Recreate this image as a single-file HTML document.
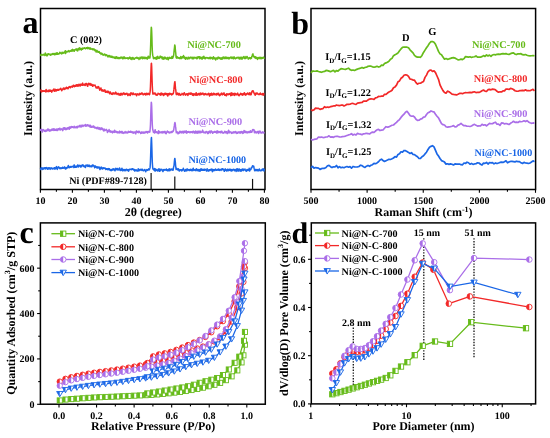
<!DOCTYPE html>
<html><head><meta charset="utf-8"><style>
html,body{margin:0;padding:0;background:#fff;width:550px;height:438px;overflow:hidden}
svg{display:block;filter:blur(0.3px)}
svg text{font-family:"Liberation Serif",serif;font-weight:bold;text-rendering:geometricPrecision}
</style></head><body>
<svg width="550" height="438" viewBox="0 0 550 438">
<rect width="550" height="438" fill="#fff"/>
<rect x="40.5" y="8.5" width="224.5" height="181" fill="none" stroke="#000" stroke-width="1.5"/>
<line x1="40.4" y1="189.5" x2="40.4" y2="192.8" stroke="#000" stroke-width="1.1"/>
<line x1="56.4" y1="189.5" x2="56.4" y2="191.7" stroke="#000" stroke-width="1.1"/>
<line x1="72.4" y1="189.5" x2="72.4" y2="192.8" stroke="#000" stroke-width="1.1"/>
<line x1="88.4" y1="189.5" x2="88.4" y2="191.7" stroke="#000" stroke-width="1.1"/>
<line x1="104.4" y1="189.5" x2="104.4" y2="192.8" stroke="#000" stroke-width="1.1"/>
<line x1="120.4" y1="189.5" x2="120.4" y2="191.7" stroke="#000" stroke-width="1.1"/>
<line x1="136.4" y1="189.5" x2="136.4" y2="192.8" stroke="#000" stroke-width="1.1"/>
<line x1="152.4" y1="189.5" x2="152.4" y2="191.7" stroke="#000" stroke-width="1.1"/>
<line x1="168.4" y1="189.5" x2="168.4" y2="192.8" stroke="#000" stroke-width="1.1"/>
<line x1="184.4" y1="189.5" x2="184.4" y2="191.7" stroke="#000" stroke-width="1.1"/>
<line x1="200.4" y1="189.5" x2="200.4" y2="192.8" stroke="#000" stroke-width="1.1"/>
<line x1="216.4" y1="189.5" x2="216.4" y2="191.7" stroke="#000" stroke-width="1.1"/>
<line x1="232.4" y1="189.5" x2="232.4" y2="192.8" stroke="#000" stroke-width="1.1"/>
<line x1="248.4" y1="189.5" x2="248.4" y2="191.7" stroke="#000" stroke-width="1.1"/>
<line x1="264.4" y1="189.5" x2="264.4" y2="192.8" stroke="#000" stroke-width="1.1"/>
<text x="40.4" y="204" font-size="10" text-anchor="middle" fill="#000" >10</text>
<text x="72.4" y="204" font-size="10" text-anchor="middle" fill="#000" >20</text>
<text x="104.4" y="204" font-size="10" text-anchor="middle" fill="#000" >30</text>
<text x="136.4" y="204" font-size="10" text-anchor="middle" fill="#000" >40</text>
<text x="168.4" y="204" font-size="10" text-anchor="middle" fill="#000" >50</text>
<text x="200.4" y="204" font-size="10" text-anchor="middle" fill="#000" >60</text>
<text x="232.4" y="204" font-size="10" text-anchor="middle" fill="#000" >70</text>
<text x="264.4" y="204" font-size="10" text-anchor="middle" fill="#000" >80</text>
<path d="M40.4,55.11 L40.6,55.34 L40.81,54.87 L41.01,54.3 L41.22,55.11 L41.42,55.09 L41.62,54.67 L41.83,55.06 L42.03,55.13 L42.23,55.01 L42.44,54.94 L42.64,54.94 L42.85,54.44 L43.05,54.46 L43.25,54.59 L43.46,55.01 L43.66,54.84 L43.86,54.47 L44.07,54.24 L44.27,54.47 L44.48,54.66 L44.68,54.83 L44.88,55.57 L45.09,55.02 L45.29,53.11 L45.5,53.19 L45.7,54.21 L45.9,54.49 L46.11,54.79 L46.31,55.24 L46.51,55.68 L46.72,54.4 L46.92,54.65 L47.13,55.83 L47.33,55.5 L47.53,55.04 L47.74,54.19 L47.94,53.69 L48.15,54.44 L48.35,54.49 L48.55,53.85 L48.76,54 L48.96,54.26 L49.16,54.04 L49.37,54.36 L49.57,54.6 L49.78,54.49 L49.98,54.37 L50.18,54.91 L50.39,55.15 L50.59,54.68 L50.79,54.22 L51,54.62 L51.2,54.46 L51.41,54.62 L51.61,54.16 L51.81,54.69 L52.02,54.31 L52.22,53.63 L52.43,53.96 L52.63,54.35 L52.83,54.29 L53.04,53.61 L53.24,53.53 L53.44,54.07 L53.65,54.05 L53.85,54.39 L54.06,54.34 L54.26,53.46 L54.46,54.2 L54.67,54.77 L54.87,54.01 L55.08,53.71 L55.28,54.35 L55.48,54.45 L55.69,54.46 L55.89,53.68 L56.09,53.06 L56.3,53.51 L56.5,53.77 L56.71,54.23 L56.91,53.78 L57.11,52.74 L57.32,52.99 L57.52,54.13 L57.72,54.13 L57.93,53.46 L58.13,53.62 L58.34,53.95 L58.54,54.08 L58.74,54.16 L58.95,53.8 L59.15,53.44 L59.36,53.49 L59.56,53.54 L59.76,52.33 L59.97,52.87 L60.17,53.05 L60.37,52.57 L60.58,53.04 L60.78,53.06 L60.99,53.49 L61.19,53.33 L61.39,53.64 L61.6,53.89 L61.8,53.27 L62.01,52.29 L62.21,52.26 L62.41,53.54 L62.62,52.97 L62.82,52.43 L63.02,52.68 L63.23,52.79 L63.43,53.1 L63.64,52.8 L63.84,52.47 L64.04,52.24 L64.25,52.43 L64.45,52.09 L64.65,52.85 L64.86,53.03 L65.06,51.32 L65.27,50.77 L65.47,52.57 L65.67,53.48 L65.88,51.82 L66.08,51.33 L66.29,51.97 L66.49,51.54 L66.69,51.44 L66.9,51.7 L67.1,51.99 L67.3,51.71 L67.51,51.78 L67.71,51.49 L67.92,51.09 L68.12,51.09 L68.32,50.97 L68.53,51.12 L68.73,50.63 L68.94,50.86 L69.14,51.92 L69.34,51.51 L69.55,51.29 L69.75,51.37 L69.95,50.96 L70.16,50.96 L70.36,51.27 L70.57,51 L70.77,50.5 L70.97,51.01 L71.18,50.47 L71.38,49.94 L71.58,49.98 L71.79,50.6 L71.99,51.22 L72.2,50.26 L72.4,50.02 L72.6,49.35 L72.81,50.21 L73.01,50.82 L73.22,50.25 L73.42,49.94 L73.62,50.37 L73.83,50.73 L74.03,50.98 L74.23,51.31 L74.44,50.4 L74.64,49.69 L74.85,49.76 L75.05,49.86 L75.25,49.9 L75.46,49.85 L75.66,49.56 L75.86,49 L76.07,49.72 L76.27,49.26 L76.48,48.97 L76.68,49.92 L76.88,50.43 L77.09,50 L77.29,49.44 L77.5,49.43 L77.7,50.89 L77.9,50.1 L78.11,48.68 L78.31,48.62 L78.51,48.83 L78.72,48.37 L78.92,48.86 L79.13,49.1 L79.33,49.81 L79.53,49.28 L79.74,47.71 L79.94,48.21 L80.15,48.27 L80.35,49.24 L80.55,49.26 L80.76,48.98 L80.96,48.67 L81.16,49.95 L81.37,49.99 L81.57,48.6 L81.78,48.61 L81.98,48.39 L82.18,48.31 L82.39,48.3 L82.59,49.24 L82.79,48.37 L83,48.35 L83.2,48.68 L83.41,48.26 L83.61,48.2 L83.81,48.16 L84.02,48.14 L84.22,47.77 L84.43,48.01 L84.63,48.24 L84.83,48.27 L85.04,48.39 L85.24,48.45 L85.44,48.76 L85.65,48.39 L85.85,48.2 L86.06,47.97 L86.26,47.82 L86.46,47.77 L86.67,48.3 L86.87,47.79 L87.08,47.91 L87.28,48.59 L87.48,48.68 L87.69,47.97 L87.89,47.39 L88.09,48.4 L88.3,48.47 L88.5,47.95 L88.71,48.58 L88.91,48.12 L89.11,47.87 L89.32,48.44 L89.52,48.61 L89.72,48.47 L89.93,48.22 L90.13,49.34 L90.34,48.52 L90.54,48.02 L90.74,48.89 L90.95,48.92 L91.15,49.05 L91.36,48.92 L91.56,49.06 L91.76,49.16 L91.97,48.99 L92.17,49.44 L92.37,49.07 L92.58,48.89 L92.78,49.47 L92.99,49.79 L93.19,49.45 L93.39,49.33 L93.6,49.67 L93.8,48.86 L94.01,49.1 L94.21,49.64 L94.41,49.42 L94.62,49.99 L94.82,50.45 L95.02,50.72 L95.23,50.05 L95.43,50.15 L95.64,50.31 L95.84,50.07 L96.04,51.98 L96.25,51.02 L96.45,50.7 L96.65,51.49 L96.86,51.08 L97.06,50.51 L97.27,51.64 L97.47,52.06 L97.67,51.53 L97.88,51.62 L98.08,51.92 L98.29,51.65 L98.49,52.18 L98.69,52.24 L98.9,51.7 L99.1,51.47 L99.3,51.95 L99.51,52.25 L99.71,53.09 L99.92,53.18 L100.12,53.36 L100.32,53.25 L100.53,53.11 L100.73,52.93 L100.94,53.82 L101.14,54.41 L101.34,53.52 L101.55,53.17 L101.75,53.39 L101.95,53.35 L102.16,53.42 L102.36,53.85 L102.57,54.17 L102.77,54.86 L102.97,54.54 L103.18,54.66 L103.38,54.92 L103.58,54.75 L103.79,55.18 L103.99,54.43 L104.2,54.12 L104.4,54.46 L104.6,54.52 L104.81,54.2 L105.01,54.49 L105.22,54.48 L105.42,55.65 L105.62,55.38 L105.83,54.84 L106.03,54.76 L106.23,55.09 L106.44,55.2 L106.64,54.87 L106.85,54.99 L107.05,55.41 L107.25,55.69 L107.46,56.52 L107.66,56.75 L107.86,56.32 L108.07,56.1 L108.27,55.62 L108.48,56.3 L108.68,56.44 L108.88,56.85 L109.09,56.9 L109.29,55.51 L109.5,55.99 L109.7,56.07 L109.9,56.44 L110.11,55.91 L110.31,56.18 L110.51,56.83 L110.72,57.12 L110.92,56.79 L111.13,56.31 L111.33,56.58 L111.53,57.28 L111.74,56.79 L111.94,56.22 L112.15,57.24 L112.35,57.58 L112.55,57.57 L112.76,57.24 L112.96,57.35 L113.16,56.86 L113.37,57.24 L113.57,57.2 L113.78,57.73 L113.98,57.83 L114.18,57.1 L114.39,57.2 L114.59,57.61 L114.79,58.19 L115,57.81 L115.2,57.01 L115.41,57.64 L115.61,58.37 L115.81,58.51 L116.02,56.93 L116.22,57.22 L116.43,57.97 L116.63,56.9 L116.83,56.83 L117.04,57.9 L117.24,58.19 L117.44,57.61 L117.65,57.9 L117.85,58.15 L118.06,58.58 L118.26,58.21 L118.46,58.14 L118.67,57.44 L118.87,57.52 L119.08,57.94 L119.28,58.53 L119.48,58.23 L119.69,57.68 L119.89,58.24 L120.09,58.4 L120.3,57.93 L120.5,57.71 L120.71,57.46 L120.91,57 L121.11,57.76 L121.32,57.93 L121.52,57.64 L121.72,57.93 L121.93,57.23 L122.13,57.31 L122.34,57.95 L122.54,58.65 L122.74,57.55 L122.95,58.14 L123.15,58.63 L123.36,58.54 L123.56,58.49 L123.76,57.22 L123.97,56.69 L124.17,57.75 L124.37,57.4 L124.58,57.37 L124.78,57.47 L124.99,58.48 L125.19,58.5 L125.39,57.91 L125.6,58.36 L125.8,58.18 L126.01,57.94 L126.21,57.95 L126.41,57.99 L126.62,58.33 L126.82,58.2 L127.02,58.03 L127.23,58.35 L127.43,57.89 L127.64,58.11 L127.84,58.53 L128.04,58.77 L128.25,58.29 L128.45,58.87 L128.65,58.36 L128.86,57.79 L129.06,57.7 L129.27,58.19 L129.47,57.92 L129.67,57.2 L129.88,57.08 L130.08,57.37 L130.29,57.72 L130.49,58.71 L130.69,59.09 L130.9,58.77 L131.1,58.26 L131.3,57.83 L131.51,58.1 L131.71,58.86 L131.92,59.47 L132.12,58.82 L132.32,58.01 L132.53,57.87 L132.73,57.6 L132.94,57.45 L133.14,57.79 L133.34,58.39 L133.55,59.03 L133.75,58.59 L133.95,59.05 L134.16,59.2 L134.36,58.64 L134.57,59 L134.77,58.59 L134.97,57.94 L135.18,58.06 L135.38,58.01 L135.58,57.83 L135.79,57.87 L135.99,58.11 L136.2,58.09 L136.4,57.59 L136.6,57.55 L136.81,57.21 L137.01,57.97 L137.22,58.4 L137.42,58.24 L137.62,58.28 L137.83,58.24 L138.03,57.69 L138.23,57.83 L138.44,58.4 L138.64,58.69 L138.85,58.84 L139.05,59.42 L139.25,58.57 L139.46,58.74 L139.66,58.82 L139.86,57.99 L140.07,57.3 L140.27,57.23 L140.48,58.06 L140.68,58.66 L140.88,58.36 L141.09,58.05 L141.29,57.91 L141.5,57.83 L141.7,56.97 L141.9,57.72 L142.11,57.79 L142.31,57.63 L142.51,58.65 L142.72,57.42 L142.92,56.92 L143.13,57.33 L143.33,58.19 L143.53,57.81 L143.74,58.27 L143.94,58.45 L144.15,57.97 L144.35,57.19 L144.55,57.69 L144.76,58.51 L144.96,57.4 L145.16,57.23 L145.37,57.85 L145.57,58.39 L145.78,58.35 L145.98,58.18 L146.18,57.65 L146.39,58.34 L146.59,58.1 L146.79,57.42 L147,58.85 L147.2,59.26 L147.41,57.88 L147.61,58 L147.81,58.34 L148.02,56.92 L148.22,56.23 L148.43,56.61 L148.63,57.1 L148.83,57.4 L149.04,57.93 L149.24,57.61 L149.44,56.95 L149.65,57.66 L149.85,58.07 L150.06,56.8 L150.26,54.2 L150.46,50.02 L150.67,44.42 L150.87,37.07 L151.08,31.11 L151.28,27.28 L151.48,27.77 L151.69,31.42 L151.89,37.13 L152.09,44.46 L152.3,50.35 L152.5,53.09 L152.71,55.06 L152.91,55.98 L153.11,56.48 L153.32,57.96 L153.52,58.61 L153.72,58.37 L153.93,57.97 L154.13,57.8 L154.34,57.76 L154.54,57.61 L154.74,58.36 L154.95,58.73 L155.15,58.45 L155.36,57.77 L155.56,57.8 L155.76,58.14 L155.97,58.87 L156.17,57.99 L156.37,57 L156.58,58.14 L156.78,59.14 L156.99,58.8 L157.19,58.54 L157.39,57.76 L157.6,56.56 L157.8,56.39 L158.01,56.93 L158.21,57.72 L158.41,58.22 L158.62,58.32 L158.82,58.07 L159.02,58.37 L159.23,57.86 L159.43,57.69 L159.64,58.13 L159.84,57.13 L160.04,56.14 L160.25,56.92 L160.45,57.28 L160.65,56.26 L160.86,57.16 L161.06,57.47 L161.27,56.88 L161.47,56.83 L161.67,57.36 L161.88,57.82 L162.08,58.62 L162.29,58.12 L162.49,57.04 L162.69,57.36 L162.9,58.55 L163.1,59.2 L163.3,58.58 L163.51,58.55 L163.71,59.03 L163.92,58.25 L164.12,57.55 L164.32,57.07 L164.53,57.84 L164.73,58.81 L164.94,57.6 L165.14,57.47 L165.34,57.24 L165.55,57.95 L165.75,58.44 L165.95,58.14 L166.16,58.46 L166.36,58.58 L166.57,58.66 L166.77,59.12 L166.97,58.65 L167.18,57.83 L167.38,57.4 L167.58,57.48 L167.79,58.02 L167.99,58.37 L168.2,59.72 L168.4,59.42 L168.6,58.12 L168.81,58.05 L169.01,58.48 L169.22,57.17 L169.42,57.55 L169.62,58.23 L169.83,57.55 L170.03,57.47 L170.23,57.79 L170.44,58.26 L170.64,58.2 L170.85,58.28 L171.05,58.33 L171.25,58.24 L171.46,58.39 L171.66,57.45 L171.86,56.66 L172.07,56.36 L172.27,56.56 L172.48,57.42 L172.68,58.27 L172.88,57.87 L173.09,57.04 L173.29,56.4 L173.5,55.97 L173.7,54.99 L173.9,53.11 L174.11,50.63 L174.31,48.92 L174.51,47.3 L174.72,45.07 L174.92,45.33 L175.13,46.42 L175.33,49.29 L175.53,51.31 L175.74,52.88 L175.94,55.68 L176.15,57.7 L176.35,57.86 L176.55,58.21 L176.76,57.5 L176.96,56.71 L177.16,57.64 L177.37,57.46 L177.57,57.16 L177.78,58.11 L177.98,58.11 L178.18,57.84 L178.39,58.14 L178.59,57.73 L178.79,57.96 L179,57.65 L179.2,57.87 L179.41,57.72 L179.61,58.61 L179.81,58.62 L180.02,58.63 L180.22,57.69 L180.43,57.71 L180.63,57.84 L180.83,56.45 L181.04,57.09 L181.24,58.42 L181.44,58.59 L181.65,58.53 L181.85,58.09 L182.06,58.1 L182.26,57.44 L182.46,56.8 L182.67,56.72 L182.87,57.28 L183.08,57.47 L183.28,56.91 L183.48,55.6 L183.69,56.17 L183.89,57.39 L184.09,57.94 L184.3,57.57 L184.5,56.99 L184.71,56.95 L184.91,58.47 L185.11,58.06 L185.32,58.98 L185.52,59.18 L185.72,58.32 L185.93,57.75 L186.13,57.75 L186.34,57.44 L186.54,57.92 L186.74,58.14 L186.95,58.45 L187.15,58.91 L187.36,59.03 L187.56,58.28 L187.76,58.34 L187.97,57.59 L188.17,57.26 L188.37,57.32 L188.58,57.53 L188.78,58.51 L188.99,58.9 L189.19,58.84 L189.39,58.26 L189.6,58.03 L189.8,57.52 L190.01,57.35 L190.21,58.08 L190.41,58.02 L190.62,57.55 L190.82,57.8 L191.02,57.13 L191.23,57.47 L191.43,57.53 L191.64,57.4 L191.84,57.49 L192.04,58.42 L192.25,58.69 L192.45,58.76 L192.65,58.05 L192.86,57.25 L193.06,57.34 L193.27,57.36 L193.47,58.24 L193.67,58.78 L193.88,58.27 L194.08,57.65 L194.29,57.71 L194.49,57.77 L194.69,57.27 L194.9,57.84 L195.1,58.02 L195.3,57.65 L195.51,57.69 L195.71,57.85 L195.92,57.42 L196.12,57.53 L196.32,58.29 L196.53,58.54 L196.73,58.75 L196.94,57.43 L197.14,57.01 L197.34,58.34 L197.55,58.53 L197.75,57.48 L197.95,57.04 L198.16,57.37 L198.36,56.96 L198.57,57.08 L198.77,56.69 L198.97,57.07 L199.18,56.74 L199.38,57.73 L199.58,58.7 L199.79,58.23 L199.99,58.22 L200.2,57.6 L200.4,57.1 L200.6,57.18 L200.81,58.25 L201.01,58.41 L201.22,58.62 L201.42,57.58 L201.62,57.64 L201.83,58.22 L202.03,59.06 L202.23,59.08 L202.44,57.73 L202.64,56.91 L202.85,57.05 L203.05,58.35 L203.25,58.03 L203.46,57.58 L203.66,57.35 L203.86,56.25 L204.07,56.73 L204.27,58.22 L204.48,58.36 L204.68,57.92 L204.88,57.54 L205.09,58.41 L205.29,58.8 L205.5,57.61 L205.7,57.66 L205.9,57.78 L206.11,58.07 L206.31,58 L206.51,57.71 L206.72,57.44 L206.92,57.67 L207.13,57.59 L207.33,57.75 L207.53,58.01 L207.74,58.19 L207.94,57.69 L208.15,57.86 L208.35,58.43 L208.55,57.98 L208.76,57.92 L208.96,58.42 L209.16,58.27 L209.37,58.09 L209.57,57.86 L209.78,57.4 L209.98,58.22 L210.18,58.86 L210.39,58.22 L210.59,57.27 L210.79,57.66 L211,57.48 L211.2,57.69 L211.41,57.77 L211.61,57.58 L211.81,58.45 L212.02,58.31 L212.22,58.49 L212.43,58.69 L212.63,59.02 L212.83,58.58 L213.04,57.39 L213.24,57.34 L213.44,56.74 L213.65,57.47 L213.85,58.44 L214.06,58.82 L214.26,58.76 L214.46,58.05 L214.67,58.09 L214.87,58.31 L215.08,58.96 L215.28,58.99 L215.48,58.74 L215.69,59.95 L215.89,58.58 L216.09,57.88 L216.3,58.36 L216.5,58.59 L216.71,58.29 L216.91,57.98 L217.11,58.66 L217.32,58.54 L217.52,59.06 L217.72,58.77 L217.93,57.36 L218.13,57.04 L218.34,57.31 L218.54,57.94 L218.74,58.1 L218.95,57.99 L219.15,57.67 L219.36,58.32 L219.56,58.58 L219.76,57.48 L219.97,57.68 L220.17,58.06 L220.37,57.92 L220.58,58.17 L220.78,59.13 L220.99,59.15 L221.19,58.54 L221.39,58.13 L221.6,59.12 L221.8,58.48 L222.01,57.68 L222.21,57.61 L222.41,58.04 L222.62,59.08 L222.82,58.49 L223.02,57.67 L223.23,56.97 L223.43,57.81 L223.64,57.34 L223.84,57.3 L224.04,57.96 L224.25,57.78 L224.45,58.48 L224.65,58.42 L224.86,57.2 L225.06,57.31 L225.27,57.1 L225.47,57.83 L225.67,58.22 L225.88,57.74 L226.08,58.66 L226.29,57.93 L226.49,57.27 L226.69,57.85 L226.9,58.14 L227.1,57.38 L227.3,57.49 L227.51,57.46 L227.71,58.41 L227.92,58.21 L228.12,57.97 L228.32,58.23 L228.53,57.4 L228.73,57.87 L228.94,58.89 L229.14,58.49 L229.34,58.73 L229.55,58.2 L229.75,57.59 L229.95,57.74 L230.16,57.9 L230.36,57.62 L230.57,57.32 L230.77,57.14 L230.97,57.06 L231.18,57.84 L231.38,58.35 L231.58,58.13 L231.79,57.28 L231.99,58.09 L232.2,57.86 L232.4,57.22 L232.6,57.92 L232.81,58.53 L233.01,58.54 L233.22,58.63 L233.42,58.78 L233.62,58.63 L233.83,57.75 L234.03,56.71 L234.23,57.26 L234.44,57.95 L234.64,57.91 L234.85,58.41 L235.05,58.54 L235.25,58.49 L235.46,58.83 L235.66,57.96 L235.86,58.22 L236.07,57.75 L236.27,57.58 L236.48,58.05 L236.68,57.91 L236.88,58.12 L237.09,57.51 L237.29,57.64 L237.5,57.49 L237.7,57.63 L237.9,57.53 L238.11,57.42 L238.31,57.91 L238.51,57.25 L238.72,57.39 L238.92,58.46 L239.13,58.79 L239.33,58.58 L239.53,58.7 L239.74,59.06 L239.94,57.6 L240.15,57.18 L240.35,57.47 L240.55,58.34 L240.76,58.5 L240.96,58.81 L241.16,58.67 L241.37,57.89 L241.57,57.32 L241.78,57.7 L241.98,59.17 L242.18,59.01 L242.39,58.42 L242.59,57.87 L242.79,57.75 L243,57.7 L243.2,57.31 L243.41,56.62 L243.61,57.45 L243.81,57.82 L244.02,58.11 L244.22,58.3 L244.43,58.48 L244.63,58.27 L244.83,57.95 L245.04,56.54 L245.24,57.24 L245.44,58.49 L245.65,57.58 L245.85,57.74 L246.06,58.15 L246.26,57.76 L246.46,57.95 L246.67,56.99 L246.87,56.45 L247.08,56.62 L247.28,56.84 L247.48,57.61 L247.69,57.86 L247.89,57.91 L248.09,57.93 L248.3,59.14 L248.5,58.37 L248.71,58.01 L248.91,58.16 L249.11,57.8 L249.32,57.59 L249.52,58.06 L249.72,58.59 L249.93,58.65 L250.13,58.47 L250.34,57.66 L250.54,57.76 L250.74,58.78 L250.95,58.14 L251.15,58.07 L251.36,58.31 L251.56,58 L251.76,56.48 L251.97,56.09 L252.17,55.9 L252.37,55.21 L252.58,54.21 L252.78,54.4 L252.99,53.89 L253.19,55.33 L253.39,56.35 L253.6,56.49 L253.8,56.32 L254.01,57.2 L254.21,56.84 L254.41,56.58 L254.62,56.83 L254.82,57.22 L255.02,57.97 L255.23,58.02 L255.43,56.85 L255.64,57.44 L255.84,58.38 L256.04,58.33 L256.25,58.01 L256.45,57.42 L256.65,57.94 L256.86,57.34 L257.06,58.05 L257.27,59.09 L257.47,59.34 L257.67,58.76 L257.88,58.45 L258.08,57.73 L258.29,57.83 L258.49,58.53 L258.69,58.18 L258.9,57.67 L259.1,57.23 L259.3,57.94 L259.51,58.22 L259.71,57.59 L259.92,57.86 L260.12,58.79 L260.32,58.32 L260.53,57.67 L260.73,57.22 L260.94,57.41 L261.14,57.99 L261.34,58.58 L261.55,58.23 L261.75,58.69 L261.95,57.75 L262.16,57.79 L262.36,58.34 L262.57,57.87 L262.77,57.48 L262.97,57.86 L263.18,57.91 L263.38,57.11 L263.58,57.53 L263.79,57.82 L263.99,57.89 L264.2,58.22 L264.4,57.82" fill="none" stroke="#66bb1a" stroke-width="1.5" stroke-linejoin="round"/>
<path d="M40.4,91.08 L40.6,90.75 L40.81,90.31 L41.01,90 L41.22,91.81 L41.42,91.95 L41.62,91.24 L41.83,91.48 L42.03,91.26 L42.23,90.99 L42.44,91.43 L42.64,91.01 L42.85,90.68 L43.05,90.65 L43.25,91.14 L43.46,91.18 L43.66,91.21 L43.86,90.83 L44.07,90.84 L44.27,90.73 L44.48,91.36 L44.68,91.34 L44.88,91.31 L45.09,91.11 L45.29,90.68 L45.5,91.61 L45.7,91.95 L45.9,90.16 L46.11,89.48 L46.31,90 L46.51,91.18 L46.72,91.38 L46.92,91.69 L47.13,91.57 L47.33,91.23 L47.53,91.09 L47.74,91.03 L47.94,91.14 L48.15,90.37 L48.35,90.5 L48.55,91.26 L48.76,91.74 L48.96,90.57 L49.16,90.02 L49.37,90.5 L49.57,91.19 L49.78,91.09 L49.98,91.12 L50.18,90.2 L50.39,91.22 L50.59,91.25 L50.79,90.18 L51,90.76 L51.2,91.4 L51.41,91.13 L51.61,91.65 L51.81,92.16 L52.02,91.15 L52.22,90.37 L52.43,90.24 L52.63,90.75 L52.83,90.53 L53.04,90.38 L53.24,90.54 L53.44,90.63 L53.65,89.73 L53.85,88.99 L54.06,89.05 L54.26,90.62 L54.46,90.9 L54.67,91.18 L54.87,90.46 L55.08,89.98 L55.28,90.38 L55.48,90.07 L55.69,89.37 L55.89,89.81 L56.09,91.02 L56.3,90.72 L56.5,90.35 L56.71,89.88 L56.91,89.79 L57.11,90.36 L57.32,89.95 L57.52,89.5 L57.72,89.55 L57.93,89.41 L58.13,90 L58.34,90.32 L58.54,89.8 L58.74,90.26 L58.95,89.64 L59.15,89.5 L59.36,89.18 L59.56,89.35 L59.76,89.48 L59.97,89.18 L60.17,88.92 L60.37,88.82 L60.58,88.57 L60.78,88.34 L60.99,88.99 L61.19,89.63 L61.39,89.94 L61.6,90.17 L61.8,90.68 L62.01,89.67 L62.21,89.24 L62.41,89.79 L62.62,88.95 L62.82,89.12 L63.02,88.64 L63.23,88.54 L63.43,87.99 L63.64,88.88 L63.84,88.64 L64.04,88.44 L64.25,89.51 L64.45,89.32 L64.65,88.57 L64.86,88.1 L65.06,88.26 L65.27,88.43 L65.47,88.86 L65.67,88.74 L65.88,87.94 L66.08,87.69 L66.29,87.52 L66.49,87.17 L66.69,87.47 L66.9,87.97 L67.1,88.54 L67.3,88.59 L67.51,87.75 L67.71,87.87 L67.92,87.98 L68.12,88.72 L68.32,88.08 L68.53,87.68 L68.73,86.97 L68.94,86.91 L69.14,87.32 L69.34,87.27 L69.55,87.16 L69.75,86.61 L69.95,87.13 L70.16,87.11 L70.36,87.83 L70.57,87.41 L70.77,87.29 L70.97,86.47 L71.18,86.72 L71.38,86.36 L71.58,86.37 L71.79,86.61 L71.99,86.57 L72.2,86.86 L72.4,87.15 L72.6,87 L72.81,86.3 L73.01,85.53 L73.22,85.66 L73.42,85.69 L73.62,85.23 L73.83,86.21 L74.03,86.14 L74.23,86.12 L74.44,86.66 L74.64,86.6 L74.85,86.04 L75.05,85.48 L75.25,85.93 L75.46,85.92 L75.66,85.56 L75.86,86.24 L76.07,85.8 L76.27,84.7 L76.48,85.09 L76.68,85.1 L76.88,86.05 L77.09,85.92 L77.29,84.82 L77.5,84.73 L77.7,85.2 L77.9,85.47 L78.11,86.18 L78.31,85.85 L78.51,85.27 L78.72,85.05 L78.92,84.18 L79.13,85.04 L79.33,85.53 L79.53,84.94 L79.74,84.66 L79.94,85.47 L80.15,86.11 L80.35,85.14 L80.55,84.54 L80.76,85.06 L80.96,84.12 L81.16,84.59 L81.37,84.68 L81.57,84.95 L81.78,84.63 L81.98,85.27 L82.18,84.72 L82.39,83.38 L82.59,83.16 L82.79,84.28 L83,85.22 L83.2,84.85 L83.41,84.53 L83.61,84.52 L83.81,84.91 L84.02,84.86 L84.22,84.5 L84.43,84.18 L84.63,85.15 L84.83,85.14 L85.04,84.38 L85.24,85.55 L85.44,85.12 L85.65,83.93 L85.85,83.4 L86.06,84.51 L86.26,84.71 L86.46,83.85 L86.67,83.52 L86.87,84.57 L87.08,84.2 L87.28,84.55 L87.48,86.24 L87.69,86.25 L87.89,85.24 L88.09,84.47 L88.3,84.3 L88.5,83.37 L88.71,83.99 L88.91,83.88 L89.11,83.42 L89.32,83.57 L89.52,84.61 L89.72,84.8 L89.93,84.92 L90.13,85.04 L90.34,84.22 L90.54,83.65 L90.74,83.6 L90.95,84.53 L91.15,85.27 L91.36,85.17 L91.56,85.17 L91.76,84.52 L91.97,84.58 L92.17,84.53 L92.37,84.85 L92.58,86.33 L92.78,86.12 L92.99,85.15 L93.19,85.06 L93.39,85.27 L93.6,85.07 L93.8,85.61 L94.01,85.26 L94.21,85.42 L94.41,85.42 L94.62,85.53 L94.82,85.22 L95.02,85.13 L95.23,85.56 L95.43,85.99 L95.64,86.41 L95.84,87.04 L96.04,87.86 L96.25,87.65 L96.45,87.22 L96.65,87.4 L96.86,87.3 L97.06,88.14 L97.27,87.8 L97.47,87.1 L97.67,88.01 L97.88,87.89 L98.08,86.47 L98.29,87.04 L98.49,87.38 L98.69,86.9 L98.9,87.23 L99.1,87.82 L99.3,88.69 L99.51,89.37 L99.71,90.15 L99.92,89.32 L100.12,89.52 L100.32,89.35 L100.53,89.11 L100.73,88.34 L100.94,87.98 L101.14,88.84 L101.34,90.12 L101.55,90.76 L101.75,90.46 L101.95,90.09 L102.16,89.87 L102.36,90.97 L102.57,91.05 L102.77,90.19 L102.97,90.03 L103.18,90.14 L103.38,91.2 L103.58,91.07 L103.79,90.79 L103.99,91.06 L104.2,91.1 L104.4,90.58 L104.6,90.06 L104.81,89.88 L105.01,90.11 L105.22,91.61 L105.42,92.33 L105.62,90.94 L105.83,91.35 L106.03,91.65 L106.23,91.23 L106.44,91.46 L106.64,91.45 L106.85,92.2 L107.05,91.84 L107.25,92.07 L107.46,92.37 L107.66,91.69 L107.86,91.04 L108.07,91.77 L108.27,92.61 L108.48,92.5 L108.68,92.33 L108.88,91.96 L109.09,92.54 L109.29,93.01 L109.5,93.13 L109.7,93.68 L109.9,92.78 L110.11,91.89 L110.31,91.98 L110.51,93.2 L110.72,93.28 L110.92,93.58 L111.13,93.73 L111.33,94.23 L111.53,94 L111.74,93.2 L111.94,93.44 L112.15,93.61 L112.35,93.03 L112.55,94.05 L112.76,94.4 L112.96,94.05 L113.16,93.5 L113.37,93.33 L113.57,92.9 L113.78,93.19 L113.98,93.2 L114.18,93.37 L114.39,93.35 L114.59,93.85 L114.79,94.05 L115,93.3 L115.2,93.56 L115.41,92.38 L115.61,92.15 L115.81,93.27 L116.02,93.81 L116.22,93.71 L116.43,92.97 L116.63,93.5 L116.83,94.11 L117.04,94.53 L117.24,94.13 L117.44,93.97 L117.65,93.43 L117.85,93.56 L118.06,93.79 L118.26,94.07 L118.46,93.41 L118.67,93.46 L118.87,94.48 L119.08,95.15 L119.28,94.61 L119.48,94.21 L119.69,94.12 L119.89,94.69 L120.09,94.88 L120.3,95.19 L120.5,94.42 L120.71,93.55 L120.91,93.46 L121.11,93.26 L121.32,93.5 L121.52,94.73 L121.72,94.57 L121.93,93.93 L122.13,94.92 L122.34,94.42 L122.54,93.74 L122.74,94.17 L122.95,94.04 L123.15,93.37 L123.36,92.97 L123.56,93.88 L123.76,93.86 L123.97,92.92 L124.17,94.11 L124.37,94.52 L124.58,94.05 L124.78,94.1 L124.99,93.89 L125.19,93.61 L125.39,94.07 L125.6,94.58 L125.8,93.68 L126.01,94.08 L126.21,94.19 L126.41,93.75 L126.62,93.56 L126.82,93.19 L127.02,93.47 L127.23,94.1 L127.43,94.2 L127.64,94.31 L127.84,95.57 L128.04,94.45 L128.25,94.11 L128.45,94.01 L128.65,94.16 L128.86,94.73 L129.06,94.4 L129.27,95.03 L129.47,94.86 L129.67,94.02 L129.88,94.44 L130.08,94.52 L130.29,95.48 L130.49,94.31 L130.69,93.27 L130.9,92.76 L131.1,93.04 L131.3,93.47 L131.51,93.33 L131.71,93.22 L131.92,93.56 L132.12,94.22 L132.32,94.63 L132.53,93.43 L132.73,93.42 L132.94,93.3 L133.14,92.97 L133.34,93.07 L133.55,93.6 L133.75,94.38 L133.95,94.12 L134.16,93.98 L134.36,94.48 L134.57,94.41 L134.77,94.19 L134.97,94.21 L135.18,93.93 L135.38,94.46 L135.58,94.48 L135.79,93.83 L135.99,93.73 L136.2,94.81 L136.4,95.06 L136.6,95.74 L136.81,94.54 L137.01,94.45 L137.22,94.15 L137.42,94.4 L137.62,94.54 L137.83,93.89 L138.03,94.02 L138.23,94.28 L138.44,94.38 L138.64,94.71 L138.85,95 L139.05,94.87 L139.25,94.41 L139.46,93.84 L139.66,93.38 L139.86,93.49 L140.07,93.89 L140.27,94.39 L140.48,93.88 L140.68,93.56 L140.88,94.15 L141.09,93.72 L141.29,93.58 L141.5,94 L141.7,93.96 L141.9,92.76 L142.11,93.17 L142.31,94 L142.51,93.85 L142.72,93.54 L142.92,93.97 L143.13,94.74 L143.33,94.3 L143.53,94.61 L143.74,94.64 L143.94,94.14 L144.15,94.24 L144.35,93.88 L144.55,93.54 L144.76,93.59 L144.96,94.35 L145.16,93.99 L145.37,93.57 L145.57,93.76 L145.78,95.04 L145.98,94.83 L146.18,94.06 L146.39,93.44 L146.59,93.21 L146.79,94.04 L147,94.05 L147.2,93.59 L147.41,94.59 L147.61,94.52 L147.81,93.57 L148.02,93.48 L148.22,93.7 L148.43,93.96 L148.63,93.6 L148.83,93.27 L149.04,94.42 L149.24,94.46 L149.44,94.65 L149.65,94.33 L149.85,93.14 L150.06,92.17 L150.26,90.36 L150.46,86.58 L150.67,80.55 L150.87,73.65 L151.08,67.55 L151.28,63.45 L151.48,63.27 L151.69,66.86 L151.89,73.83 L152.09,80.27 L152.3,85.79 L152.5,89.82 L152.71,92.47 L152.91,94.11 L153.11,93.67 L153.32,92.99 L153.52,93.51 L153.72,93.64 L153.93,93.9 L154.13,93.52 L154.34,93.38 L154.54,93.49 L154.74,93.27 L154.95,92.83 L155.15,93.37 L155.36,94.16 L155.56,94.68 L155.76,94.09 L155.97,93.95 L156.17,94.45 L156.37,94.8 L156.58,95.19 L156.78,94.73 L156.99,94.47 L157.19,95.13 L157.39,95.12 L157.6,94.19 L157.8,93.84 L158.01,93.21 L158.21,93.49 L158.41,93.57 L158.62,93.8 L158.82,93.83 L159.02,93.97 L159.23,94.17 L159.43,94.45 L159.64,94.28 L159.84,93.67 L160.04,93.59 L160.25,94.86 L160.45,95.08 L160.65,94.28 L160.86,94.12 L161.06,93.17 L161.27,93.01 L161.47,94.01 L161.67,94.73 L161.88,93.73 L162.08,93.83 L162.29,94.55 L162.49,93.56 L162.69,94.27 L162.9,94.52 L163.1,94.19 L163.3,94.71 L163.51,95.43 L163.71,93.99 L163.92,93.76 L164.12,93.87 L164.32,93.52 L164.53,93.62 L164.73,94.84 L164.94,94.27 L165.14,93.14 L165.34,93.56 L165.55,94.34 L165.75,94.21 L165.95,93.46 L166.16,93.92 L166.36,94.37 L166.57,94.51 L166.77,94.13 L166.97,93.59 L167.18,94.88 L167.38,94.95 L167.58,95.7 L167.79,96.01 L167.99,94.38 L168.2,93.63 L168.4,94.38 L168.6,94.14 L168.81,93.7 L169.01,93.83 L169.22,94.81 L169.42,93.97 L169.62,93.24 L169.83,93.45 L170.03,93.47 L170.23,93.95 L170.44,93.75 L170.64,93.6 L170.85,94.15 L171.05,94.02 L171.25,94.62 L171.46,94.86 L171.66,94.01 L171.86,93.71 L172.07,94.22 L172.27,94.57 L172.48,94.21 L172.68,94.05 L172.88,93.96 L173.09,93.99 L173.29,93.62 L173.5,92.33 L173.7,91.16 L173.9,89.66 L174.11,87.31 L174.31,85.28 L174.51,83.47 L174.72,81.98 L174.92,81.67 L175.13,83.31 L175.33,86.67 L175.53,88.69 L175.74,89.63 L175.94,91.5 L176.15,93.98 L176.35,94.63 L176.55,94.31 L176.76,94.3 L176.96,93.4 L177.16,93.9 L177.37,94.12 L177.57,93.06 L177.78,93.47 L177.98,94.59 L178.18,94.76 L178.39,94.06 L178.59,94.47 L178.79,94.98 L179,93.98 L179.2,93.35 L179.41,93.81 L179.61,94.17 L179.81,94.82 L180.02,94.34 L180.22,94.19 L180.43,95.23 L180.63,94.42 L180.83,94.46 L181.04,94.76 L181.24,94.75 L181.44,94.52 L181.65,94.51 L181.85,93.99 L182.06,93.36 L182.26,93.77 L182.46,94 L182.67,94.07 L182.87,94.11 L183.08,94.11 L183.28,95.07 L183.48,94.87 L183.69,93.28 L183.89,93.67 L184.09,93.34 L184.3,92.73 L184.5,93.83 L184.71,93.86 L184.91,93.76 L185.11,93.96 L185.32,94.88 L185.52,95.1 L185.72,94.69 L185.93,94.59 L186.13,94.28 L186.34,94.11 L186.54,93.82 L186.74,93.95 L186.95,93.88 L187.15,94.41 L187.36,94.76 L187.56,94.72 L187.76,95.37 L187.97,95.48 L188.17,93.54 L188.37,93.72 L188.58,93.81 L188.78,93.6 L188.99,93.39 L189.19,93.93 L189.39,93.95 L189.6,93.76 L189.8,93.84 L190.01,93.41 L190.21,93.02 L190.41,94.3 L190.62,94.05 L190.82,93.68 L191.02,94.07 L191.23,93.5 L191.43,93.06 L191.64,93.98 L191.84,93.41 L192.04,93.8 L192.25,94.46 L192.45,95.16 L192.65,95.11 L192.86,94.36 L193.06,93.74 L193.27,94.03 L193.47,95.03 L193.67,95.45 L193.88,94.7 L194.08,94.13 L194.29,94.57 L194.49,94.11 L194.69,93.86 L194.9,94.08 L195.1,94.51 L195.3,94.63 L195.51,95.02 L195.71,95.17 L195.92,94.29 L196.12,92.72 L196.32,92.89 L196.53,93.97 L196.73,94.58 L196.94,95.35 L197.14,94.54 L197.34,94.28 L197.55,94.87 L197.75,94.9 L197.95,94.35 L198.16,94.21 L198.36,93.5 L198.57,93.71 L198.77,94.44 L198.97,93.83 L199.18,94.56 L199.38,94.87 L199.58,94.9 L199.79,94.93 L199.99,94.28 L200.2,92.96 L200.4,93.16 L200.6,93.86 L200.81,94.38 L201.01,93.63 L201.22,93.55 L201.42,94.11 L201.62,94.58 L201.83,93.41 L202.03,93.32 L202.23,93.91 L202.44,93.22 L202.64,93.91 L202.85,93.73 L203.05,93.19 L203.25,93.51 L203.46,93.61 L203.66,94.17 L203.86,94.69 L204.07,95.07 L204.27,94.48 L204.48,94.15 L204.68,93.9 L204.88,94.27 L205.09,94.41 L205.29,93.47 L205.5,94.11 L205.7,94.04 L205.9,94.2 L206.11,94.54 L206.31,94.76 L206.51,94.41 L206.72,94.09 L206.92,94.3 L207.13,94.22 L207.33,94.13 L207.53,94.43 L207.74,94.73 L207.94,94.46 L208.15,94.08 L208.35,93.51 L208.55,93.56 L208.76,93.3 L208.96,94.08 L209.16,94.05 L209.37,95.27 L209.57,95.98 L209.78,94.76 L209.98,94.92 L210.18,94.56 L210.39,93.82 L210.59,93.74 L210.79,94.6 L211,95.12 L211.2,94.37 L211.41,93.26 L211.61,93.32 L211.81,94.13 L212.02,94.94 L212.22,94.65 L212.43,94.64 L212.63,94.87 L212.83,94.29 L213.04,94.08 L213.24,93.76 L213.44,93.29 L213.65,94.2 L213.85,94.68 L214.06,94.59 L214.26,93.59 L214.46,93.71 L214.67,94.61 L214.87,94.79 L215.08,94.84 L215.28,94.02 L215.48,94.03 L215.69,93.93 L215.89,94.16 L216.09,94.09 L216.3,94.6 L216.5,95 L216.71,94.43 L216.91,93.51 L217.11,94.46 L217.32,94.42 L217.52,93.56 L217.72,93.53 L217.93,94.15 L218.13,94.43 L218.34,93.77 L218.54,93.29 L218.74,94.09 L218.95,94.78 L219.15,95.32 L219.36,94.4 L219.56,95.64 L219.76,95.65 L219.97,94.97 L220.17,95.17 L220.37,94.73 L220.58,94.61 L220.78,93.99 L220.99,93.93 L221.19,93.38 L221.39,93.12 L221.6,93.65 L221.8,93.9 L222.01,94.62 L222.21,94.96 L222.41,94.35 L222.62,94.23 L222.82,94.01 L223.02,93.37 L223.23,94.04 L223.43,94.24 L223.64,93.98 L223.84,93.24 L224.04,92.89 L224.25,93.76 L224.45,94.57 L224.65,95.18 L224.86,95.31 L225.06,95.25 L225.27,94.87 L225.47,94.85 L225.67,94.41 L225.88,94.67 L226.08,95.3 L226.29,95.86 L226.49,94.58 L226.69,93.8 L226.9,94.57 L227.1,94.01 L227.3,93.97 L227.51,93.87 L227.71,93.9 L227.92,94.86 L228.12,94.65 L228.32,93.99 L228.53,94.05 L228.73,94.09 L228.94,94.38 L229.14,93.97 L229.34,93.6 L229.55,93.63 L229.75,93.9 L229.95,94.11 L230.16,93.74 L230.36,94.06 L230.57,94.84 L230.77,95.69 L230.97,94.54 L231.18,92.65 L231.38,93.31 L231.58,93.95 L231.79,94.58 L231.99,95.24 L232.2,94.47 L232.4,93.14 L232.6,93.97 L232.81,94.39 L233.01,94.69 L233.22,94.81 L233.42,94.05 L233.62,94.3 L233.83,93.51 L234.03,94 L234.23,94.82 L234.44,95.37 L234.64,93.92 L234.85,93.28 L235.05,94.14 L235.25,94.25 L235.46,94.8 L235.66,93.94 L235.86,93.82 L236.07,94.73 L236.27,94.65 L236.48,94.5 L236.68,93.9 L236.88,94.73 L237.09,94.32 L237.29,94.35 L237.5,93.52 L237.7,93.13 L237.9,93.81 L238.11,94.53 L238.31,95.14 L238.51,94.8 L238.72,94.76 L238.92,95.24 L239.13,95.85 L239.33,94.54 L239.53,94.7 L239.74,94.39 L239.94,94.21 L240.15,94.16 L240.35,94.5 L240.55,93.49 L240.76,93.22 L240.96,93.64 L241.16,93.66 L241.37,94.53 L241.57,94.68 L241.78,94.1 L241.98,94.36 L242.18,93.97 L242.39,94.05 L242.59,94.53 L242.79,95.21 L243,94.37 L243.2,93.54 L243.41,93.75 L243.61,94.38 L243.81,93.42 L244.02,93.57 L244.22,93.46 L244.43,92.72 L244.63,93.68 L244.83,94.69 L245.04,94.33 L245.24,93.87 L245.44,94.49 L245.65,94.96 L245.85,95.24 L246.06,94.08 L246.26,93.85 L246.46,94.11 L246.67,94.13 L246.87,94.19 L247.08,94.02 L247.28,93.5 L247.48,93.09 L247.69,93.34 L247.89,93.14 L248.09,93.26 L248.3,93.78 L248.5,94.5 L248.71,94.53 L248.91,93.81 L249.11,94.28 L249.32,94.63 L249.52,93.97 L249.72,92.86 L249.93,92.82 L250.13,94.33 L250.34,94.79 L250.54,94.2 L250.74,93.77 L250.95,94.75 L251.15,94.7 L251.36,93.72 L251.56,92.75 L251.76,91.83 L251.97,92.02 L252.17,91.06 L252.37,91.31 L252.58,91.19 L252.78,90.87 L252.99,91.22 L253.19,90.89 L253.39,91.53 L253.6,92.27 L253.8,92.48 L254.01,92.85 L254.21,93.91 L254.41,93.99 L254.62,93.74 L254.82,93.84 L255.02,94.47 L255.23,95.35 L255.43,94.52 L255.64,93.81 L255.84,93.29 L256.04,92.94 L256.25,92.94 L256.45,93.93 L256.65,94.02 L256.86,93.33 L257.06,93.1 L257.27,93.61 L257.47,93.57 L257.67,93.39 L257.88,94.1 L258.08,94.28 L258.29,94.29 L258.49,94.45 L258.69,94.19 L258.9,94.59 L259.1,93.95 L259.3,94.37 L259.51,94.55 L259.71,94.2 L259.92,94.07 L260.12,93.26 L260.32,93.08 L260.53,93.65 L260.73,93.84 L260.94,94.36 L261.14,94.4 L261.34,94.56 L261.55,94.48 L261.75,94.35 L261.95,94.19 L262.16,93.9 L262.36,94.21 L262.57,94.86 L262.77,93.55 L262.97,93.93 L263.18,94.75 L263.38,94.83 L263.58,95.1 L263.79,94.49 L263.99,93.52 L264.2,93.51 L264.4,93.35" fill="none" stroke="#f22828" stroke-width="1.5" stroke-linejoin="round"/>
<path d="M40.4,131.09 L40.6,129.51 L40.81,130.11 L41.01,130.13 L41.22,130.05 L41.42,129.88 L41.62,129.27 L41.83,129.79 L42.03,130.52 L42.23,132.11 L42.44,131.09 L42.64,130.23 L42.85,130.09 L43.05,129.82 L43.25,129.66 L43.46,130.1 L43.66,130.56 L43.86,130.54 L44.07,130.85 L44.27,130.47 L44.48,130.65 L44.68,131.33 L44.88,130.87 L45.09,130.18 L45.29,130.29 L45.5,130.98 L45.7,131.47 L45.9,130.53 L46.11,130.36 L46.31,130.69 L46.51,130 L46.72,130.19 L46.92,130.87 L47.13,130.82 L47.33,130.6 L47.53,130.19 L47.74,129.09 L47.94,130.17 L48.15,129.66 L48.35,129.26 L48.55,130.25 L48.76,130.62 L48.96,129.95 L49.16,129.59 L49.37,130.05 L49.57,130.46 L49.78,131.11 L49.98,130.9 L50.18,130.64 L50.39,130.79 L50.59,130.1 L50.79,129.74 L51,130.41 L51.2,130.53 L51.41,129.98 L51.61,129.7 L51.81,129.64 L52.02,128.91 L52.22,130.09 L52.43,130.16 L52.63,129.27 L52.83,129.6 L53.04,129.65 L53.24,129.88 L53.44,128.87 L53.65,129.25 L53.85,130.39 L54.06,130.31 L54.26,128.88 L54.46,129.31 L54.67,129.87 L54.87,129.89 L55.08,130.39 L55.28,129.55 L55.48,129.61 L55.69,129.55 L55.89,130.35 L56.09,129.94 L56.3,129.23 L56.5,129.03 L56.71,130.44 L56.91,130.53 L57.11,130.41 L57.32,130.45 L57.52,129.89 L57.72,129.17 L57.93,128.88 L58.13,129.22 L58.34,129.86 L58.54,128.85 L58.74,128.83 L58.95,129.21 L59.15,129.59 L59.36,129.53 L59.56,128.49 L59.76,128.19 L59.97,129.23 L60.17,130.09 L60.37,129.94 L60.58,129.44 L60.78,129.14 L60.99,129.25 L61.19,129.23 L61.39,129.39 L61.6,128.84 L61.8,128.98 L62.01,129.11 L62.21,129.33 L62.41,129.66 L62.62,130.64 L62.82,130.46 L63.02,129.6 L63.23,127.97 L63.43,128.17 L63.64,128.5 L63.84,128.53 L64.04,127.81 L64.25,129.12 L64.45,129.22 L64.65,127.95 L64.86,127.69 L65.06,127.97 L65.27,128.53 L65.47,129.22 L65.67,129.65 L65.88,128.83 L66.08,128.8 L66.29,128.9 L66.49,129.44 L66.69,129.26 L66.9,128.94 L67.1,127.85 L67.3,127.74 L67.51,127.95 L67.71,128.9 L67.92,128.65 L68.12,127.91 L68.32,127.79 L68.53,128.02 L68.73,127.47 L68.94,127.35 L69.14,128.4 L69.34,129.2 L69.55,128 L69.75,127.2 L69.95,126.74 L70.16,126.84 L70.36,127.84 L70.57,128.16 L70.77,127.79 L70.97,127.73 L71.18,127.64 L71.38,127.28 L71.58,126.54 L71.79,126.88 L71.99,127.19 L72.2,126.82 L72.4,126.73 L72.6,126.65 L72.81,127.03 L73.01,127.5 L73.22,127.04 L73.42,127.09 L73.62,127.59 L73.83,127.83 L74.03,127.65 L74.23,126.29 L74.44,126.92 L74.64,126.81 L74.85,126.99 L75.05,127.5 L75.25,127.71 L75.46,127.54 L75.66,127.29 L75.86,127.54 L76.07,126.77 L76.27,126.65 L76.48,126.91 L76.68,126.8 L76.88,127.79 L77.09,127.84 L77.29,127.83 L77.5,126.76 L77.7,126.24 L77.9,126.54 L78.11,126.68 L78.31,126.22 L78.51,126.41 L78.72,126.63 L78.92,127.01 L79.13,126.35 L79.33,126.54 L79.53,125.85 L79.74,125.4 L79.94,125.36 L80.15,125.37 L80.35,126.14 L80.55,126.68 L80.76,126.43 L80.96,126.69 L81.16,127.05 L81.37,126.46 L81.57,126.08 L81.78,125.55 L81.98,125.15 L82.18,125.72 L82.39,125.21 L82.59,125.92 L82.79,126.19 L83,126.45 L83.2,125.86 L83.41,125.44 L83.61,125.77 L83.81,125.54 L84.02,125.61 L84.22,125.76 L84.43,125.68 L84.63,125.5 L84.83,125.25 L85.04,125.12 L85.24,124.54 L85.44,125.06 L85.65,125.27 L85.85,126.36 L86.06,126.28 L86.26,124.94 L86.46,125.44 L86.67,125.51 L86.87,125.24 L87.08,125.75 L87.28,125.27 L87.48,124.66 L87.69,125.26 L87.89,125.64 L88.09,125.57 L88.3,125.23 L88.5,126.02 L88.71,126.09 L88.91,125.2 L89.11,125.24 L89.32,125.57 L89.52,125.85 L89.72,126.76 L89.93,126.15 L90.13,125.28 L90.34,125.34 L90.54,126.23 L90.74,127.22 L90.95,126.39 L91.15,126.22 L91.36,126.42 L91.56,126.65 L91.76,127.33 L91.97,126.51 L92.17,126.63 L92.37,126.67 L92.58,126.54 L92.78,126.23 L92.99,127.2 L93.19,126.79 L93.39,126.42 L93.6,126.01 L93.8,126.24 L94.01,127.1 L94.21,127.58 L94.41,127.67 L94.62,127.85 L94.82,127.6 L95.02,127.35 L95.23,127.68 L95.43,127.63 L95.64,127.42 L95.84,127.91 L96.04,128.24 L96.25,127.73 L96.45,127.48 L96.65,128.24 L96.86,128.76 L97.06,127.92 L97.27,127.66 L97.47,127.98 L97.67,128.22 L97.88,127.28 L98.08,128.14 L98.29,128.69 L98.49,128.24 L98.69,129.02 L98.9,128.79 L99.1,128.24 L99.3,128.21 L99.51,127.65 L99.71,128.36 L99.92,129.41 L100.12,128.93 L100.32,129.64 L100.53,129.36 L100.73,129.49 L100.94,128.82 L101.14,127.79 L101.34,128.48 L101.55,129.02 L101.75,128.46 L101.95,128.48 L102.16,129.26 L102.36,128.89 L102.57,128.39 L102.77,129.09 L102.97,129.92 L103.18,129.8 L103.38,130.48 L103.58,130.85 L103.79,130 L103.99,129.13 L104.2,129.11 L104.4,129.99 L104.6,130.65 L104.81,130.59 L105.01,130.51 L105.22,130.21 L105.42,130.34 L105.62,130.14 L105.83,129.95 L106.03,129.46 L106.23,129.38 L106.44,129.85 L106.64,129.78 L106.85,130.09 L107.05,130.9 L107.25,131.36 L107.46,132.53 L107.66,131.77 L107.86,130.86 L108.07,131.31 L108.27,131.18 L108.48,130.91 L108.68,131.38 L108.88,130.32 L109.09,129.48 L109.29,130.93 L109.5,131.27 L109.7,131.8 L109.9,130.96 L110.11,130.81 L110.31,131.75 L110.51,131.08 L110.72,131.56 L110.92,132.25 L111.13,131.74 L111.33,131.46 L111.53,131.68 L111.74,131.84 L111.94,131.36 L112.15,131.85 L112.35,132.43 L112.55,132.91 L112.76,131.7 L112.96,131.23 L113.16,131.83 L113.37,131.66 L113.57,131.82 L113.78,132.07 L113.98,132.29 L114.18,131.61 L114.39,131.16 L114.59,130.25 L114.79,131.16 L115,132.38 L115.2,131.64 L115.41,131.15 L115.61,131.2 L115.81,132.02 L116.02,131.9 L116.22,131.44 L116.43,132.13 L116.63,132.35 L116.83,132.3 L117.04,132.08 L117.24,132.88 L117.44,132.51 L117.65,131.93 L117.85,131.68 L118.06,131.96 L118.26,132.41 L118.46,132.25 L118.67,132.7 L118.87,132.82 L119.08,133.06 L119.28,132.76 L119.48,131.87 L119.69,131.12 L119.89,132.07 L120.09,132.63 L120.3,132.46 L120.5,132.38 L120.71,131.92 L120.91,131.68 L121.11,131.81 L121.32,132.74 L121.52,132.39 L121.72,131.68 L121.93,131.32 L122.13,132.09 L122.34,132.99 L122.54,132.54 L122.74,132.11 L122.95,133.06 L123.15,133.37 L123.36,133.1 L123.56,132.98 L123.76,133.04 L123.97,132.81 L124.17,132.55 L124.37,132.16 L124.58,132.89 L124.78,132.94 L124.99,132.95 L125.19,131.57 L125.39,132.37 L125.6,132.78 L125.8,132.26 L126.01,132.5 L126.21,132.77 L126.41,132.54 L126.62,131.97 L126.82,132.2 L127.02,132.94 L127.23,133.08 L127.43,132.49 L127.64,132.28 L127.84,132.5 L128.04,132.6 L128.25,131.57 L128.45,131.31 L128.65,131.82 L128.86,131.51 L129.06,131.69 L129.27,132.22 L129.47,132.27 L129.67,131.84 L129.88,132.11 L130.08,131.48 L130.29,131.88 L130.49,131.21 L130.69,131.34 L130.9,132.24 L131.1,131.95 L131.3,131.61 L131.51,131.89 L131.71,132.35 L131.92,132.24 L132.12,132.36 L132.32,132.63 L132.53,131.91 L132.73,131.71 L132.94,132.04 L133.14,132.91 L133.34,133.17 L133.55,133.06 L133.75,132.38 L133.95,132.25 L134.16,132.55 L134.36,132.28 L134.57,132.7 L134.77,132.61 L134.97,131.93 L135.18,132 L135.38,132.42 L135.58,133.57 L135.79,133.88 L135.99,132.6 L136.2,131.77 L136.4,131 L136.6,131.89 L136.81,132.03 L137.01,131.75 L137.22,132.14 L137.42,131.45 L137.62,131.82 L137.83,132 L138.03,131.69 L138.23,132.62 L138.44,132.66 L138.64,131.37 L138.85,131.28 L139.05,132.25 L139.25,132.06 L139.46,131.47 L139.66,131.79 L139.86,132.05 L140.07,132.24 L140.27,132.67 L140.48,132.86 L140.68,133.45 L140.88,133.36 L141.09,132.99 L141.29,133.12 L141.5,133.21 L141.7,132.58 L141.9,131.8 L142.11,132.43 L142.31,132.66 L142.51,133.08 L142.72,132.61 L142.92,132.53 L143.13,132.74 L143.33,133.17 L143.53,132.52 L143.74,132.11 L143.94,132.2 L144.15,132.01 L144.35,132.17 L144.55,132.23 L144.76,132.64 L144.96,133.16 L145.16,132.28 L145.37,132.05 L145.57,132.16 L145.78,132.25 L145.98,131.49 L146.18,131.53 L146.39,132.07 L146.59,132.39 L146.79,132.09 L147,131.66 L147.2,131.62 L147.41,132.45 L147.61,132.99 L147.81,132.51 L148.02,132.27 L148.22,132.11 L148.43,131.5 L148.63,131.56 L148.83,131.76 L149.04,131.97 L149.24,131.61 L149.44,131.22 L149.65,132.16 L149.85,132.04 L150.06,130.14 L150.26,127.99 L150.46,124.45 L150.67,118.87 L150.87,111.71 L151.08,106.39 L151.28,102.34 L151.48,102.79 L151.69,106.33 L151.89,112.18 L152.09,118.97 L152.3,124.61 L152.5,127.54 L152.71,129.53 L152.91,130.37 L153.11,130.7 L153.32,132.19 L153.52,132.34 L153.72,132.17 L153.93,132.37 L154.13,131.63 L154.34,132.08 L154.54,133.1 L154.74,132.47 L154.95,130.42 L155.15,129.67 L155.36,131.11 L155.56,132.39 L155.76,131.99 L155.97,132.01 L156.17,132.24 L156.37,131.79 L156.58,132.22 L156.78,132.68 L156.99,132.6 L157.19,132.33 L157.39,131.98 L157.6,132.24 L157.8,132.25 L158.01,133.24 L158.21,133.64 L158.41,131.83 L158.62,130.77 L158.82,131.61 L159.02,132.48 L159.23,132.99 L159.43,132.8 L159.64,131.79 L159.84,131.83 L160.04,132.51 L160.25,132 L160.45,132.52 L160.65,132.38 L160.86,132.67 L161.06,132.83 L161.27,132.87 L161.47,132.58 L161.67,131.84 L161.88,132.16 L162.08,132.29 L162.29,132.57 L162.49,132.85 L162.69,132.13 L162.9,131.61 L163.1,131.6 L163.3,132.02 L163.51,132.38 L163.71,132.08 L163.92,132.71 L164.12,132.51 L164.32,131.87 L164.53,131.46 L164.73,132.2 L164.94,132.28 L165.14,131.57 L165.34,132.8 L165.55,133.35 L165.75,132.75 L165.95,132.94 L166.16,133.79 L166.36,133.12 L166.57,131.91 L166.77,131.98 L166.97,132.06 L167.18,131.64 L167.38,131.01 L167.58,132.05 L167.79,132 L167.99,132.12 L168.2,132.29 L168.4,132.57 L168.6,132.03 L168.81,131.78 L169.01,132.57 L169.22,132.96 L169.42,132.49 L169.62,132.89 L169.83,132.45 L170.03,132.19 L170.23,132.74 L170.44,132.17 L170.64,132.46 L170.85,132.14 L171.05,132.07 L171.25,131.4 L171.46,131.64 L171.66,132.58 L171.86,132.41 L172.07,132.07 L172.27,131.93 L172.48,131.97 L172.68,131.14 L172.88,131.06 L173.09,131.37 L173.29,130.91 L173.5,130.43 L173.7,129.85 L173.9,128.53 L174.11,127.02 L174.31,125.95 L174.51,124.29 L174.72,123.13 L174.92,122.51 L175.13,122.98 L175.33,124.35 L175.53,126.42 L175.74,127.68 L175.94,129.71 L176.15,131.7 L176.35,132.78 L176.55,132.5 L176.76,131.76 L176.96,132 L177.16,131.87 L177.37,132.37 L177.57,132.34 L177.78,133.02 L177.98,133.83 L178.18,133.51 L178.39,133.59 L178.59,132.6 L178.79,132.24 L179,133.12 L179.2,133.23 L179.41,132.18 L179.61,131.85 L179.81,131.37 L180.02,131.96 L180.22,132.6 L180.43,132.18 L180.63,131.6 L180.83,131.38 L181.04,132.27 L181.24,132.78 L181.44,132.69 L181.65,132.2 L181.85,131.86 L182.06,132.89 L182.26,132.44 L182.46,132.23 L182.67,132.16 L182.87,131.14 L183.08,131.74 L183.28,132.17 L183.48,132.61 L183.69,133.07 L183.89,132.36 L184.09,131.22 L184.3,131.71 L184.5,132.27 L184.71,132.08 L184.91,131.23 L185.11,131.16 L185.32,132.25 L185.52,132.47 L185.72,131.93 L185.93,131.58 L186.13,132.32 L186.34,130.88 L186.54,131.85 L186.74,133.23 L186.95,132.53 L187.15,132.08 L187.36,131.84 L187.56,132.48 L187.76,131.79 L187.97,132.12 L188.17,132.12 L188.37,131.81 L188.58,132.23 L188.78,131.47 L188.99,131.57 L189.19,131.98 L189.39,132.05 L189.6,132.54 L189.8,132.73 L190.01,132.11 L190.21,131.76 L190.41,131.75 L190.62,132.05 L190.82,132.53 L191.02,132.3 L191.23,132.36 L191.43,132.07 L191.64,131.88 L191.84,132.32 L192.04,131.79 L192.25,132.28 L192.45,132.8 L192.65,131.86 L192.86,131.68 L193.06,131.24 L193.27,131.37 L193.47,131.23 L193.67,131.64 L193.88,131.86 L194.08,132.46 L194.29,133.13 L194.49,132.75 L194.69,132.59 L194.9,132.24 L195.1,131.91 L195.3,131.38 L195.51,131.09 L195.71,132.2 L195.92,133.17 L196.12,132.65 L196.32,132.29 L196.53,132.91 L196.73,132.15 L196.94,131.57 L197.14,131.26 L197.34,131.42 L197.55,132.25 L197.75,133.2 L197.95,132.26 L198.16,131.49 L198.36,131.64 L198.57,131.66 L198.77,131.26 L198.97,132.08 L199.18,132.66 L199.38,132.61 L199.58,132.35 L199.79,131.3 L199.99,131.28 L200.2,132.78 L200.4,132.74 L200.6,131.6 L200.81,132.04 L201.01,132.35 L201.22,132.53 L201.42,132.32 L201.62,132 L201.83,132.24 L202.03,132.31 L202.23,131.87 L202.44,130.65 L202.64,130.1 L202.85,130.94 L203.05,131.22 L203.25,132.17 L203.46,132.68 L203.66,132.4 L203.86,132.06 L204.07,132.38 L204.27,132.71 L204.48,132.18 L204.68,132.69 L204.88,132.79 L205.09,132.73 L205.29,132.9 L205.5,132.24 L205.7,132.41 L205.9,131.73 L206.11,131.43 L206.31,131.57 L206.51,132.08 L206.72,131.78 L206.92,131.85 L207.13,131.79 L207.33,132.9 L207.53,133.42 L207.74,132.95 L207.94,133.23 L208.15,133.19 L208.35,133.49 L208.55,132.36 L208.76,131.64 L208.96,132.7 L209.16,132.21 L209.37,131.5 L209.57,131.36 L209.78,131.17 L209.98,131.62 L210.18,131.86 L210.39,132.93 L210.59,132.53 L210.79,131.15 L211,130.98 L211.2,131.27 L211.41,131.04 L211.61,131.78 L211.81,132.02 L212.02,131.68 L212.22,131.85 L212.43,132.63 L212.63,133.33 L212.83,133.27 L213.04,132.64 L213.24,132.53 L213.44,132.03 L213.65,132.12 L213.85,131.89 L214.06,132.2 L214.26,131.49 L214.46,131.45 L214.67,132.12 L214.87,132.24 L215.08,131.43 L215.28,131.67 L215.48,132.22 L215.69,132.2 L215.89,131.8 L216.09,132.05 L216.3,132.32 L216.5,133.01 L216.71,132.51 L216.91,131.19 L217.11,130.79 L217.32,132.07 L217.52,132.89 L217.72,132.66 L217.93,132.62 L218.13,131.85 L218.34,131.51 L218.54,132.38 L218.74,132.51 L218.95,132.34 L219.15,131.61 L219.36,131.94 L219.56,132.04 L219.76,132.42 L219.97,131.92 L220.17,131.66 L220.37,132 L220.58,132.78 L220.78,132.31 L220.99,131.61 L221.19,131.32 L221.39,131.71 L221.6,132.47 L221.8,131.33 L222.01,131.53 L222.21,132.6 L222.41,132.92 L222.62,132.47 L222.82,132.73 L223.02,132.93 L223.23,132.88 L223.43,132.7 L223.64,133.14 L223.84,132.89 L224.04,132.88 L224.25,132.07 L224.45,132.3 L224.65,131.44 L224.86,131.27 L225.06,132.07 L225.27,131.95 L225.47,132.13 L225.67,132.02 L225.88,132.91 L226.08,132.32 L226.29,131.65 L226.49,132.28 L226.69,132.61 L226.9,132.07 L227.1,132.75 L227.3,133.6 L227.51,133.08 L227.71,132.29 L227.92,132.04 L228.12,132.18 L228.32,130.98 L228.53,130.21 L228.73,131.14 L228.94,131.86 L229.14,133.02 L229.34,132.46 L229.55,131.53 L229.75,131.54 L229.95,132.16 L230.16,131.79 L230.36,131.77 L230.57,132.12 L230.77,132.3 L230.97,132.34 L231.18,132.57 L231.38,133.29 L231.58,133.11 L231.79,132.14 L231.99,133.38 L232.2,133.02 L232.4,132.82 L232.6,132.15 L232.81,132.34 L233.01,132.46 L233.22,132.52 L233.42,132.86 L233.62,132.58 L233.83,131.81 L234.03,132.15 L234.23,132.76 L234.44,132.71 L234.64,132.16 L234.85,132.03 L235.05,131.93 L235.25,131.41 L235.46,131.65 L235.66,132.81 L235.86,132.35 L236.07,132.11 L236.27,132.11 L236.48,133.15 L236.68,133.41 L236.88,132.56 L237.09,132.37 L237.29,132.27 L237.5,133.25 L237.7,132.93 L237.9,132.2 L238.11,132.85 L238.31,132.76 L238.51,132.62 L238.72,132.41 L238.92,131.87 L239.13,131.97 L239.33,132.49 L239.53,132.18 L239.74,132.11 L239.94,133.15 L240.15,132.41 L240.35,131.8 L240.55,131.91 L240.76,132.68 L240.96,132.95 L241.16,132.72 L241.37,132.5 L241.57,131.54 L241.78,131.7 L241.98,131.94 L242.18,132.26 L242.39,132.15 L242.59,131.81 L242.79,133.42 L243,132.41 L243.2,132.43 L243.41,132.91 L243.61,132.9 L243.81,132.01 L244.02,130.52 L244.22,131.27 L244.43,132.29 L244.63,131.69 L244.83,131.08 L245.04,131 L245.24,132.56 L245.44,132.57 L245.65,131.82 L245.85,131.98 L246.06,131.95 L246.26,131.56 L246.46,131.92 L246.67,132.41 L246.87,132.79 L247.08,133 L247.28,132.37 L247.48,132.04 L247.69,132.23 L247.89,131.72 L248.09,131.62 L248.3,132.53 L248.5,132.22 L248.71,132.31 L248.91,132.37 L249.11,131.83 L249.32,132.42 L249.52,132.53 L249.72,132.29 L249.93,132.24 L250.13,131.44 L250.34,130.78 L250.54,131.43 L250.74,131.72 L250.95,132.4 L251.15,132.15 L251.36,131.57 L251.56,131.74 L251.76,132.21 L251.97,131.82 L252.17,130.98 L252.37,130.36 L252.58,129.71 L252.78,129.62 L252.99,129.91 L253.19,129.91 L253.39,130.07 L253.6,129.67 L253.8,129.51 L254.01,129.98 L254.21,131.28 L254.41,132.65 L254.62,132.65 L254.82,131.44 L255.02,131.23 L255.23,132.37 L255.43,132.31 L255.64,131.71 L255.84,132.53 L256.04,132.71 L256.25,132.99 L256.45,132.77 L256.65,132.79 L256.86,132.36 L257.06,131.7 L257.27,131.78 L257.47,131.94 L257.67,132.35 L257.88,131.54 L258.08,131.32 L258.29,132.5 L258.49,133.2 L258.69,133.39 L258.9,132.78 L259.1,131.46 L259.3,131.46 L259.51,131.78 L259.71,131.71 L259.92,131.03 L260.12,131.86 L260.32,132.18 L260.53,131.76 L260.73,132.31 L260.94,132.88 L261.14,132.63 L261.34,132.97 L261.55,133.02 L261.75,132.68 L261.95,132.42 L262.16,132.3 L262.36,132.72 L262.57,132.05 L262.77,131.87 L262.97,132.33 L263.18,132.02 L263.38,132.5 L263.58,132.87 L263.79,132.46 L263.99,132.44 L264.2,132.86 L264.4,132.78" fill="none" stroke="#aa6ee8" stroke-width="1.5" stroke-linejoin="round"/>
<path d="M40.4,168.12 L40.6,168.59 L40.81,169.49 L41.01,168.86 L41.22,167.74 L41.42,168.09 L41.62,168.19 L41.83,168.18 L42.03,167.71 L42.23,168.39 L42.44,168.96 L42.64,169.45 L42.85,169.05 L43.05,168.57 L43.25,168.19 L43.46,169.1 L43.66,168.07 L43.86,168.69 L44.07,168.36 L44.27,167.84 L44.48,167.86 L44.68,168.08 L44.88,168.56 L45.09,168.77 L45.29,168.94 L45.5,167.77 L45.7,167.99 L45.9,168.14 L46.11,168.36 L46.31,167.41 L46.51,167.95 L46.72,168.26 L46.92,167.88 L47.13,168.76 L47.33,168.92 L47.53,169.21 L47.74,168.98 L47.94,167.95 L48.15,167.81 L48.35,168.33 L48.55,168.96 L48.76,168.9 L48.96,168.09 L49.16,167.83 L49.37,167.78 L49.57,167.92 L49.78,168.16 L49.98,168.66 L50.18,169.4 L50.39,168.44 L50.59,168.23 L50.79,168.41 L51,167.88 L51.2,168 L51.41,168.45 L51.61,168.54 L51.81,168.03 L52.02,168.79 L52.22,168.42 L52.43,168.51 L52.63,168.93 L52.83,169.01 L53.04,169.03 L53.24,168.58 L53.44,168.37 L53.65,168.27 L53.85,168.01 L54.06,168.6 L54.26,167.83 L54.46,167.79 L54.67,169.09 L54.87,168.31 L55.08,167.89 L55.28,168.93 L55.48,168.54 L55.69,168.55 L55.89,167.87 L56.09,167.57 L56.3,166.85 L56.5,166.63 L56.71,167.24 L56.91,168.04 L57.11,168.96 L57.32,169.36 L57.52,168.14 L57.72,168.31 L57.93,167.88 L58.13,167.58 L58.34,166.93 L58.54,166.8 L58.74,167.09 L58.95,167.2 L59.15,167.62 L59.36,167.8 L59.56,168.51 L59.76,168.26 L59.97,168.23 L60.17,168.63 L60.37,168.35 L60.58,167.92 L60.78,167.77 L60.99,167.94 L61.19,168.51 L61.39,168.48 L61.6,168.26 L61.8,168.16 L62.01,167.69 L62.21,167.65 L62.41,167.28 L62.62,168.18 L62.82,168 L63.02,167.88 L63.23,167.99 L63.43,167.67 L63.64,167.67 L63.84,168.2 L64.04,167.67 L64.25,167.15 L64.45,167.29 L64.65,166.96 L64.86,168.04 L65.06,167.68 L65.27,167.84 L65.47,169.04 L65.67,168.99 L65.88,167.95 L66.08,167.92 L66.29,168.35 L66.49,168.4 L66.69,167.56 L66.9,167.55 L67.1,167.99 L67.3,167.74 L67.51,167.78 L67.71,167.46 L67.92,166.52 L68.12,166.01 L68.32,165.5 L68.53,166.74 L68.73,167.57 L68.94,166.93 L69.14,167.69 L69.34,167.78 L69.55,167.15 L69.75,166.98 L69.95,166.85 L70.16,166.44 L70.36,166.6 L70.57,166.93 L70.77,167.34 L70.97,167.25 L71.18,166.72 L71.38,166.98 L71.58,166.48 L71.79,166.6 L71.99,166.91 L72.2,166.75 L72.4,166.68 L72.6,166.7 L72.81,166.29 L73.01,166.15 L73.22,166.56 L73.42,167.06 L73.62,167.03 L73.83,167.6 L74.03,166.46 L74.23,164.87 L74.44,166.02 L74.64,167.29 L74.85,166.68 L75.05,166.04 L75.25,166.1 L75.46,167.13 L75.66,167.27 L75.86,166.98 L76.07,166.95 L76.27,167.32 L76.48,166.78 L76.68,165.9 L76.88,166.49 L77.09,166.46 L77.29,166.34 L77.5,166.61 L77.7,165.82 L77.9,164.88 L78.11,166.66 L78.31,166.96 L78.51,166.18 L78.72,165.93 L78.92,165.92 L79.13,165.49 L79.33,165.96 L79.53,165.92 L79.74,165.64 L79.94,165.35 L80.15,165.68 L80.35,166.72 L80.55,167 L80.76,166.48 L80.96,165.88 L81.16,165.6 L81.37,166.47 L81.57,166.64 L81.78,165.56 L81.98,165.87 L82.18,164.89 L82.39,165.39 L82.59,165.79 L82.79,164.94 L83,164.84 L83.2,165.85 L83.41,166.28 L83.61,166 L83.81,166.35 L84.02,165.98 L84.22,166.67 L84.43,166.26 L84.63,166.09 L84.83,166.26 L85.04,166.44 L85.24,167.27 L85.44,167.44 L85.65,166.48 L85.85,165.61 L86.06,165.01 L86.26,165.2 L86.46,165.67 L86.67,165.76 L86.87,165.78 L87.08,165.9 L87.28,165.85 L87.48,165 L87.69,165.23 L87.89,166.4 L88.09,166.39 L88.3,165.94 L88.5,166.33 L88.71,165.68 L88.91,165.28 L89.11,165 L89.32,166.02 L89.52,166.25 L89.72,166.62 L89.93,166.53 L90.13,166.16 L90.34,166.29 L90.54,166.62 L90.74,166.08 L90.95,165.86 L91.15,166.08 L91.36,166.46 L91.56,166.73 L91.76,166.77 L91.97,165.93 L92.17,165.75 L92.37,165 L92.58,165.11 L92.78,165.31 L92.99,165.93 L93.19,165.55 L93.39,165.17 L93.6,165.74 L93.8,165.95 L94.01,165.8 L94.21,165.8 L94.41,166.29 L94.62,167.84 L94.82,167.34 L95.02,167.02 L95.23,166.09 L95.43,165.97 L95.64,166.53 L95.84,166.92 L96.04,167.15 L96.25,166.67 L96.45,167.39 L96.65,167.8 L96.86,167.04 L97.06,167.29 L97.27,166.89 L97.47,167.31 L97.67,167.84 L97.88,168.19 L98.08,167.33 L98.29,167.56 L98.49,167.83 L98.69,167.05 L98.9,167.16 L99.1,166.98 L99.3,167.21 L99.51,168.04 L99.71,168.68 L99.92,169.52 L100.12,169.24 L100.32,168.76 L100.53,167.98 L100.73,167.76 L100.94,167.58 L101.14,167.11 L101.34,168.42 L101.55,167.84 L101.75,167.36 L101.95,167.9 L102.16,168.83 L102.36,169.02 L102.57,168.39 L102.77,168.49 L102.97,168.24 L103.18,167.89 L103.38,168.36 L103.58,168.25 L103.79,167.89 L103.99,168.59 L104.2,167.98 L104.4,168.28 L104.6,167.99 L104.81,167.94 L105.01,168.33 L105.22,168.79 L105.42,168.21 L105.62,168.78 L105.83,169.54 L106.03,168.79 L106.23,168.89 L106.44,169.2 L106.64,168.87 L106.85,169.04 L107.05,168.89 L107.25,169.33 L107.46,169.08 L107.66,168.87 L107.86,169.72 L108.07,169.32 L108.27,168.86 L108.48,168.58 L108.68,168.8 L108.88,169.16 L109.09,169.56 L109.29,169.7 L109.5,168.75 L109.7,169.14 L109.9,169.99 L110.11,169.78 L110.31,169.95 L110.51,170.43 L110.72,170.01 L110.92,169.78 L111.13,169.87 L111.33,170.64 L111.53,170.28 L111.74,169.44 L111.94,169.52 L112.15,169.25 L112.35,170.09 L112.55,170.13 L112.76,169.58 L112.96,169.06 L113.16,168.74 L113.37,169.72 L113.57,169.69 L113.78,169.62 L113.98,169.91 L114.18,169.37 L114.39,169.15 L114.59,169 L114.79,169.32 L115,170.77 L115.2,170.02 L115.41,169.71 L115.61,169.63 L115.81,168.24 L116.02,169.21 L116.22,169.63 L116.43,169.37 L116.63,169.53 L116.83,168.82 L117.04,169.63 L117.24,169.91 L117.44,168.53 L117.65,168.62 L117.85,169.48 L118.06,169.67 L118.26,169.53 L118.46,169.93 L118.67,169.76 L118.87,169.1 L119.08,169.28 L119.28,168.72 L119.48,168.02 L119.69,168.31 L119.89,169.9 L120.09,170.27 L120.3,170.58 L120.5,169.31 L120.71,169.41 L120.91,169.9 L121.11,169.88 L121.32,170.08 L121.52,169.87 L121.72,169.09 L121.93,168.28 L122.13,169.2 L122.34,170.72 L122.54,170.8 L122.74,170.61 L122.95,169.74 L123.15,169.48 L123.36,169.41 L123.56,169.92 L123.76,170.05 L123.97,170.44 L124.17,170.75 L124.37,169.87 L124.58,169.87 L124.78,169.45 L124.99,170.14 L125.19,169.82 L125.39,169.78 L125.6,170.24 L125.8,170.79 L126.01,170.07 L126.21,169.39 L126.41,169.2 L126.62,169.66 L126.82,169.38 L127.02,169.45 L127.23,169.9 L127.43,170.11 L127.64,169.74 L127.84,170.43 L128.04,170.69 L128.25,169.64 L128.45,170.74 L128.65,171.19 L128.86,170.06 L129.06,169.86 L129.27,169.31 L129.47,169.76 L129.67,169.83 L129.88,169.83 L130.08,169.3 L130.29,169.19 L130.49,169.36 L130.69,169.3 L130.9,169.38 L131.1,169.45 L131.3,169.21 L131.51,169.68 L131.71,169.68 L131.92,168.74 L132.12,169.42 L132.32,169.29 L132.53,168.88 L132.73,168.77 L132.94,169.02 L133.14,169.36 L133.34,169.67 L133.55,169.41 L133.75,170.03 L133.95,169.71 L134.16,170.26 L134.36,170.34 L134.57,169.58 L134.77,170.61 L134.97,171.16 L135.18,170.13 L135.38,170.1 L135.58,169.95 L135.79,169.89 L135.99,169.73 L136.2,169.74 L136.4,170.39 L136.6,170.54 L136.81,170.37 L137.01,170.96 L137.22,170.94 L137.42,170.4 L137.62,170.04 L137.83,171.1 L138.03,170.63 L138.23,168.84 L138.44,168.89 L138.64,169.68 L138.85,170.61 L139.05,170.76 L139.25,170.08 L139.46,170.18 L139.66,170.17 L139.86,169.52 L140.07,170.01 L140.27,169.95 L140.48,170.01 L140.68,169.77 L140.88,169.15 L141.09,169.23 L141.29,169.84 L141.5,170.01 L141.7,170.05 L141.9,170.44 L142.11,169.75 L142.31,169.19 L142.51,169.53 L142.72,169.79 L142.92,170.08 L143.13,170.66 L143.33,170.64 L143.53,170.74 L143.74,170.46 L143.94,170.17 L144.15,170.44 L144.35,170.05 L144.55,169.86 L144.76,169.48 L144.96,169.77 L145.16,169.86 L145.37,170.41 L145.57,171.42 L145.78,171.73 L145.98,170.9 L146.18,170.24 L146.39,170.4 L146.59,170.08 L146.79,169.61 L147,169.71 L147.2,169.63 L147.41,169.75 L147.61,170.4 L147.81,169.71 L148.02,169.59 L148.22,169.97 L148.43,169.32 L148.63,168.85 L148.83,169.13 L149.04,169.83 L149.24,169.93 L149.44,169.61 L149.65,168.87 L149.85,168.31 L150.06,167.66 L150.26,164.71 L150.46,160.89 L150.67,154.98 L150.87,148.42 L151.08,142.46 L151.28,138.53 L151.48,137.44 L151.69,142.73 L151.89,149.06 L152.09,156.27 L152.3,162.09 L152.5,165.23 L152.71,167.59 L152.91,168.99 L153.11,169.15 L153.32,169.1 L153.52,169.59 L153.72,169.5 L153.93,169.18 L154.13,170.27 L154.34,169.73 L154.54,168.41 L154.74,169.27 L154.95,170.93 L155.15,171.1 L155.36,170.03 L155.56,169.01 L155.76,169.68 L155.97,170.53 L156.17,170.28 L156.37,169.7 L156.58,169.64 L156.78,170.23 L156.99,170.06 L157.19,170.2 L157.39,170.59 L157.6,170.99 L157.8,170.42 L158.01,169.84 L158.21,169.27 L158.41,170.43 L158.62,170.67 L158.82,169.74 L159.02,168.67 L159.23,169.3 L159.43,170.32 L159.64,171.26 L159.84,170.84 L160.04,170.69 L160.25,170.83 L160.45,170.67 L160.65,169.48 L160.86,169.13 L161.06,169.16 L161.27,169.58 L161.47,169.78 L161.67,169.81 L161.88,169.49 L162.08,169.72 L162.29,169.94 L162.49,170.9 L162.69,170.56 L162.9,171.58 L163.1,171.13 L163.3,169.83 L163.51,170.42 L163.71,170.23 L163.92,169.4 L164.12,170.04 L164.32,170.13 L164.53,170.02 L164.73,169.6 L164.94,169.89 L165.14,170.18 L165.34,169.87 L165.55,169.61 L165.75,169.63 L165.95,169.51 L166.16,169.55 L166.36,168.95 L166.57,170.37 L166.77,170.39 L166.97,170.42 L167.18,170.32 L167.38,169.89 L167.58,170.8 L167.79,169.89 L167.99,170.1 L168.2,170.49 L168.4,170.76 L168.6,169.97 L168.81,169.28 L169.01,169.46 L169.22,168.67 L169.42,169.34 L169.62,169.97 L169.83,170.69 L170.03,170.02 L170.23,169.54 L170.44,169.32 L170.64,169.26 L170.85,169.6 L171.05,169.93 L171.25,169.29 L171.46,169.31 L171.66,169.06 L171.86,169.58 L172.07,169.72 L172.27,169.13 L172.48,169.33 L172.68,169.89 L172.88,170.32 L173.09,170.18 L173.29,169.14 L173.5,167.72 L173.7,166.58 L173.9,166.27 L174.11,164.77 L174.31,162.27 L174.51,160.42 L174.72,158.46 L174.92,158.61 L175.13,160.52 L175.33,161.83 L175.53,164.47 L175.74,166.6 L175.94,168.22 L176.15,169.53 L176.35,169.05 L176.55,168.82 L176.76,168.33 L176.96,168.76 L177.16,169.3 L177.37,169.52 L177.57,169.76 L177.78,169.9 L177.98,169.24 L178.18,168.75 L178.39,169.73 L178.59,169.98 L178.79,169.24 L179,169.63 L179.2,170.95 L179.41,171.02 L179.61,170.85 L179.81,170.55 L180.02,170.07 L180.22,169.82 L180.43,170.15 L180.63,169.88 L180.83,169.69 L181.04,169.87 L181.24,170.09 L181.44,170.27 L181.65,170.07 L181.85,170.97 L182.06,169.81 L182.26,169.74 L182.46,170.26 L182.67,169.61 L182.87,169.57 L183.08,169.37 L183.28,168.29 L183.48,169 L183.69,169.32 L183.89,169.77 L184.09,170.33 L184.3,170.7 L184.5,171.18 L184.71,171.23 L184.91,170.8 L185.11,170.34 L185.32,170.37 L185.52,169.62 L185.72,170.02 L185.93,170.9 L186.13,170.43 L186.34,169.27 L186.54,169.58 L186.74,170.49 L186.95,170.69 L187.15,170.37 L187.36,169 L187.56,168.94 L187.76,169.46 L187.97,169.42 L188.17,169.81 L188.37,170.07 L188.58,170.17 L188.78,170.1 L188.99,170.43 L189.19,170.56 L189.39,170.01 L189.6,169.61 L189.8,170.53 L190.01,170.44 L190.21,170.31 L190.41,169.89 L190.62,169.27 L190.82,169.92 L191.02,169.54 L191.23,169.46 L191.43,170.44 L191.64,170.13 L191.84,170.28 L192.04,170.84 L192.25,170.73 L192.45,169.19 L192.65,169.4 L192.86,170.12 L193.06,169.18 L193.27,168.14 L193.47,169.54 L193.67,170.3 L193.88,170.53 L194.08,170.2 L194.29,169.85 L194.49,170.04 L194.69,169.94 L194.9,169.78 L195.1,170.12 L195.3,170.07 L195.51,169.71 L195.71,170.54 L195.92,170.79 L196.12,170.09 L196.32,168.68 L196.53,169.56 L196.73,169.78 L196.94,169.55 L197.14,169.87 L197.34,169.52 L197.55,170.48 L197.75,170.35 L197.95,170.06 L198.16,170.78 L198.36,170.58 L198.57,170.04 L198.77,169.46 L198.97,170.32 L199.18,171.07 L199.38,170.63 L199.58,169.76 L199.79,170.82 L199.99,171.28 L200.2,170.69 L200.4,169.68 L200.6,168.95 L200.81,169.13 L201.01,169.57 L201.22,170.14 L201.42,170.21 L201.62,169.39 L201.83,168.89 L202.03,169.23 L202.23,169.43 L202.44,170.24 L202.64,169.64 L202.85,170.17 L203.05,170.33 L203.25,169.77 L203.46,170.31 L203.66,169.93 L203.86,169.34 L204.07,169.32 L204.27,170.04 L204.48,170.22 L204.68,169.23 L204.88,169.92 L205.09,169.85 L205.29,169.5 L205.5,169.76 L205.7,169.92 L205.9,170.07 L206.11,170.22 L206.31,169.97 L206.51,171.03 L206.72,170.69 L206.92,169.45 L207.13,168.8 L207.33,169.52 L207.53,169.87 L207.74,170.43 L207.94,170.84 L208.15,171.12 L208.35,170.39 L208.55,170.3 L208.76,169.82 L208.96,169.98 L209.16,170.72 L209.37,170.16 L209.57,169.83 L209.78,169.83 L209.98,170.21 L210.18,170.35 L210.39,169.82 L210.59,169.41 L210.79,169.82 L211,169.54 L211.2,169.69 L211.41,170.09 L211.61,169.75 L211.81,169.09 L212.02,170.65 L212.22,171.1 L212.43,171.66 L212.63,171.55 L212.83,169.84 L213.04,169.56 L213.24,170.2 L213.44,170.45 L213.65,169.82 L213.85,169.92 L214.06,170.35 L214.26,169.73 L214.46,170.13 L214.67,170.56 L214.87,170.17 L215.08,170.33 L215.28,169.76 L215.48,168.98 L215.69,169.34 L215.89,169.69 L216.09,169.74 L216.3,169.97 L216.5,170.22 L216.71,170.2 L216.91,170.01 L217.11,169.69 L217.32,169.66 L217.52,169.58 L217.72,169.78 L217.93,170.21 L218.13,169.17 L218.34,169.39 L218.54,168.95 L218.74,169.42 L218.95,170.17 L219.15,170.13 L219.36,170.42 L219.56,169.56 L219.76,169.43 L219.97,169.47 L220.17,169.7 L220.37,169.62 L220.58,169.61 L220.78,170.03 L220.99,170.49 L221.19,170.13 L221.39,169.84 L221.6,169.55 L221.8,169.12 L222.01,168.71 L222.21,168.98 L222.41,169.29 L222.62,168.88 L222.82,169.73 L223.02,169.51 L223.23,169.1 L223.43,169.44 L223.64,170.11 L223.84,170.15 L224.04,170.31 L224.25,171.22 L224.45,171.16 L224.65,169.7 L224.86,169.94 L225.06,169.33 L225.27,168.87 L225.47,169.51 L225.67,170.27 L225.88,169.81 L226.08,169.84 L226.29,170.68 L226.49,170.44 L226.69,170.31 L226.9,171 L227.1,170.42 L227.3,169.46 L227.51,169.18 L227.71,169.59 L227.92,170.17 L228.12,170.69 L228.32,170.65 L228.53,170 L228.73,169.56 L228.94,170.31 L229.14,170.03 L229.34,169.2 L229.55,169.17 L229.75,169.96 L229.95,170.37 L230.16,170.27 L230.36,169.82 L230.57,170.48 L230.77,169.34 L230.97,169.87 L231.18,170.89 L231.38,170.61 L231.58,169.76 L231.79,170.36 L231.99,170.89 L232.2,170.42 L232.4,169.87 L232.6,170.4 L232.81,169.39 L233.01,169.5 L233.22,169.31 L233.42,169.47 L233.62,169.78 L233.83,169.93 L234.03,169.39 L234.23,170.07 L234.44,170.7 L234.64,170.32 L234.85,170.33 L235.05,170.14 L235.25,169.54 L235.46,169.61 L235.66,169.98 L235.86,170.57 L236.07,171.43 L236.27,171.11 L236.48,169.9 L236.68,169.43 L236.88,168.88 L237.09,168.73 L237.29,170.32 L237.5,170.11 L237.7,168.97 L237.9,170.02 L238.11,171.31 L238.31,170.72 L238.51,170.34 L238.72,170 L238.92,169.35 L239.13,169.01 L239.33,169.3 L239.53,169.83 L239.74,169.97 L239.94,170.6 L240.15,171.14 L240.35,170.75 L240.55,170.46 L240.76,169.68 L240.96,169.58 L241.16,171.04 L241.37,170.97 L241.57,170.67 L241.78,169.66 L241.98,169.21 L242.18,169.98 L242.39,168.99 L242.59,169.38 L242.79,169.68 L243,170.13 L243.2,170.6 L243.41,170.18 L243.61,169.14 L243.81,169.77 L244.02,169.22 L244.22,169.9 L244.43,169.63 L244.63,169.16 L244.83,169.22 L245.04,169.13 L245.24,169.88 L245.44,170.62 L245.65,170.57 L245.85,170.33 L246.06,170.66 L246.26,170.83 L246.46,171.32 L246.67,170.52 L246.87,169.67 L247.08,169.55 L247.28,169.43 L247.48,169.62 L247.69,169.94 L247.89,170.44 L248.09,170.51 L248.3,170.19 L248.5,170.05 L248.71,169.51 L248.91,169.05 L249.11,168.33 L249.32,168.96 L249.52,169.97 L249.72,170.98 L249.93,169.64 L250.13,169.62 L250.34,169.41 L250.54,168.95 L250.74,169.63 L250.95,169.45 L251.15,168.25 L251.36,167.63 L251.56,168.06 L251.76,167.55 L251.97,167.6 L252.17,166.87 L252.37,166.28 L252.58,165.74 L252.78,166.13 L252.99,166.16 L253.19,166.54 L253.39,166.28 L253.6,166.05 L253.8,166.53 L254.01,167.78 L254.21,168.77 L254.41,169.39 L254.62,170.73 L254.82,170.19 L255.02,170.06 L255.23,169.77 L255.43,169.42 L255.64,170.4 L255.84,170.65 L256.04,170.38 L256.25,169.61 L256.45,169.8 L256.65,170.17 L256.86,170.36 L257.06,169.56 L257.27,170.34 L257.47,170.74 L257.67,169.85 L257.88,169.72 L258.08,170.63 L258.29,170.6 L258.49,170.82 L258.69,170.84 L258.9,170.72 L259.1,169.73 L259.3,168.93 L259.51,169.84 L259.71,169.87 L259.92,170.15 L260.12,170.16 L260.32,170.79 L260.53,170.35 L260.73,170.65 L260.94,170.79 L261.14,170.26 L261.34,170.2 L261.55,169.92 L261.75,169.8 L261.95,170.52 L262.16,169.52 L262.36,168.91 L262.57,169.49 L262.77,170.03 L262.97,170.03 L263.18,169.78 L263.38,169.32 L263.58,168.88 L263.79,170.3 L263.99,170.97 L264.2,169.61 L264.4,168.89" fill="none" stroke="#1a66e6" stroke-width="1.5" stroke-linejoin="round"/>
<line x1="151.12" y1="173.0" x2="151.12" y2="189.5" stroke="#111" stroke-width="1.2"/>
<line x1="174.8" y1="176.5" x2="174.8" y2="189.5" stroke="#111" stroke-width="1.2"/>
<line x1="252.56" y1="178.9" x2="252.56" y2="189.5" stroke="#111" stroke-width="1.2"/>
<text x="70" y="42.6" font-size="10.2" text-anchor="start" fill="#000" >C (002)</text>
<text x="187.3" y="47.6" font-size="10.3" text-anchor="start" fill="#66bb1a" >Ni@NC-700</text>
<text x="189" y="83.1" font-size="10.3" text-anchor="start" fill="#f22828" >Ni@NC-800</text>
<text x="188.5" y="124.8" font-size="10.3" text-anchor="start" fill="#aa6ee8" >Ni@NC-900</text>
<text x="188.5" y="162.6" font-size="10.1" text-anchor="start" fill="#1a66e6" >Ni@NC-1000</text>
<text x="69.2" y="184.2" font-size="10.1" text-anchor="start" fill="#000" >Ni (PDF#89-7128)</text>
<text x="153.3" y="215.8" font-size="12" text-anchor="middle" fill="#000" >2θ (degree)</text>
<text transform="translate(32.2,98.5) rotate(-90)" font-size="12" text-anchor="middle">Intensity (a.u.)</text>
<text x="22.5" y="33.2" font-size="32" text-anchor="start" fill="#000" >a</text>
<rect x="311" y="8.5" width="224.6" height="181" fill="none" stroke="#000" stroke-width="1.5"/>
<line x1="311" y1="189.5" x2="311" y2="192.8" stroke="#000" stroke-width="1.1"/>
<line x1="339.06" y1="189.5" x2="339.06" y2="191.7" stroke="#000" stroke-width="1.1"/>
<line x1="367.12" y1="189.5" x2="367.12" y2="192.8" stroke="#000" stroke-width="1.1"/>
<line x1="395.19" y1="189.5" x2="395.19" y2="191.7" stroke="#000" stroke-width="1.1"/>
<line x1="423.25" y1="189.5" x2="423.25" y2="192.8" stroke="#000" stroke-width="1.1"/>
<line x1="451.31" y1="189.5" x2="451.31" y2="191.7" stroke="#000" stroke-width="1.1"/>
<line x1="479.38" y1="189.5" x2="479.38" y2="192.8" stroke="#000" stroke-width="1.1"/>
<line x1="507.44" y1="189.5" x2="507.44" y2="191.7" stroke="#000" stroke-width="1.1"/>
<line x1="535.5" y1="189.5" x2="535.5" y2="192.8" stroke="#000" stroke-width="1.1"/>
<text x="311" y="204" font-size="10" text-anchor="middle" fill="#000" >500</text>
<text x="367.12" y="204" font-size="10" text-anchor="middle" fill="#000" >1000</text>
<text x="423.25" y="204" font-size="10" text-anchor="middle" fill="#000" >1500</text>
<text x="479.38" y="204" font-size="10" text-anchor="middle" fill="#000" >2000</text>
<text x="535.5" y="204" font-size="10" text-anchor="middle" fill="#000" >2500</text>
<path d="M311,73 L312.5,71.03 L314,71.21 L315.5,71.24 L317,70.86 L318.5,71.48 L320,71.85 L321.5,72.3 L323,71.7 L324.5,71.53 L326,70.46 L327.5,70.64 L329,71.11 L330.5,71.65 L332,70.95 L333.5,70.29 L335,71.78 L336.5,70.5 L338,71.09 L339.5,69.67 L341,68.7 L342.5,68.78 L344,69.23 L345.5,69.35 L347,68.69 L348.5,68.19 L350,69.63 L351.5,70.34 L353,69.97 L354.5,70.47 L356,69.65 L357.5,69.1 L359,68.57 L360.5,68.19 L362,67.43 L363.5,68.24 L365,67.36 L366.5,67.23 L368,66.36 L369.5,65.99 L371,66.16 L372.5,66.85 L374,67.18 L375.5,66.88 L377,66.3 L378.5,67.04 L380,66.59 L381.5,65.2 L383,65.45 L384.5,63.54 L386,62.87 L387.5,62.23 L389,61.08 L390.5,59.3 L392,58.39 L393.5,55.66 L395,54.73 L396.5,54.01 L398,52.9 L399.5,50.81 L401,48.95 L402.5,47.4 L404,47.01 L405.5,47.18 L407,47.17 L408.5,47.82 L410,49.87 L411.5,51.35 L413,52.8 L414.5,55.43 L416,56.61 L417.5,57.09 L419,57.03 L420.5,57.31 L422,55.47 L423.5,52.43 L425,50.09 L426.5,47.7 L428,45.63 L429.5,43.23 L431,41.69 L432.5,41.51 L434,42.21 L435.5,44.33 L437,47.72 L438.5,51.39 L440,53.86 L441.5,54.76 L443,57.1 L444.5,59.18 L446,58.49 L447.5,59.31 L449,58.88 L450.5,58.4 L452,57.85 L453.5,57.69 L455,58.11 L456.5,58.9 L458,59.92 L459.5,59.72 L461,59.09 L462.5,59.57 L464,58.65 L465.5,56.59 L467,56.87 L468.5,57.14 L470,56.71 L471.5,57.4 L473,57.03 L474.5,56.75 L476,55.98 L477.5,57.1 L479,57.04 L480.5,57.09 L482,56.67 L483.5,55.56 L485,56.45 L486.5,54.93 L488,55.98 L489.5,55.07 L491,56.34 L492.5,54.96 L494,54.54 L495.5,54.86 L497,54.32 L498.5,54.08 L500,54.38 L501.5,53.94 L503,53.63 L504.5,53.9 L506,53.67 L507.5,54.23 L509,54.37 L510.5,53.66 L512,53.15 L513.5,52.84 L515,54.15 L516.5,54.54 L518,53.73 L519.5,53.9 L521,53.7 L522.5,54.68 L524,54.88 L525.5,54.49 L527,55.23 L528.5,55.76 L530,55.79 L531.5,55.77 L533,55.52 L534.5,55.9" fill="none" stroke="#66bb1a" stroke-width="1.7" stroke-linejoin="round"/>
<path d="M311,109.8 L312.5,110.6 L314,109.86 L315.5,108.14 L317,108.35 L318.5,108.38 L320,109.41 L321.5,108.93 L323,108.57 L324.5,106.74 L326,107.55 L327.5,107.06 L329,107.3 L330.5,106.7 L332,106.34 L333.5,105.95 L335,105.89 L336.5,105.02 L338,105.45 L339.5,105.61 L341,105.21 L342.5,105 L344,105.97 L345.5,105.25 L347,104.31 L348.5,104.4 L350,104.23 L351.5,103.51 L353,103.43 L354.5,103.94 L356,104.41 L357.5,103.08 L359,102.83 L360.5,102.58 L362,102.5 L363.5,101.22 L365,101.14 L366.5,101.16 L368,99.96 L369.5,99.05 L371,98.8 L372.5,99 L374,99.41 L375.5,97.92 L377,97.44 L378.5,96.45 L380,96.5 L381.5,96.2 L383,96.19 L384.5,94.32 L386,94.36 L387.5,93.05 L389,92.02 L390.5,91.33 L392,90.23 L393.5,87.71 L395,86.91 L396.5,85.15 L398,81.8 L399.5,80.95 L401,78.31 L402.5,77.21 L404,75.27 L405.5,74.79 L407,75.08 L408.5,76.44 L410,79.03 L411.5,79.33 L413,80.12 L414.5,80.19 L416,82.64 L417.5,84.13 L419,83.26 L420.5,83.24 L422,82.33 L423.5,81.48 L425,77.38 L426.5,75.12 L428,71.76 L429.5,70.36 L431,70.04 L432.5,71.48 L434,70.8 L435.5,72.65 L437,76 L438.5,79.29 L440,84.88 L441.5,87.93 L443,90.61 L444.5,92.49 L446,93.13 L447.5,91.17 L449,91.72 L450.5,92.84 L452,94.09 L453.5,94.42 L455,94.71 L456.5,94.93 L458,94.2 L459.5,93.4 L461,93.26 L462.5,93.66 L464,93.01 L465.5,92.67 L467,92.77 L468.5,92.55 L470,92.38 L471.5,92.62 L473,92.08 L474.5,91.78 L476,92.62 L477.5,92.29 L479,92.42 L480.5,91.74 L482,90.79 L483.5,90.05 L485,91.17 L486.5,91.5 L488,89.71 L489.5,89.45 L491,89.8 L492.5,89.14 L494,89.32 L495.5,89.88 L497,91.29 L498.5,92.23 L500,91.78 L501.5,91.96 L503,90.8 L504.5,90.91 L506,89.08 L507.5,89 L509,89.45 L510.5,88.38 L512,88.8 L513.5,89.49 L515,90.76 L516.5,91.15 L518,91.25 L519.5,90.7 L521,90.63 L522.5,90.3 L524,90.65 L525.5,89.77 L527,90.66 L528.5,90.62 L530,90.77 L531.5,90.01 L533,89.35 L534.5,90.9" fill="none" stroke="#f22828" stroke-width="1.7" stroke-linejoin="round"/>
<path d="M311,139.3 L312.5,139.97 L314,139.43 L315.5,139.11 L317,138.82 L318.5,137.01 L320,137.4 L321.5,136.99 L323,137.54 L324.5,137.44 L326,137 L327.5,136.84 L329,135.83 L330.5,137.04 L332,136.83 L333.5,137.34 L335,136.53 L336.5,136.36 L338,136.47 L339.5,136.93 L341,137.02 L342.5,136.55 L344,136.48 L345.5,136.08 L347,135.48 L348.5,134.94 L350,134.51 L351.5,133.66 L353,135.09 L354.5,134.27 L356,135.01 L357.5,133.32 L359,133.98 L360.5,134.1 L362,134.71 L363.5,133.81 L365,133.68 L366.5,133.29 L368,133.55 L369.5,133.97 L371,132.85 L372.5,132.14 L374,132.35 L375.5,131.01 L377,129.79 L378.5,129.38 L380,130.54 L381.5,130.15 L383,129.98 L384.5,128.28 L386,126.71 L387.5,127.1 L389,126.86 L390.5,125.94 L392,125.26 L393.5,124.99 L395,123.72 L396.5,122.4 L398,120.72 L399.5,119.6 L401,117.4 L402.5,115.68 L404,114.15 L405.5,112.21 L407,111.32 L408.5,113.35 L410,115.52 L411.5,116.26 L413,115.96 L414.5,116.95 L416,119.23 L417.5,120.37 L419,120.25 L420.5,119.11 L422,118.58 L423.5,117.09 L425,116.91 L426.5,114.52 L428,112.69 L429.5,112.16 L431,110.98 L432.5,111.57 L434,111.94 L435.5,114.23 L437,116.28 L438.5,117.88 L440,120.74 L441.5,123.59 L443,124.69 L444.5,124.97 L446,126.79 L447.5,127.16 L449,126.81 L450.5,126.57 L452,126.25 L453.5,125.62 L455,126.9 L456.5,126.55 L458,125.11 L459.5,124.66 L461,123.34 L462.5,124.75 L464,125.65 L465.5,125.63 L467,126.23 L468.5,126.26 L470,126.47 L471.5,125.99 L473,125.1 L474.5,124.35 L476,125.35 L477.5,126.05 L479,125.86 L480.5,126 L482,124.29 L483.5,125.15 L485,124.77 L486.5,125.93 L488,124.56 L489.5,123.41 L491,123.76 L492.5,123.67 L494,122.8 L495.5,122.16 L497,124.17 L498.5,124.13 L500,125.4 L501.5,122.95 L503,123.11 L504.5,123.9 L506,123.5 L507.5,123.94 L509,124.51 L510.5,123.29 L512,122.37 L513.5,121.26 L515,122.34 L516.5,122.11 L518,122.47 L519.5,121.31 L521,121.74 L522.5,121.48 L524,120.79 L525.5,121.55 L527,120.68 L528.5,121.96 L530,122.79 L531.5,123.32 L533,122.96 L534.5,123.15" fill="none" stroke="#aa6ee8" stroke-width="1.7" stroke-linejoin="round"/>
<path d="M311,167.8 L312.5,166.28 L314,168.13 L315.5,167.56 L317,167.87 L318.5,168.2 L320,169.37 L321.5,168.63 L323,168.25 L324.5,168.34 L326,167.46 L327.5,165.71 L329,165.42 L330.5,166.72 L332,167.58 L333.5,166.75 L335,166.97 L336.5,165.5 L338,167.73 L339.5,166.56 L341,167.72 L342.5,167.18 L344,167.73 L345.5,167 L347,166.49 L348.5,167.2 L350,166.66 L351.5,168.11 L353,166.45 L354.5,166.88 L356,167.01 L357.5,166.88 L359,166.49 L360.5,165.19 L362,165.66 L363.5,166.73 L365,167.44 L366.5,166.17 L368,165.39 L369.5,166.3 L371,165.23 L372.5,164.72 L374,163.33 L375.5,163.72 L377,162.89 L378.5,161.74 L380,160.03 L381.5,159.18 L383,160.5 L384.5,161.4 L386,160.67 L387.5,160.02 L389,159.25 L390.5,159.49 L392,158.84 L393.5,158 L395,156.66 L396.5,157.07 L398,154.52 L399.5,153.83 L401,151.78 L402.5,152.07 L404,150.47 L405.5,150.7 L407,151.55 L408.5,152.39 L410,153.45 L411.5,152.63 L413,154.44 L414.5,154.67 L416,155.74 L417.5,156.74 L419,158.52 L420.5,158.32 L422,156.73 L423.5,155.81 L425,153.92 L426.5,152.19 L428,149.48 L429.5,147.2 L431,146.36 L432.5,145.73 L434,146.89 L435.5,150.44 L437,153.95 L438.5,156.07 L440,158.51 L441.5,160.61 L443,161.31 L444.5,162.12 L446,164.13 L447.5,163.76 L449,164.37 L450.5,163.92 L452,164.23 L453.5,165 L455,163.83 L456.5,164.06 L458,164.07 L459.5,164.06 L461,164.72 L462.5,164.78 L464,163.02 L465.5,163.49 L467,162.2 L468.5,162.75 L470,164.21 L471.5,163.41 L473,164.41 L474.5,163.95 L476,163.74 L477.5,162.79 L479,163.02 L480.5,164.24 L482,165.11 L483.5,163.13 L485,163.35 L486.5,162.41 L488,164.03 L489.5,162.54 L491,162.91 L492.5,162.69 L494,163.87 L495.5,162.93 L497,163.55 L498.5,163.03 L500,162.42 L501.5,162.14 L503,162.4 L504.5,161.79 L506,160.79 L507.5,162.78 L509,161.9 L510.5,161.47 L512,161.42 L513.5,161.64 L515,161.89 L516.5,161.21 L518,161.66 L519.5,161.69 L521,162.84 L522.5,163.47 L524,162.35 L525.5,163.01 L527,163.14 L528.5,163.49 L530,162.92 L531.5,161.98 L533,160.85 L534.5,161.68" fill="none" stroke="#1a66e6" stroke-width="1.7" stroke-linejoin="round"/>
<text x="402" y="40.5" font-size="10.5" text-anchor="start" fill="#000" >D</text>
<text x="428.3" y="34.8" font-size="10.5" text-anchor="start" fill="#000" >G</text>
<text x="325.3" y="60.4" font-size="10.3">I<tspan font-size="7" dy="2.2">D</tspan><tspan dy="-2.2">/I</tspan><tspan font-size="7" dy="2.2">G</tspan><tspan dy="-2.2">=1.15</tspan></text>
<text x="325.5" y="95.6" font-size="10.3">I<tspan font-size="7" dy="2.2">D</tspan><tspan dy="-2.2">/I</tspan><tspan font-size="7" dy="2.2">G</tspan><tspan dy="-2.2">=1.22</tspan></text>
<text x="326" y="128.2" font-size="10.3">I<tspan font-size="7" dy="2.2">D</tspan><tspan dy="-2.2">/I</tspan><tspan font-size="7" dy="2.2">G</tspan><tspan dy="-2.2">=1.32</tspan></text>
<text x="326" y="155.3" font-size="10.3">I<tspan font-size="7" dy="2.2">D</tspan><tspan dy="-2.2">/I</tspan><tspan font-size="7" dy="2.2">G</tspan><tspan dy="-2.2">=1.25</tspan></text>
<text x="472" y="47.6" font-size="10.3" text-anchor="start" fill="#66bb1a" >Ni@NC-700</text>
<text x="473.8" y="82.3" font-size="10.3" text-anchor="start" fill="#f22828" >Ni@NC-800</text>
<text x="473.8" y="117.3" font-size="10.3" text-anchor="start" fill="#aa6ee8" >Ni@NC-900</text>
<text x="474.6" y="155.5" font-size="10.1" text-anchor="start" fill="#1a66e6" >Ni@NC-1000</text>
<text x="423.6" y="216" font-size="12" text-anchor="middle">Raman Shift (cm<tspan font-size="8" dy="-4.5">-1</tspan><tspan dy="4.5">)</tspan></text>
<text transform="translate(302.8,98.5) rotate(-90)" font-size="12" text-anchor="middle">Intensity (a.u.)</text>
<text x="291.2" y="33.6" font-size="32" text-anchor="start" fill="#000" >b</text>
<rect x="40.4" y="222.9" width="224.9" height="181.3" fill="none" stroke="#000" stroke-width="1.5"/>
<line x1="59" y1="404.2" x2="59" y2="407.5" stroke="#000" stroke-width="1.1"/>
<line x1="77.78" y1="404.2" x2="77.78" y2="406.4" stroke="#000" stroke-width="1.1"/>
<line x1="96.56" y1="404.2" x2="96.56" y2="407.5" stroke="#000" stroke-width="1.1"/>
<line x1="115.34" y1="404.2" x2="115.34" y2="406.4" stroke="#000" stroke-width="1.1"/>
<line x1="134.12" y1="404.2" x2="134.12" y2="407.5" stroke="#000" stroke-width="1.1"/>
<line x1="152.9" y1="404.2" x2="152.9" y2="406.4" stroke="#000" stroke-width="1.1"/>
<line x1="171.68" y1="404.2" x2="171.68" y2="407.5" stroke="#000" stroke-width="1.1"/>
<line x1="190.46" y1="404.2" x2="190.46" y2="406.4" stroke="#000" stroke-width="1.1"/>
<line x1="209.24" y1="404.2" x2="209.24" y2="407.5" stroke="#000" stroke-width="1.1"/>
<line x1="228.02" y1="404.2" x2="228.02" y2="406.4" stroke="#000" stroke-width="1.1"/>
<line x1="246.8" y1="404.2" x2="246.8" y2="407.5" stroke="#000" stroke-width="1.1"/>
<text x="59" y="418.6" font-size="10" text-anchor="middle" fill="#000" >0.0</text>
<text x="96.56" y="418.6" font-size="10" text-anchor="middle" fill="#000" >0.2</text>
<text x="134.12" y="418.6" font-size="10" text-anchor="middle" fill="#000" >0.4</text>
<text x="171.68" y="418.6" font-size="10" text-anchor="middle" fill="#000" >0.6</text>
<text x="209.24" y="418.6" font-size="10" text-anchor="middle" fill="#000" >0.8</text>
<text x="246.8" y="418.6" font-size="10" text-anchor="middle" fill="#000" >1.0</text>
<line x1="40.4" y1="404.3" x2="37.1" y2="404.3" stroke="#000" stroke-width="1.1"/>
<line x1="40.4" y1="381.61" x2="38.2" y2="381.61" stroke="#000" stroke-width="1.1"/>
<line x1="40.4" y1="358.92" x2="37.1" y2="358.92" stroke="#000" stroke-width="1.1"/>
<line x1="40.4" y1="336.23" x2="38.2" y2="336.23" stroke="#000" stroke-width="1.1"/>
<line x1="40.4" y1="313.54" x2="37.1" y2="313.54" stroke="#000" stroke-width="1.1"/>
<line x1="40.4" y1="290.85" x2="38.2" y2="290.85" stroke="#000" stroke-width="1.1"/>
<line x1="40.4" y1="268.16" x2="37.1" y2="268.16" stroke="#000" stroke-width="1.1"/>
<line x1="40.4" y1="245.47" x2="38.2" y2="245.47" stroke="#000" stroke-width="1.1"/>
<text x="34.6" y="407.7" font-size="10" text-anchor="end" fill="#000" >0</text>
<text x="34.6" y="362.32" font-size="10" text-anchor="end" fill="#000" >200</text>
<text x="34.6" y="316.94" font-size="10" text-anchor="end" fill="#000" >400</text>
<text x="34.6" y="271.56" font-size="10" text-anchor="end" fill="#000" >600</text>
<path d="M59.75,400.44 L65.48,399.54 L71.21,399.08 L76.93,398.69 L82.66,398.27 L88.39,397.83 L94.12,397.47 L99.85,397.2 L105.57,396.98 L111.3,396.76 L117.03,396.51 L122.76,396.24 L128.49,395.95 L134.21,395.67 L139.94,395.42 L145.67,395.16 L151.4,394.86 L157.13,394.46 L162.85,393.93 L168.58,393.31 L174.31,392.64 L180.04,391.88 L185.77,391.02 L191.49,390.05 L197.22,388.94 L202.95,387.67 L208.68,386.29 L214.4,384.78 L220.13,382.86 L225.86,380.17 L231.59,376.36 L237.32,370.39 L241.54,362.4 L243.42,355.33 L244.92,344.63" fill="none" stroke="#66bb1a" stroke-width="1.25"/>
<rect x="57.19" y="397.88" width="5.13" height="5.13" fill="#fff" stroke="#66bb1a" stroke-width="0.9"/><rect x="57.19" y="397.88" width="2.56" height="5.13" fill="#66bb1a"/>
<rect x="62.91" y="396.98" width="5.13" height="5.13" fill="#fff" stroke="#66bb1a" stroke-width="0.9"/><rect x="62.91" y="396.98" width="2.56" height="5.13" fill="#66bb1a"/>
<rect x="68.64" y="396.52" width="5.13" height="5.13" fill="#fff" stroke="#66bb1a" stroke-width="0.9"/><rect x="68.64" y="396.52" width="2.56" height="5.13" fill="#66bb1a"/>
<rect x="74.37" y="396.12" width="5.13" height="5.13" fill="#fff" stroke="#66bb1a" stroke-width="0.9"/><rect x="74.37" y="396.12" width="2.56" height="5.13" fill="#66bb1a"/>
<rect x="80.1" y="395.7" width="5.13" height="5.13" fill="#fff" stroke="#66bb1a" stroke-width="0.9"/><rect x="80.1" y="395.7" width="2.56" height="5.13" fill="#66bb1a"/>
<rect x="85.83" y="395.27" width="5.13" height="5.13" fill="#fff" stroke="#66bb1a" stroke-width="0.9"/><rect x="85.83" y="395.27" width="2.56" height="5.13" fill="#66bb1a"/>
<rect x="91.55" y="394.91" width="5.13" height="5.13" fill="#fff" stroke="#66bb1a" stroke-width="0.9"/><rect x="91.55" y="394.91" width="2.56" height="5.13" fill="#66bb1a"/>
<rect x="97.28" y="394.64" width="5.13" height="5.13" fill="#fff" stroke="#66bb1a" stroke-width="0.9"/><rect x="97.28" y="394.64" width="2.56" height="5.13" fill="#66bb1a"/>
<rect x="103.01" y="394.41" width="5.13" height="5.13" fill="#fff" stroke="#66bb1a" stroke-width="0.9"/><rect x="103.01" y="394.41" width="2.56" height="5.13" fill="#66bb1a"/>
<rect x="108.74" y="394.19" width="5.13" height="5.13" fill="#fff" stroke="#66bb1a" stroke-width="0.9"/><rect x="108.74" y="394.19" width="2.56" height="5.13" fill="#66bb1a"/>
<rect x="114.47" y="393.94" width="5.13" height="5.13" fill="#fff" stroke="#66bb1a" stroke-width="0.9"/><rect x="114.47" y="393.94" width="2.56" height="5.13" fill="#66bb1a"/>
<rect x="120.19" y="393.67" width="5.13" height="5.13" fill="#fff" stroke="#66bb1a" stroke-width="0.9"/><rect x="120.19" y="393.67" width="2.56" height="5.13" fill="#66bb1a"/>
<rect x="125.92" y="393.39" width="5.13" height="5.13" fill="#fff" stroke="#66bb1a" stroke-width="0.9"/><rect x="125.92" y="393.39" width="2.56" height="5.13" fill="#66bb1a"/>
<rect x="131.65" y="393.11" width="5.13" height="5.13" fill="#fff" stroke="#66bb1a" stroke-width="0.9"/><rect x="131.65" y="393.11" width="2.56" height="5.13" fill="#66bb1a"/>
<rect x="137.38" y="392.85" width="5.13" height="5.13" fill="#fff" stroke="#66bb1a" stroke-width="0.9"/><rect x="137.38" y="392.85" width="2.56" height="5.13" fill="#66bb1a"/>
<rect x="143.1" y="392.6" width="5.13" height="5.13" fill="#fff" stroke="#66bb1a" stroke-width="0.9"/><rect x="143.1" y="392.6" width="2.56" height="5.13" fill="#66bb1a"/>
<rect x="148.83" y="392.3" width="5.13" height="5.13" fill="#fff" stroke="#66bb1a" stroke-width="0.9"/><rect x="148.83" y="392.3" width="2.56" height="5.13" fill="#66bb1a"/>
<rect x="154.56" y="391.89" width="5.13" height="5.13" fill="#fff" stroke="#66bb1a" stroke-width="0.9"/><rect x="154.56" y="391.89" width="2.56" height="5.13" fill="#66bb1a"/>
<rect x="160.29" y="391.36" width="5.13" height="5.13" fill="#fff" stroke="#66bb1a" stroke-width="0.9"/><rect x="160.29" y="391.36" width="2.56" height="5.13" fill="#66bb1a"/>
<rect x="166.02" y="390.75" width="5.13" height="5.13" fill="#fff" stroke="#66bb1a" stroke-width="0.9"/><rect x="166.02" y="390.75" width="2.56" height="5.13" fill="#66bb1a"/>
<rect x="171.74" y="390.07" width="5.13" height="5.13" fill="#fff" stroke="#66bb1a" stroke-width="0.9"/><rect x="171.74" y="390.07" width="2.56" height="5.13" fill="#66bb1a"/>
<rect x="177.47" y="389.31" width="5.13" height="5.13" fill="#fff" stroke="#66bb1a" stroke-width="0.9"/><rect x="177.47" y="389.31" width="2.56" height="5.13" fill="#66bb1a"/>
<rect x="183.2" y="388.45" width="5.13" height="5.13" fill="#fff" stroke="#66bb1a" stroke-width="0.9"/><rect x="183.2" y="388.45" width="2.56" height="5.13" fill="#66bb1a"/>
<rect x="188.93" y="387.48" width="5.13" height="5.13" fill="#fff" stroke="#66bb1a" stroke-width="0.9"/><rect x="188.93" y="387.48" width="2.56" height="5.13" fill="#66bb1a"/>
<rect x="194.66" y="386.37" width="5.13" height="5.13" fill="#fff" stroke="#66bb1a" stroke-width="0.9"/><rect x="194.66" y="386.37" width="2.56" height="5.13" fill="#66bb1a"/>
<rect x="200.38" y="385.11" width="5.13" height="5.13" fill="#fff" stroke="#66bb1a" stroke-width="0.9"/><rect x="200.38" y="385.11" width="2.56" height="5.13" fill="#66bb1a"/>
<rect x="206.11" y="383.72" width="5.13" height="5.13" fill="#fff" stroke="#66bb1a" stroke-width="0.9"/><rect x="206.11" y="383.72" width="2.56" height="5.13" fill="#66bb1a"/>
<rect x="211.84" y="382.22" width="5.13" height="5.13" fill="#fff" stroke="#66bb1a" stroke-width="0.9"/><rect x="211.84" y="382.22" width="2.56" height="5.13" fill="#66bb1a"/>
<rect x="217.57" y="380.29" width="5.13" height="5.13" fill="#fff" stroke="#66bb1a" stroke-width="0.9"/><rect x="217.57" y="380.29" width="2.56" height="5.13" fill="#66bb1a"/>
<rect x="223.3" y="377.6" width="5.13" height="5.13" fill="#fff" stroke="#66bb1a" stroke-width="0.9"/><rect x="223.3" y="377.6" width="2.56" height="5.13" fill="#66bb1a"/>
<rect x="229.02" y="373.79" width="5.13" height="5.13" fill="#fff" stroke="#66bb1a" stroke-width="0.9"/><rect x="229.02" y="373.79" width="2.56" height="5.13" fill="#66bb1a"/>
<rect x="234.75" y="367.83" width="5.13" height="5.13" fill="#fff" stroke="#66bb1a" stroke-width="0.9"/><rect x="234.75" y="367.83" width="2.56" height="5.13" fill="#66bb1a"/>
<rect x="238.98" y="359.84" width="5.13" height="5.13" fill="#fff" stroke="#66bb1a" stroke-width="0.9"/><rect x="238.98" y="359.84" width="2.56" height="5.13" fill="#66bb1a"/>
<rect x="240.85" y="352.77" width="5.13" height="5.13" fill="#fff" stroke="#66bb1a" stroke-width="0.9"/><rect x="240.85" y="352.77" width="2.56" height="5.13" fill="#66bb1a"/>
<rect x="242.36" y="342.06" width="5.13" height="5.13" fill="#fff" stroke="#66bb1a" stroke-width="0.9"/><rect x="242.36" y="342.06" width="2.56" height="5.13" fill="#66bb1a"/>
<path d="M244.92,331.92 L243.98,340.77 L239.29,356.64 L234.59,362.82 L228.77,369.5 L222.95,375.05 L217.13,378.09 L211.31,379.71 L205.48,381.24 L199.66,382.8 L193.84,384.71 L188.02,386.27 L182.2,387.45 L176.37,388.5 L170.55,389.53 L164.73,390.54 L158.91,391.51 L153.09,392.47 L147.27,393.42" fill="none" stroke="#66bb1a" stroke-width="1.25"/>
<rect x="242.36" y="329.35" width="5.13" height="5.13" fill="#fff" stroke="#66bb1a" stroke-width="0.9"/><rect x="242.36" y="329.35" width="2.56" height="5.13" fill="#66bb1a"/>
<rect x="241.42" y="338.2" width="5.13" height="5.13" fill="#fff" stroke="#66bb1a" stroke-width="0.9"/><rect x="241.42" y="338.2" width="2.56" height="5.13" fill="#66bb1a"/>
<rect x="236.72" y="354.08" width="5.13" height="5.13" fill="#fff" stroke="#66bb1a" stroke-width="0.9"/><rect x="236.72" y="354.08" width="2.56" height="5.13" fill="#66bb1a"/>
<rect x="232.03" y="360.25" width="5.13" height="5.13" fill="#fff" stroke="#66bb1a" stroke-width="0.9"/><rect x="232.03" y="360.25" width="2.56" height="5.13" fill="#66bb1a"/>
<rect x="226.21" y="366.93" width="5.13" height="5.13" fill="#fff" stroke="#66bb1a" stroke-width="0.9"/><rect x="226.21" y="366.93" width="2.56" height="5.13" fill="#66bb1a"/>
<rect x="220.38" y="372.48" width="5.13" height="5.13" fill="#fff" stroke="#66bb1a" stroke-width="0.9"/><rect x="220.38" y="372.48" width="2.56" height="5.13" fill="#66bb1a"/>
<rect x="214.56" y="375.53" width="5.13" height="5.13" fill="#fff" stroke="#66bb1a" stroke-width="0.9"/><rect x="214.56" y="375.53" width="2.56" height="5.13" fill="#66bb1a"/>
<rect x="208.74" y="377.14" width="5.13" height="5.13" fill="#fff" stroke="#66bb1a" stroke-width="0.9"/><rect x="208.74" y="377.14" width="2.56" height="5.13" fill="#66bb1a"/>
<rect x="202.92" y="378.68" width="5.13" height="5.13" fill="#fff" stroke="#66bb1a" stroke-width="0.9"/><rect x="202.92" y="378.68" width="2.56" height="5.13" fill="#66bb1a"/>
<rect x="197.1" y="380.23" width="5.13" height="5.13" fill="#fff" stroke="#66bb1a" stroke-width="0.9"/><rect x="197.1" y="380.23" width="2.56" height="5.13" fill="#66bb1a"/>
<rect x="191.28" y="382.14" width="5.13" height="5.13" fill="#fff" stroke="#66bb1a" stroke-width="0.9"/><rect x="191.28" y="382.14" width="2.56" height="5.13" fill="#66bb1a"/>
<rect x="185.45" y="383.7" width="5.13" height="5.13" fill="#fff" stroke="#66bb1a" stroke-width="0.9"/><rect x="185.45" y="383.7" width="2.56" height="5.13" fill="#66bb1a"/>
<rect x="179.63" y="384.89" width="5.13" height="5.13" fill="#fff" stroke="#66bb1a" stroke-width="0.9"/><rect x="179.63" y="384.89" width="2.56" height="5.13" fill="#66bb1a"/>
<rect x="173.81" y="385.93" width="5.13" height="5.13" fill="#fff" stroke="#66bb1a" stroke-width="0.9"/><rect x="173.81" y="385.93" width="2.56" height="5.13" fill="#66bb1a"/>
<rect x="167.99" y="386.96" width="5.13" height="5.13" fill="#fff" stroke="#66bb1a" stroke-width="0.9"/><rect x="167.99" y="386.96" width="2.56" height="5.13" fill="#66bb1a"/>
<rect x="162.17" y="387.97" width="5.13" height="5.13" fill="#fff" stroke="#66bb1a" stroke-width="0.9"/><rect x="162.17" y="387.97" width="2.56" height="5.13" fill="#66bb1a"/>
<rect x="156.34" y="388.95" width="5.13" height="5.13" fill="#fff" stroke="#66bb1a" stroke-width="0.9"/><rect x="156.34" y="388.95" width="2.56" height="5.13" fill="#66bb1a"/>
<rect x="150.52" y="389.91" width="5.13" height="5.13" fill="#fff" stroke="#66bb1a" stroke-width="0.9"/><rect x="150.52" y="389.91" width="2.56" height="5.13" fill="#66bb1a"/>
<rect x="144.7" y="390.85" width="5.13" height="5.13" fill="#fff" stroke="#66bb1a" stroke-width="0.9"/><rect x="144.7" y="390.85" width="2.56" height="5.13" fill="#66bb1a"/>
<path d="M59.75,381.61 L65.48,378.81 L71.21,377.23 L76.93,375.89 L82.66,374.72 L88.39,373.65 L94.12,372.7 L99.85,371.88 L105.57,371.14 L111.3,370.39 L117.03,369.55 L122.76,368.62 L128.49,367.64 L134.21,366.62 L139.94,365.57 L145.67,364.48 L151.4,363.32 L157.13,362.09 L162.85,360.78 L168.58,359.28 L174.31,357.39 L180.04,355.08 L185.77,352.64 L191.49,350.37 L197.22,348.44 L202.95,346.57 L208.68,344.39 L214.4,341.52 L220.13,337.6 L225.86,331.55 L231.59,321.56 L237.32,307.21 L241.54,293.48 L243.42,281.96 L244.92,268.16" fill="none" stroke="#f22828" stroke-width="1.25"/>
<circle cx="59.75" cy="381.61" r="2.7" fill="#fff" stroke="#f22828" stroke-width="0.9"/><path d="M59.75,378.91 A2.7,2.7 0 0 0 59.75,384.31 Z" fill="#f22828"/>
<circle cx="65.48" cy="378.81" r="2.7" fill="#fff" stroke="#f22828" stroke-width="0.9"/><path d="M65.48,376.11 A2.7,2.7 0 0 0 65.48,381.51 Z" fill="#f22828"/>
<circle cx="71.21" cy="377.23" r="2.7" fill="#fff" stroke="#f22828" stroke-width="0.9"/><path d="M71.21,374.53 A2.7,2.7 0 0 0 71.21,379.93 Z" fill="#f22828"/>
<circle cx="76.93" cy="375.89" r="2.7" fill="#fff" stroke="#f22828" stroke-width="0.9"/><path d="M76.93,373.19 A2.7,2.7 0 0 0 76.93,378.59 Z" fill="#f22828"/>
<circle cx="82.66" cy="374.72" r="2.7" fill="#fff" stroke="#f22828" stroke-width="0.9"/><path d="M82.66,372.02 A2.7,2.7 0 0 0 82.66,377.42 Z" fill="#f22828"/>
<circle cx="88.39" cy="373.65" r="2.7" fill="#fff" stroke="#f22828" stroke-width="0.9"/><path d="M88.39,370.95 A2.7,2.7 0 0 0 88.39,376.35 Z" fill="#f22828"/>
<circle cx="94.12" cy="372.7" r="2.7" fill="#fff" stroke="#f22828" stroke-width="0.9"/><path d="M94.12,370 A2.7,2.7 0 0 0 94.12,375.4 Z" fill="#f22828"/>
<circle cx="99.85" cy="371.88" r="2.7" fill="#fff" stroke="#f22828" stroke-width="0.9"/><path d="M99.85,369.18 A2.7,2.7 0 0 0 99.85,374.58 Z" fill="#f22828"/>
<circle cx="105.57" cy="371.14" r="2.7" fill="#fff" stroke="#f22828" stroke-width="0.9"/><path d="M105.57,368.44 A2.7,2.7 0 0 0 105.57,373.84 Z" fill="#f22828"/>
<circle cx="111.3" cy="370.39" r="2.7" fill="#fff" stroke="#f22828" stroke-width="0.9"/><path d="M111.3,367.69 A2.7,2.7 0 0 0 111.3,373.09 Z" fill="#f22828"/>
<circle cx="117.03" cy="369.55" r="2.7" fill="#fff" stroke="#f22828" stroke-width="0.9"/><path d="M117.03,366.85 A2.7,2.7 0 0 0 117.03,372.25 Z" fill="#f22828"/>
<circle cx="122.76" cy="368.62" r="2.7" fill="#fff" stroke="#f22828" stroke-width="0.9"/><path d="M122.76,365.92 A2.7,2.7 0 0 0 122.76,371.32 Z" fill="#f22828"/>
<circle cx="128.49" cy="367.64" r="2.7" fill="#fff" stroke="#f22828" stroke-width="0.9"/><path d="M128.49,364.94 A2.7,2.7 0 0 0 128.49,370.34 Z" fill="#f22828"/>
<circle cx="134.21" cy="366.62" r="2.7" fill="#fff" stroke="#f22828" stroke-width="0.9"/><path d="M134.21,363.92 A2.7,2.7 0 0 0 134.21,369.32 Z" fill="#f22828"/>
<circle cx="139.94" cy="365.57" r="2.7" fill="#fff" stroke="#f22828" stroke-width="0.9"/><path d="M139.94,362.87 A2.7,2.7 0 0 0 139.94,368.27 Z" fill="#f22828"/>
<circle cx="145.67" cy="364.48" r="2.7" fill="#fff" stroke="#f22828" stroke-width="0.9"/><path d="M145.67,361.78 A2.7,2.7 0 0 0 145.67,367.18 Z" fill="#f22828"/>
<circle cx="151.4" cy="363.32" r="2.7" fill="#fff" stroke="#f22828" stroke-width="0.9"/><path d="M151.4,360.62 A2.7,2.7 0 0 0 151.4,366.02 Z" fill="#f22828"/>
<circle cx="157.13" cy="362.09" r="2.7" fill="#fff" stroke="#f22828" stroke-width="0.9"/><path d="M157.13,359.39 A2.7,2.7 0 0 0 157.13,364.79 Z" fill="#f22828"/>
<circle cx="162.85" cy="360.78" r="2.7" fill="#fff" stroke="#f22828" stroke-width="0.9"/><path d="M162.85,358.08 A2.7,2.7 0 0 0 162.85,363.48 Z" fill="#f22828"/>
<circle cx="168.58" cy="359.28" r="2.7" fill="#fff" stroke="#f22828" stroke-width="0.9"/><path d="M168.58,356.58 A2.7,2.7 0 0 0 168.58,361.98 Z" fill="#f22828"/>
<circle cx="174.31" cy="357.39" r="2.7" fill="#fff" stroke="#f22828" stroke-width="0.9"/><path d="M174.31,354.69 A2.7,2.7 0 0 0 174.31,360.09 Z" fill="#f22828"/>
<circle cx="180.04" cy="355.08" r="2.7" fill="#fff" stroke="#f22828" stroke-width="0.9"/><path d="M180.04,352.38 A2.7,2.7 0 0 0 180.04,357.78 Z" fill="#f22828"/>
<circle cx="185.77" cy="352.64" r="2.7" fill="#fff" stroke="#f22828" stroke-width="0.9"/><path d="M185.77,349.94 A2.7,2.7 0 0 0 185.77,355.34 Z" fill="#f22828"/>
<circle cx="191.49" cy="350.37" r="2.7" fill="#fff" stroke="#f22828" stroke-width="0.9"/><path d="M191.49,347.67 A2.7,2.7 0 0 0 191.49,353.07 Z" fill="#f22828"/>
<circle cx="197.22" cy="348.44" r="2.7" fill="#fff" stroke="#f22828" stroke-width="0.9"/><path d="M197.22,345.74 A2.7,2.7 0 0 0 197.22,351.14 Z" fill="#f22828"/>
<circle cx="202.95" cy="346.57" r="2.7" fill="#fff" stroke="#f22828" stroke-width="0.9"/><path d="M202.95,343.87 A2.7,2.7 0 0 0 202.95,349.27 Z" fill="#f22828"/>
<circle cx="208.68" cy="344.39" r="2.7" fill="#fff" stroke="#f22828" stroke-width="0.9"/><path d="M208.68,341.69 A2.7,2.7 0 0 0 208.68,347.09 Z" fill="#f22828"/>
<circle cx="214.4" cy="341.52" r="2.7" fill="#fff" stroke="#f22828" stroke-width="0.9"/><path d="M214.4,338.82 A2.7,2.7 0 0 0 214.4,344.22 Z" fill="#f22828"/>
<circle cx="220.13" cy="337.6" r="2.7" fill="#fff" stroke="#f22828" stroke-width="0.9"/><path d="M220.13,334.9 A2.7,2.7 0 0 0 220.13,340.3 Z" fill="#f22828"/>
<circle cx="225.86" cy="331.55" r="2.7" fill="#fff" stroke="#f22828" stroke-width="0.9"/><path d="M225.86,328.85 A2.7,2.7 0 0 0 225.86,334.25 Z" fill="#f22828"/>
<circle cx="231.59" cy="321.56" r="2.7" fill="#fff" stroke="#f22828" stroke-width="0.9"/><path d="M231.59,318.86 A2.7,2.7 0 0 0 231.59,324.26 Z" fill="#f22828"/>
<circle cx="237.32" cy="307.21" r="2.7" fill="#fff" stroke="#f22828" stroke-width="0.9"/><path d="M237.32,304.51 A2.7,2.7 0 0 0 237.32,309.91 Z" fill="#f22828"/>
<circle cx="241.54" cy="293.48" r="2.7" fill="#fff" stroke="#f22828" stroke-width="0.9"/><path d="M241.54,290.78 A2.7,2.7 0 0 0 241.54,296.18 Z" fill="#f22828"/>
<circle cx="243.42" cy="281.96" r="2.7" fill="#fff" stroke="#f22828" stroke-width="0.9"/><path d="M243.42,279.26 A2.7,2.7 0 0 0 243.42,284.66 Z" fill="#f22828"/>
<circle cx="244.92" cy="268.16" r="2.7" fill="#fff" stroke="#f22828" stroke-width="0.9"/><path d="M244.92,265.46 A2.7,2.7 0 0 0 244.92,270.86 Z" fill="#f22828"/>
<path d="M244.92,262.26 L243.98,266.75 L239.29,286.31 L234.59,301.18 L228.77,313.97 L222.95,321.16 L217.13,326.34 L211.31,332.31 L205.48,336.93 L199.66,340 L193.84,342.51 L188.02,345.01 L182.2,347.5 L176.37,349.84 L170.55,351.88 L164.73,353.31 L158.91,354.43 L153.09,356.34 L147.27,363" fill="none" stroke="#f22828" stroke-width="1.25"/>
<circle cx="244.92" cy="262.26" r="2.7" fill="#fff" stroke="#f22828" stroke-width="0.9"/><path d="M244.92,259.56 A2.7,2.7 0 0 0 244.92,264.96 Z" fill="#f22828"/>
<circle cx="243.98" cy="266.75" r="2.7" fill="#fff" stroke="#f22828" stroke-width="0.9"/><path d="M243.98,264.05 A2.7,2.7 0 0 0 243.98,269.45 Z" fill="#f22828"/>
<circle cx="239.29" cy="286.31" r="2.7" fill="#fff" stroke="#f22828" stroke-width="0.9"/><path d="M239.29,283.61 A2.7,2.7 0 0 0 239.29,289.01 Z" fill="#f22828"/>
<circle cx="234.59" cy="301.18" r="2.7" fill="#fff" stroke="#f22828" stroke-width="0.9"/><path d="M234.59,298.48 A2.7,2.7 0 0 0 234.59,303.88 Z" fill="#f22828"/>
<circle cx="228.77" cy="313.97" r="2.7" fill="#fff" stroke="#f22828" stroke-width="0.9"/><path d="M228.77,311.27 A2.7,2.7 0 0 0 228.77,316.67 Z" fill="#f22828"/>
<circle cx="222.95" cy="321.16" r="2.7" fill="#fff" stroke="#f22828" stroke-width="0.9"/><path d="M222.95,318.46 A2.7,2.7 0 0 0 222.95,323.86 Z" fill="#f22828"/>
<circle cx="217.13" cy="326.34" r="2.7" fill="#fff" stroke="#f22828" stroke-width="0.9"/><path d="M217.13,323.64 A2.7,2.7 0 0 0 217.13,329.04 Z" fill="#f22828"/>
<circle cx="211.31" cy="332.31" r="2.7" fill="#fff" stroke="#f22828" stroke-width="0.9"/><path d="M211.31,329.61 A2.7,2.7 0 0 0 211.31,335.01 Z" fill="#f22828"/>
<circle cx="205.48" cy="336.93" r="2.7" fill="#fff" stroke="#f22828" stroke-width="0.9"/><path d="M205.48,334.23 A2.7,2.7 0 0 0 205.48,339.63 Z" fill="#f22828"/>
<circle cx="199.66" cy="340" r="2.7" fill="#fff" stroke="#f22828" stroke-width="0.9"/><path d="M199.66,337.3 A2.7,2.7 0 0 0 199.66,342.7 Z" fill="#f22828"/>
<circle cx="193.84" cy="342.51" r="2.7" fill="#fff" stroke="#f22828" stroke-width="0.9"/><path d="M193.84,339.81 A2.7,2.7 0 0 0 193.84,345.21 Z" fill="#f22828"/>
<circle cx="188.02" cy="345.01" r="2.7" fill="#fff" stroke="#f22828" stroke-width="0.9"/><path d="M188.02,342.31 A2.7,2.7 0 0 0 188.02,347.71 Z" fill="#f22828"/>
<circle cx="182.2" cy="347.5" r="2.7" fill="#fff" stroke="#f22828" stroke-width="0.9"/><path d="M182.2,344.8 A2.7,2.7 0 0 0 182.2,350.2 Z" fill="#f22828"/>
<circle cx="176.37" cy="349.84" r="2.7" fill="#fff" stroke="#f22828" stroke-width="0.9"/><path d="M176.37,347.14 A2.7,2.7 0 0 0 176.37,352.54 Z" fill="#f22828"/>
<circle cx="170.55" cy="351.88" r="2.7" fill="#fff" stroke="#f22828" stroke-width="0.9"/><path d="M170.55,349.18 A2.7,2.7 0 0 0 170.55,354.58 Z" fill="#f22828"/>
<circle cx="164.73" cy="353.31" r="2.7" fill="#fff" stroke="#f22828" stroke-width="0.9"/><path d="M164.73,350.61 A2.7,2.7 0 0 0 164.73,356.01 Z" fill="#f22828"/>
<circle cx="158.91" cy="354.43" r="2.7" fill="#fff" stroke="#f22828" stroke-width="0.9"/><path d="M158.91,351.73 A2.7,2.7 0 0 0 158.91,357.13 Z" fill="#f22828"/>
<circle cx="153.09" cy="356.34" r="2.7" fill="#fff" stroke="#f22828" stroke-width="0.9"/><path d="M153.09,353.64 A2.7,2.7 0 0 0 153.09,359.04 Z" fill="#f22828"/>
<circle cx="147.27" cy="363" r="2.7" fill="#fff" stroke="#f22828" stroke-width="0.9"/><path d="M147.27,360.3 A2.7,2.7 0 0 0 147.27,365.7 Z" fill="#f22828"/>
<path d="M59.75,385.69 L65.48,382.16 L71.21,380.37 L76.93,379.07 L82.66,377.89 L88.39,376.83 L94.12,375.88 L99.85,375.05 L105.57,374.31 L111.3,373.57 L117.03,372.73 L122.76,371.79 L128.49,370.8 L134.21,369.79 L139.94,368.8 L145.67,367.79 L151.4,366.71 L157.13,365.56 L162.85,364.34 L168.58,362.9 L174.31,361.03 L180.04,358.65 L185.77,355.97 L191.49,353.2 L197.22,350.42 L202.95,347.49 L208.68,344.28 L214.4,340.64 L220.13,336.35 L225.86,329.27 L231.59,317.74 L237.32,302.4 L241.54,288.99 L243.42,276.64 L244.92,261.13" fill="none" stroke="#aa6ee8" stroke-width="1.25"/>
<circle cx="59.75" cy="385.69" r="2.7" fill="#fff" stroke="#aa6ee8" stroke-width="0.9"/><path d="M59.75,382.99 A2.7,2.7 0 0 0 59.75,388.39 Z" fill="#aa6ee8"/>
<circle cx="65.48" cy="382.16" r="2.7" fill="#fff" stroke="#aa6ee8" stroke-width="0.9"/><path d="M65.48,379.46 A2.7,2.7 0 0 0 65.48,384.86 Z" fill="#aa6ee8"/>
<circle cx="71.21" cy="380.37" r="2.7" fill="#fff" stroke="#aa6ee8" stroke-width="0.9"/><path d="M71.21,377.67 A2.7,2.7 0 0 0 71.21,383.07 Z" fill="#aa6ee8"/>
<circle cx="76.93" cy="379.07" r="2.7" fill="#fff" stroke="#aa6ee8" stroke-width="0.9"/><path d="M76.93,376.37 A2.7,2.7 0 0 0 76.93,381.77 Z" fill="#aa6ee8"/>
<circle cx="82.66" cy="377.89" r="2.7" fill="#fff" stroke="#aa6ee8" stroke-width="0.9"/><path d="M82.66,375.19 A2.7,2.7 0 0 0 82.66,380.59 Z" fill="#aa6ee8"/>
<circle cx="88.39" cy="376.83" r="2.7" fill="#fff" stroke="#aa6ee8" stroke-width="0.9"/><path d="M88.39,374.13 A2.7,2.7 0 0 0 88.39,379.53 Z" fill="#aa6ee8"/>
<circle cx="94.12" cy="375.88" r="2.7" fill="#fff" stroke="#aa6ee8" stroke-width="0.9"/><path d="M94.12,373.18 A2.7,2.7 0 0 0 94.12,378.58 Z" fill="#aa6ee8"/>
<circle cx="99.85" cy="375.05" r="2.7" fill="#fff" stroke="#aa6ee8" stroke-width="0.9"/><path d="M99.85,372.35 A2.7,2.7 0 0 0 99.85,377.75 Z" fill="#aa6ee8"/>
<circle cx="105.57" cy="374.31" r="2.7" fill="#fff" stroke="#aa6ee8" stroke-width="0.9"/><path d="M105.57,371.61 A2.7,2.7 0 0 0 105.57,377.01 Z" fill="#aa6ee8"/>
<circle cx="111.3" cy="373.57" r="2.7" fill="#fff" stroke="#aa6ee8" stroke-width="0.9"/><path d="M111.3,370.87 A2.7,2.7 0 0 0 111.3,376.27 Z" fill="#aa6ee8"/>
<circle cx="117.03" cy="372.73" r="2.7" fill="#fff" stroke="#aa6ee8" stroke-width="0.9"/><path d="M117.03,370.03 A2.7,2.7 0 0 0 117.03,375.43 Z" fill="#aa6ee8"/>
<circle cx="122.76" cy="371.79" r="2.7" fill="#fff" stroke="#aa6ee8" stroke-width="0.9"/><path d="M122.76,369.09 A2.7,2.7 0 0 0 122.76,374.49 Z" fill="#aa6ee8"/>
<circle cx="128.49" cy="370.8" r="2.7" fill="#fff" stroke="#aa6ee8" stroke-width="0.9"/><path d="M128.49,368.1 A2.7,2.7 0 0 0 128.49,373.5 Z" fill="#aa6ee8"/>
<circle cx="134.21" cy="369.79" r="2.7" fill="#fff" stroke="#aa6ee8" stroke-width="0.9"/><path d="M134.21,367.09 A2.7,2.7 0 0 0 134.21,372.49 Z" fill="#aa6ee8"/>
<circle cx="139.94" cy="368.8" r="2.7" fill="#fff" stroke="#aa6ee8" stroke-width="0.9"/><path d="M139.94,366.1 A2.7,2.7 0 0 0 139.94,371.5 Z" fill="#aa6ee8"/>
<circle cx="145.67" cy="367.79" r="2.7" fill="#fff" stroke="#aa6ee8" stroke-width="0.9"/><path d="M145.67,365.09 A2.7,2.7 0 0 0 145.67,370.49 Z" fill="#aa6ee8"/>
<circle cx="151.4" cy="366.71" r="2.7" fill="#fff" stroke="#aa6ee8" stroke-width="0.9"/><path d="M151.4,364.01 A2.7,2.7 0 0 0 151.4,369.41 Z" fill="#aa6ee8"/>
<circle cx="157.13" cy="365.56" r="2.7" fill="#fff" stroke="#aa6ee8" stroke-width="0.9"/><path d="M157.13,362.86 A2.7,2.7 0 0 0 157.13,368.26 Z" fill="#aa6ee8"/>
<circle cx="162.85" cy="364.34" r="2.7" fill="#fff" stroke="#aa6ee8" stroke-width="0.9"/><path d="M162.85,361.64 A2.7,2.7 0 0 0 162.85,367.04 Z" fill="#aa6ee8"/>
<circle cx="168.58" cy="362.9" r="2.7" fill="#fff" stroke="#aa6ee8" stroke-width="0.9"/><path d="M168.58,360.2 A2.7,2.7 0 0 0 168.58,365.6 Z" fill="#aa6ee8"/>
<circle cx="174.31" cy="361.03" r="2.7" fill="#fff" stroke="#aa6ee8" stroke-width="0.9"/><path d="M174.31,358.33 A2.7,2.7 0 0 0 174.31,363.73 Z" fill="#aa6ee8"/>
<circle cx="180.04" cy="358.65" r="2.7" fill="#fff" stroke="#aa6ee8" stroke-width="0.9"/><path d="M180.04,355.95 A2.7,2.7 0 0 0 180.04,361.35 Z" fill="#aa6ee8"/>
<circle cx="185.77" cy="355.97" r="2.7" fill="#fff" stroke="#aa6ee8" stroke-width="0.9"/><path d="M185.77,353.27 A2.7,2.7 0 0 0 185.77,358.67 Z" fill="#aa6ee8"/>
<circle cx="191.49" cy="353.2" r="2.7" fill="#fff" stroke="#aa6ee8" stroke-width="0.9"/><path d="M191.49,350.5 A2.7,2.7 0 0 0 191.49,355.9 Z" fill="#aa6ee8"/>
<circle cx="197.22" cy="350.42" r="2.7" fill="#fff" stroke="#aa6ee8" stroke-width="0.9"/><path d="M197.22,347.72 A2.7,2.7 0 0 0 197.22,353.12 Z" fill="#aa6ee8"/>
<circle cx="202.95" cy="347.49" r="2.7" fill="#fff" stroke="#aa6ee8" stroke-width="0.9"/><path d="M202.95,344.79 A2.7,2.7 0 0 0 202.95,350.19 Z" fill="#aa6ee8"/>
<circle cx="208.68" cy="344.28" r="2.7" fill="#fff" stroke="#aa6ee8" stroke-width="0.9"/><path d="M208.68,341.58 A2.7,2.7 0 0 0 208.68,346.98 Z" fill="#aa6ee8"/>
<circle cx="214.4" cy="340.64" r="2.7" fill="#fff" stroke="#aa6ee8" stroke-width="0.9"/><path d="M214.4,337.94 A2.7,2.7 0 0 0 214.4,343.34 Z" fill="#aa6ee8"/>
<circle cx="220.13" cy="336.35" r="2.7" fill="#fff" stroke="#aa6ee8" stroke-width="0.9"/><path d="M220.13,333.65 A2.7,2.7 0 0 0 220.13,339.05 Z" fill="#aa6ee8"/>
<circle cx="225.86" cy="329.27" r="2.7" fill="#fff" stroke="#aa6ee8" stroke-width="0.9"/><path d="M225.86,326.57 A2.7,2.7 0 0 0 225.86,331.97 Z" fill="#aa6ee8"/>
<circle cx="231.59" cy="317.74" r="2.7" fill="#fff" stroke="#aa6ee8" stroke-width="0.9"/><path d="M231.59,315.04 A2.7,2.7 0 0 0 231.59,320.44 Z" fill="#aa6ee8"/>
<circle cx="237.32" cy="302.4" r="2.7" fill="#fff" stroke="#aa6ee8" stroke-width="0.9"/><path d="M237.32,299.7 A2.7,2.7 0 0 0 237.32,305.1 Z" fill="#aa6ee8"/>
<circle cx="241.54" cy="288.99" r="2.7" fill="#fff" stroke="#aa6ee8" stroke-width="0.9"/><path d="M241.54,286.29 A2.7,2.7 0 0 0 241.54,291.69 Z" fill="#aa6ee8"/>
<circle cx="243.42" cy="276.64" r="2.7" fill="#fff" stroke="#aa6ee8" stroke-width="0.9"/><path d="M243.42,273.94 A2.7,2.7 0 0 0 243.42,279.34 Z" fill="#aa6ee8"/>
<circle cx="244.92" cy="261.13" r="2.7" fill="#fff" stroke="#aa6ee8" stroke-width="0.9"/><path d="M244.92,258.43 A2.7,2.7 0 0 0 244.92,263.83 Z" fill="#aa6ee8"/>
<path d="M244.92,243.2 L243.98,250.83 L239.29,281.09 L234.59,297.22 L228.77,310.7 L222.95,318.88 L217.13,324.57 L211.31,330.33 L205.48,336.02 L199.66,340.38 L193.84,344.09 L188.02,347.27 L182.2,350.12 L176.37,352.65 L170.55,354.81 L164.73,356.35 L158.91,357.53 L153.09,359.51 L147.27,366.18" fill="none" stroke="#aa6ee8" stroke-width="1.25"/>
<circle cx="244.92" cy="243.2" r="2.7" fill="#fff" stroke="#aa6ee8" stroke-width="0.9"/><path d="M244.92,240.5 A2.7,2.7 0 0 0 244.92,245.9 Z" fill="#aa6ee8"/>
<circle cx="243.98" cy="250.83" r="2.7" fill="#fff" stroke="#aa6ee8" stroke-width="0.9"/><path d="M243.98,248.13 A2.7,2.7 0 0 0 243.98,253.53 Z" fill="#aa6ee8"/>
<circle cx="239.29" cy="281.09" r="2.7" fill="#fff" stroke="#aa6ee8" stroke-width="0.9"/><path d="M239.29,278.39 A2.7,2.7 0 0 0 239.29,283.79 Z" fill="#aa6ee8"/>
<circle cx="234.59" cy="297.22" r="2.7" fill="#fff" stroke="#aa6ee8" stroke-width="0.9"/><path d="M234.59,294.52 A2.7,2.7 0 0 0 234.59,299.92 Z" fill="#aa6ee8"/>
<circle cx="228.77" cy="310.7" r="2.7" fill="#fff" stroke="#aa6ee8" stroke-width="0.9"/><path d="M228.77,308 A2.7,2.7 0 0 0 228.77,313.4 Z" fill="#aa6ee8"/>
<circle cx="222.95" cy="318.88" r="2.7" fill="#fff" stroke="#aa6ee8" stroke-width="0.9"/><path d="M222.95,316.18 A2.7,2.7 0 0 0 222.95,321.58 Z" fill="#aa6ee8"/>
<circle cx="217.13" cy="324.57" r="2.7" fill="#fff" stroke="#aa6ee8" stroke-width="0.9"/><path d="M217.13,321.87 A2.7,2.7 0 0 0 217.13,327.27 Z" fill="#aa6ee8"/>
<circle cx="211.31" cy="330.33" r="2.7" fill="#fff" stroke="#aa6ee8" stroke-width="0.9"/><path d="M211.31,327.63 A2.7,2.7 0 0 0 211.31,333.03 Z" fill="#aa6ee8"/>
<circle cx="205.48" cy="336.02" r="2.7" fill="#fff" stroke="#aa6ee8" stroke-width="0.9"/><path d="M205.48,333.32 A2.7,2.7 0 0 0 205.48,338.72 Z" fill="#aa6ee8"/>
<circle cx="199.66" cy="340.38" r="2.7" fill="#fff" stroke="#aa6ee8" stroke-width="0.9"/><path d="M199.66,337.68 A2.7,2.7 0 0 0 199.66,343.08 Z" fill="#aa6ee8"/>
<circle cx="193.84" cy="344.09" r="2.7" fill="#fff" stroke="#aa6ee8" stroke-width="0.9"/><path d="M193.84,341.39 A2.7,2.7 0 0 0 193.84,346.79 Z" fill="#aa6ee8"/>
<circle cx="188.02" cy="347.27" r="2.7" fill="#fff" stroke="#aa6ee8" stroke-width="0.9"/><path d="M188.02,344.57 A2.7,2.7 0 0 0 188.02,349.97 Z" fill="#aa6ee8"/>
<circle cx="182.2" cy="350.12" r="2.7" fill="#fff" stroke="#aa6ee8" stroke-width="0.9"/><path d="M182.2,347.42 A2.7,2.7 0 0 0 182.2,352.82 Z" fill="#aa6ee8"/>
<circle cx="176.37" cy="352.65" r="2.7" fill="#fff" stroke="#aa6ee8" stroke-width="0.9"/><path d="M176.37,349.95 A2.7,2.7 0 0 0 176.37,355.35 Z" fill="#aa6ee8"/>
<circle cx="170.55" cy="354.81" r="2.7" fill="#fff" stroke="#aa6ee8" stroke-width="0.9"/><path d="M170.55,352.11 A2.7,2.7 0 0 0 170.55,357.51 Z" fill="#aa6ee8"/>
<circle cx="164.73" cy="356.35" r="2.7" fill="#fff" stroke="#aa6ee8" stroke-width="0.9"/><path d="M164.73,353.65 A2.7,2.7 0 0 0 164.73,359.05 Z" fill="#aa6ee8"/>
<circle cx="158.91" cy="357.53" r="2.7" fill="#fff" stroke="#aa6ee8" stroke-width="0.9"/><path d="M158.91,354.83 A2.7,2.7 0 0 0 158.91,360.23 Z" fill="#aa6ee8"/>
<circle cx="153.09" cy="359.51" r="2.7" fill="#fff" stroke="#aa6ee8" stroke-width="0.9"/><path d="M153.09,356.81 A2.7,2.7 0 0 0 153.09,362.21 Z" fill="#aa6ee8"/>
<circle cx="147.27" cy="366.18" r="2.7" fill="#fff" stroke="#aa6ee8" stroke-width="0.9"/><path d="M147.27,363.48 A2.7,2.7 0 0 0 147.27,368.88 Z" fill="#aa6ee8"/>
<path d="M59.75,393.86 L65.48,389.81 L71.21,388.42 L76.93,387.42 L82.66,386.53 L88.39,385.71 L94.12,384.97 L99.85,384.35 L105.57,383.79 L111.3,383.22 L117.03,382.52 L122.76,381.65 L128.49,380.7 L134.21,379.78 L139.94,378.99 L145.67,378.22 L151.4,377.34 L157.13,376.19 L162.85,374.75 L168.58,373.12 L174.31,371.27 L180.04,369.09 L185.77,366.89 L191.49,364.96 L197.22,363.55 L202.95,362.26 L208.68,360.57 L214.4,357.55 L220.13,352.14 L225.86,346.39 L231.59,339.1 L237.32,325.9 L241.54,310.44 L243.42,300.77 L244.92,292.21" fill="none" stroke="#1a66e6" stroke-width="1.25"/>
<path d="M56.65,391.53 L62.86,391.53 L59.75,396.81 Z" fill="#fff" stroke="#1a66e6" stroke-width="0.9"/><path d="M56.65,391.53 L59.75,391.53 L59.75,396.81 Z" fill="#1a66e6"/>
<path d="M62.37,387.48 L68.58,387.48 L65.48,392.76 Z" fill="#fff" stroke="#1a66e6" stroke-width="0.9"/><path d="M62.37,387.48 L65.48,387.48 L65.48,392.76 Z" fill="#1a66e6"/>
<path d="M68.1,386.09 L74.31,386.09 L71.21,391.37 Z" fill="#fff" stroke="#1a66e6" stroke-width="0.9"/><path d="M68.1,386.09 L71.21,386.09 L71.21,391.37 Z" fill="#1a66e6"/>
<path d="M73.83,385.09 L80.04,385.09 L76.93,390.37 Z" fill="#fff" stroke="#1a66e6" stroke-width="0.9"/><path d="M73.83,385.09 L76.93,385.09 L76.93,390.37 Z" fill="#1a66e6"/>
<path d="M79.56,384.2 L85.77,384.2 L82.66,389.48 Z" fill="#fff" stroke="#1a66e6" stroke-width="0.9"/><path d="M79.56,384.2 L82.66,384.2 L82.66,389.48 Z" fill="#1a66e6"/>
<path d="M85.29,383.38 L91.5,383.38 L88.39,388.66 Z" fill="#fff" stroke="#1a66e6" stroke-width="0.9"/><path d="M85.29,383.38 L88.39,383.38 L88.39,388.66 Z" fill="#1a66e6"/>
<path d="M91.01,382.64 L97.22,382.64 L94.12,387.92 Z" fill="#fff" stroke="#1a66e6" stroke-width="0.9"/><path d="M91.01,382.64 L94.12,382.64 L94.12,387.92 Z" fill="#1a66e6"/>
<path d="M96.74,382.02 L102.95,382.02 L99.85,387.3 Z" fill="#fff" stroke="#1a66e6" stroke-width="0.9"/><path d="M96.74,382.02 L99.85,382.02 L99.85,387.3 Z" fill="#1a66e6"/>
<path d="M102.47,381.46 L108.68,381.46 L105.57,386.74 Z" fill="#fff" stroke="#1a66e6" stroke-width="0.9"/><path d="M102.47,381.46 L105.57,381.46 L105.57,386.74 Z" fill="#1a66e6"/>
<path d="M108.2,380.89 L114.41,380.89 L111.3,386.17 Z" fill="#fff" stroke="#1a66e6" stroke-width="0.9"/><path d="M108.2,380.89 L111.3,380.89 L111.3,386.17 Z" fill="#1a66e6"/>
<path d="M113.93,380.19 L120.14,380.19 L117.03,385.47 Z" fill="#fff" stroke="#1a66e6" stroke-width="0.9"/><path d="M113.93,380.19 L117.03,380.19 L117.03,385.47 Z" fill="#1a66e6"/>
<path d="M119.65,379.32 L125.86,379.32 L122.76,384.6 Z" fill="#fff" stroke="#1a66e6" stroke-width="0.9"/><path d="M119.65,379.32 L122.76,379.32 L122.76,384.6 Z" fill="#1a66e6"/>
<path d="M125.38,378.37 L131.59,378.37 L128.49,383.65 Z" fill="#fff" stroke="#1a66e6" stroke-width="0.9"/><path d="M125.38,378.37 L128.49,378.37 L128.49,383.65 Z" fill="#1a66e6"/>
<path d="M131.11,377.45 L137.32,377.45 L134.21,382.73 Z" fill="#fff" stroke="#1a66e6" stroke-width="0.9"/><path d="M131.11,377.45 L134.21,377.45 L134.21,382.73 Z" fill="#1a66e6"/>
<path d="M136.84,376.66 L143.05,376.66 L139.94,381.94 Z" fill="#fff" stroke="#1a66e6" stroke-width="0.9"/><path d="M136.84,376.66 L139.94,376.66 L139.94,381.94 Z" fill="#1a66e6"/>
<path d="M142.56,375.89 L148.77,375.89 L145.67,381.17 Z" fill="#fff" stroke="#1a66e6" stroke-width="0.9"/><path d="M142.56,375.89 L145.67,375.89 L145.67,381.17 Z" fill="#1a66e6"/>
<path d="M148.29,375.01 L154.5,375.01 L151.4,380.29 Z" fill="#fff" stroke="#1a66e6" stroke-width="0.9"/><path d="M148.29,375.01 L151.4,375.01 L151.4,380.29 Z" fill="#1a66e6"/>
<path d="M154.02,373.86 L160.23,373.86 L157.13,379.14 Z" fill="#fff" stroke="#1a66e6" stroke-width="0.9"/><path d="M154.02,373.86 L157.13,373.86 L157.13,379.14 Z" fill="#1a66e6"/>
<path d="M159.75,372.42 L165.96,372.42 L162.85,377.7 Z" fill="#fff" stroke="#1a66e6" stroke-width="0.9"/><path d="M159.75,372.42 L162.85,372.42 L162.85,377.7 Z" fill="#1a66e6"/>
<path d="M165.48,370.79 L171.69,370.79 L168.58,376.07 Z" fill="#fff" stroke="#1a66e6" stroke-width="0.9"/><path d="M165.48,370.79 L168.58,370.79 L168.58,376.07 Z" fill="#1a66e6"/>
<path d="M171.2,368.94 L177.41,368.94 L174.31,374.22 Z" fill="#fff" stroke="#1a66e6" stroke-width="0.9"/><path d="M171.2,368.94 L174.31,368.94 L174.31,374.22 Z" fill="#1a66e6"/>
<path d="M176.93,366.76 L183.14,366.76 L180.04,372.04 Z" fill="#fff" stroke="#1a66e6" stroke-width="0.9"/><path d="M176.93,366.76 L180.04,366.76 L180.04,372.04 Z" fill="#1a66e6"/>
<path d="M182.66,364.56 L188.87,364.56 L185.77,369.84 Z" fill="#fff" stroke="#1a66e6" stroke-width="0.9"/><path d="M182.66,364.56 L185.77,364.56 L185.77,369.84 Z" fill="#1a66e6"/>
<path d="M188.39,362.63 L194.6,362.63 L191.49,367.91 Z" fill="#fff" stroke="#1a66e6" stroke-width="0.9"/><path d="M188.39,362.63 L191.49,362.63 L191.49,367.91 Z" fill="#1a66e6"/>
<path d="M194.12,361.22 L200.33,361.22 L197.22,366.5 Z" fill="#fff" stroke="#1a66e6" stroke-width="0.9"/><path d="M194.12,361.22 L197.22,361.22 L197.22,366.5 Z" fill="#1a66e6"/>
<path d="M199.84,359.93 L206.05,359.93 L202.95,365.21 Z" fill="#fff" stroke="#1a66e6" stroke-width="0.9"/><path d="M199.84,359.93 L202.95,359.93 L202.95,365.21 Z" fill="#1a66e6"/>
<path d="M205.57,358.25 L211.78,358.25 L208.68,363.52 Z" fill="#fff" stroke="#1a66e6" stroke-width="0.9"/><path d="M205.57,358.25 L208.68,358.25 L208.68,363.52 Z" fill="#1a66e6"/>
<path d="M211.3,355.22 L217.51,355.22 L214.4,360.5 Z" fill="#fff" stroke="#1a66e6" stroke-width="0.9"/><path d="M211.3,355.22 L214.4,355.22 L214.4,360.5 Z" fill="#1a66e6"/>
<path d="M217.03,349.81 L223.24,349.81 L220.13,355.09 Z" fill="#fff" stroke="#1a66e6" stroke-width="0.9"/><path d="M217.03,349.81 L220.13,349.81 L220.13,355.09 Z" fill="#1a66e6"/>
<path d="M222.76,344.07 L228.97,344.07 L225.86,349.34 Z" fill="#fff" stroke="#1a66e6" stroke-width="0.9"/><path d="M222.76,344.07 L225.86,344.07 L225.86,349.34 Z" fill="#1a66e6"/>
<path d="M228.48,336.77 L234.69,336.77 L231.59,342.05 Z" fill="#fff" stroke="#1a66e6" stroke-width="0.9"/><path d="M228.48,336.77 L231.59,336.77 L231.59,342.05 Z" fill="#1a66e6"/>
<path d="M234.21,323.57 L240.42,323.57 L237.32,328.85 Z" fill="#fff" stroke="#1a66e6" stroke-width="0.9"/><path d="M234.21,323.57 L237.32,323.57 L237.32,328.85 Z" fill="#1a66e6"/>
<path d="M238.44,308.11 L244.65,308.11 L241.54,313.39 Z" fill="#fff" stroke="#1a66e6" stroke-width="0.9"/><path d="M238.44,308.11 L241.54,308.11 L241.54,313.39 Z" fill="#1a66e6"/>
<path d="M240.31,298.44 L246.52,298.44 L243.42,303.72 Z" fill="#fff" stroke="#1a66e6" stroke-width="0.9"/><path d="M240.31,298.44 L243.42,298.44 L243.42,303.72 Z" fill="#1a66e6"/>
<path d="M241.82,289.88 L248.03,289.88 L244.92,295.16 Z" fill="#fff" stroke="#1a66e6" stroke-width="0.9"/><path d="M241.82,289.88 L244.92,289.88 L244.92,295.16 Z" fill="#1a66e6"/>
<path d="M244.92,273.38 L243.98,279.33 L239.29,304.29 L234.59,321.18 L228.77,331.97 L222.95,337.92 L217.13,344.29 L211.31,349.5 L205.48,352.39 L199.66,354.5 L193.84,356.47 L188.02,358.88 L182.2,361.78 L176.37,364.68 L170.55,367.07 L164.73,368.52 L158.91,369.57 L153.09,371.32 L147.27,377.07" fill="none" stroke="#1a66e6" stroke-width="1.25"/>
<path d="M241.82,271.05 L248.03,271.05 L244.92,276.33 Z" fill="#fff" stroke="#1a66e6" stroke-width="0.9"/><path d="M241.82,271.05 L244.92,271.05 L244.92,276.33 Z" fill="#1a66e6"/>
<path d="M240.88,277 L247.09,277 L243.98,282.28 Z" fill="#fff" stroke="#1a66e6" stroke-width="0.9"/><path d="M240.88,277 L243.98,277 L243.98,282.28 Z" fill="#1a66e6"/>
<path d="M236.18,301.96 L242.39,301.96 L239.29,307.24 Z" fill="#fff" stroke="#1a66e6" stroke-width="0.9"/><path d="M236.18,301.96 L239.29,301.96 L239.29,307.24 Z" fill="#1a66e6"/>
<path d="M231.49,318.86 L237.7,318.86 L234.59,324.13 Z" fill="#fff" stroke="#1a66e6" stroke-width="0.9"/><path d="M231.49,318.86 L234.59,318.86 L234.59,324.13 Z" fill="#1a66e6"/>
<path d="M225.67,329.64 L231.88,329.64 L228.77,334.92 Z" fill="#fff" stroke="#1a66e6" stroke-width="0.9"/><path d="M225.67,329.64 L228.77,329.64 L228.77,334.92 Z" fill="#1a66e6"/>
<path d="M219.84,335.59 L226.05,335.59 L222.95,340.87 Z" fill="#fff" stroke="#1a66e6" stroke-width="0.9"/><path d="M219.84,335.59 L222.95,335.59 L222.95,340.87 Z" fill="#1a66e6"/>
<path d="M214.02,341.96 L220.23,341.96 L217.13,347.24 Z" fill="#fff" stroke="#1a66e6" stroke-width="0.9"/><path d="M214.02,341.96 L217.13,341.96 L217.13,347.24 Z" fill="#1a66e6"/>
<path d="M208.2,347.18 L214.41,347.18 L211.31,352.45 Z" fill="#fff" stroke="#1a66e6" stroke-width="0.9"/><path d="M208.2,347.18 L211.31,347.18 L211.31,352.45 Z" fill="#1a66e6"/>
<path d="M202.38,350.06 L208.59,350.06 L205.48,355.34 Z" fill="#fff" stroke="#1a66e6" stroke-width="0.9"/><path d="M202.38,350.06 L205.48,350.06 L205.48,355.34 Z" fill="#1a66e6"/>
<path d="M196.56,352.17 L202.77,352.17 L199.66,357.45 Z" fill="#fff" stroke="#1a66e6" stroke-width="0.9"/><path d="M196.56,352.17 L199.66,352.17 L199.66,357.45 Z" fill="#1a66e6"/>
<path d="M190.74,354.14 L196.95,354.14 L193.84,359.42 Z" fill="#fff" stroke="#1a66e6" stroke-width="0.9"/><path d="M190.74,354.14 L193.84,354.14 L193.84,359.42 Z" fill="#1a66e6"/>
<path d="M184.91,356.55 L191.12,356.55 L188.02,361.83 Z" fill="#fff" stroke="#1a66e6" stroke-width="0.9"/><path d="M184.91,356.55 L188.02,356.55 L188.02,361.83 Z" fill="#1a66e6"/>
<path d="M179.09,359.46 L185.3,359.46 L182.2,364.73 Z" fill="#fff" stroke="#1a66e6" stroke-width="0.9"/><path d="M179.09,359.46 L182.2,359.46 L182.2,364.73 Z" fill="#1a66e6"/>
<path d="M173.27,362.35 L179.48,362.35 L176.37,367.63 Z" fill="#fff" stroke="#1a66e6" stroke-width="0.9"/><path d="M173.27,362.35 L176.37,362.35 L176.37,367.63 Z" fill="#1a66e6"/>
<path d="M167.45,364.74 L173.66,364.74 L170.55,370.02 Z" fill="#fff" stroke="#1a66e6" stroke-width="0.9"/><path d="M167.45,364.74 L170.55,364.74 L170.55,370.02 Z" fill="#1a66e6"/>
<path d="M161.63,366.19 L167.84,366.19 L164.73,371.46 Z" fill="#fff" stroke="#1a66e6" stroke-width="0.9"/><path d="M161.63,366.19 L164.73,366.19 L164.73,371.46 Z" fill="#1a66e6"/>
<path d="M155.8,367.24 L162.01,367.24 L158.91,372.52 Z" fill="#fff" stroke="#1a66e6" stroke-width="0.9"/><path d="M155.8,367.24 L158.91,367.24 L158.91,372.52 Z" fill="#1a66e6"/>
<path d="M149.98,368.99 L156.19,368.99 L153.09,374.27 Z" fill="#fff" stroke="#1a66e6" stroke-width="0.9"/><path d="M149.98,368.99 L153.09,368.99 L153.09,374.27 Z" fill="#1a66e6"/>
<path d="M144.16,374.74 L150.37,374.74 L147.27,380.02 Z" fill="#fff" stroke="#1a66e6" stroke-width="0.9"/><path d="M144.16,374.74 L147.27,374.74 L147.27,380.02 Z" fill="#1a66e6"/>
<line x1="51.4" y1="233.7" x2="75" y2="233.7" stroke="#66bb1a" stroke-width="1.3"/>
<rect x="60.54" y="231.04" width="5.32" height="5.32" fill="#fff" stroke="#66bb1a" stroke-width="0.9"/><rect x="60.54" y="231.04" width="2.66" height="5.32" fill="#66bb1a"/>
<text x="78" y="237.4" font-size="10.1" text-anchor="start" fill="#000" >Ni@N-C-700</text>
<line x1="51.4" y1="246.8" x2="75" y2="246.8" stroke="#f22828" stroke-width="1.3"/>
<circle cx="63.2" cy="246.8" r="2.8" fill="#fff" stroke="#f22828" stroke-width="0.9"/><path d="M63.2,244 A2.8,2.8 0 0 0 63.2,249.6 Z" fill="#f22828"/>
<text x="78" y="250.5" font-size="10.1" text-anchor="start" fill="#000" >Ni@N-C-800</text>
<line x1="51.4" y1="259.5" x2="75" y2="259.5" stroke="#aa6ee8" stroke-width="1.3"/>
<circle cx="63.2" cy="259.5" r="2.8" fill="#fff" stroke="#aa6ee8" stroke-width="0.9"/><path d="M63.2,256.7 A2.8,2.8 0 0 0 63.2,262.3 Z" fill="#aa6ee8"/>
<text x="78" y="263.2" font-size="10.1" text-anchor="start" fill="#000" >Ni@N-C-900</text>
<line x1="51.4" y1="272.6" x2="75" y2="272.6" stroke="#1a66e6" stroke-width="1.3"/>
<path d="M59.98,270.19 L66.42,270.19 L63.2,275.66 Z" fill="#fff" stroke="#1a66e6" stroke-width="0.9"/><path d="M59.98,270.19 L63.2,270.19 L63.2,275.66 Z" fill="#1a66e6"/>
<text x="78" y="276.3" font-size="10.1" text-anchor="start" fill="#000" >Ni@N-C-1000</text>
<text x="153.2" y="429.6" font-size="12" text-anchor="middle" fill="#000" >Relative Pressure (P/Po)</text>
<text transform="translate(14.6,313.3) rotate(-90)" font-size="12" text-anchor="middle">Quantity Adsorbed (cm<tspan font-size="8" dy="-4.5">3</tspan><tspan dy="4.5">/g STP)</tspan></text>
<text x="19.6" y="243.4" font-size="32" text-anchor="start" fill="#000" >c</text>
<rect x="311.3" y="222.9" width="224.3" height="181" fill="none" stroke="#000" stroke-width="1.5"/>
<line x1="310.75" y1="403.9" x2="310.75" y2="407.2" stroke="#000" stroke-width="1.1"/>
<line x1="339.57" y1="403.9" x2="339.57" y2="405.9" stroke="#000" stroke-width="1.1"/>
<line x1="356.43" y1="403.9" x2="356.43" y2="405.9" stroke="#000" stroke-width="1.1"/>
<line x1="368.4" y1="403.9" x2="368.4" y2="405.9" stroke="#000" stroke-width="1.1"/>
<line x1="377.68" y1="403.9" x2="377.68" y2="405.9" stroke="#000" stroke-width="1.1"/>
<line x1="385.26" y1="403.9" x2="385.26" y2="405.9" stroke="#000" stroke-width="1.1"/>
<line x1="391.67" y1="403.9" x2="391.67" y2="405.9" stroke="#000" stroke-width="1.1"/>
<line x1="397.22" y1="403.9" x2="397.22" y2="405.9" stroke="#000" stroke-width="1.1"/>
<line x1="402.12" y1="403.9" x2="402.12" y2="405.9" stroke="#000" stroke-width="1.1"/>
<line x1="406.5" y1="403.9" x2="406.5" y2="407.2" stroke="#000" stroke-width="1.1"/>
<line x1="435.32" y1="403.9" x2="435.32" y2="405.9" stroke="#000" stroke-width="1.1"/>
<line x1="452.18" y1="403.9" x2="452.18" y2="405.9" stroke="#000" stroke-width="1.1"/>
<line x1="464.15" y1="403.9" x2="464.15" y2="405.9" stroke="#000" stroke-width="1.1"/>
<line x1="473.43" y1="403.9" x2="473.43" y2="405.9" stroke="#000" stroke-width="1.1"/>
<line x1="481.01" y1="403.9" x2="481.01" y2="405.9" stroke="#000" stroke-width="1.1"/>
<line x1="487.42" y1="403.9" x2="487.42" y2="405.9" stroke="#000" stroke-width="1.1"/>
<line x1="492.97" y1="403.9" x2="492.97" y2="405.9" stroke="#000" stroke-width="1.1"/>
<line x1="497.87" y1="403.9" x2="497.87" y2="405.9" stroke="#000" stroke-width="1.1"/>
<line x1="502.25" y1="403.9" x2="502.25" y2="407.2" stroke="#000" stroke-width="1.1"/>
<line x1="531.07" y1="403.9" x2="531.07" y2="405.9" stroke="#000" stroke-width="1.1"/>
<text x="310.75" y="418.6" font-size="10" text-anchor="middle" fill="#000" >1</text>
<text x="406.5" y="418.6" font-size="10" text-anchor="middle" fill="#000" >10</text>
<text x="502.25" y="418.6" font-size="10" text-anchor="middle" fill="#000" >100</text>
<line x1="311.3" y1="403.9" x2="308" y2="403.9" stroke="#000" stroke-width="1.1"/>
<line x1="311.3" y1="379.8" x2="309.1" y2="379.8" stroke="#000" stroke-width="1.1"/>
<line x1="311.3" y1="355.7" x2="308" y2="355.7" stroke="#000" stroke-width="1.1"/>
<line x1="311.3" y1="331.6" x2="309.1" y2="331.6" stroke="#000" stroke-width="1.1"/>
<line x1="311.3" y1="307.5" x2="308" y2="307.5" stroke="#000" stroke-width="1.1"/>
<line x1="311.3" y1="283.4" x2="309.1" y2="283.4" stroke="#000" stroke-width="1.1"/>
<line x1="311.3" y1="259.3" x2="308" y2="259.3" stroke="#000" stroke-width="1.1"/>
<line x1="311.3" y1="235.2" x2="309.1" y2="235.2" stroke="#000" stroke-width="1.1"/>
<text x="305.6" y="407.3" font-size="10" text-anchor="end" fill="#000" >0.0</text>
<text x="305.6" y="359.1" font-size="10" text-anchor="end" fill="#000" >0.2</text>
<text x="305.6" y="310.9" font-size="10" text-anchor="end" fill="#000" >0.4</text>
<text x="305.6" y="262.7" font-size="10" text-anchor="end" fill="#000" >0.6</text>
<line x1="353.3" y1="327.6" x2="353.3" y2="391" stroke="#111" stroke-width="1.3" stroke-dasharray="1.4 1.4"/>
<line x1="423.8" y1="238.2" x2="423.8" y2="360.4" stroke="#111" stroke-width="1.3" stroke-dasharray="1.4 1.4"/>
<line x1="474.0" y1="238.2" x2="474.0" y2="357.7" stroke="#111" stroke-width="1.3" stroke-dasharray="1.4 1.4"/>
<path d="M332.3,394.26 L336.37,393.17 L340.43,392.03 L344.5,390.85 L348.57,389.65 L352.63,388.43 L356.7,387.21 L360.77,385.97 L364.84,384.72 L368.9,383.45 L372.97,382.15 L377.04,380.85 L381.1,379.63 L385.7,377.97 L390.3,375.32 L395.5,370.9 L401,366.56 L407.4,362.23 L414.7,355.2 L422.7,345.82 L435,341.48 L450,343.89 L471.1,322.2 L526,328.23" fill="none" stroke="#66bb1a" stroke-width="1.25"/>
<rect x="329.64" y="391.6" width="5.32" height="5.32" fill="#fff" stroke="#66bb1a" stroke-width="0.9"/><rect x="329.64" y="391.6" width="2.66" height="5.32" fill="#66bb1a"/>
<rect x="333.71" y="390.51" width="5.32" height="5.32" fill="#fff" stroke="#66bb1a" stroke-width="0.9"/><rect x="333.71" y="390.51" width="2.66" height="5.32" fill="#66bb1a"/>
<rect x="337.77" y="389.37" width="5.32" height="5.32" fill="#fff" stroke="#66bb1a" stroke-width="0.9"/><rect x="337.77" y="389.37" width="2.66" height="5.32" fill="#66bb1a"/>
<rect x="341.84" y="388.19" width="5.32" height="5.32" fill="#fff" stroke="#66bb1a" stroke-width="0.9"/><rect x="341.84" y="388.19" width="2.66" height="5.32" fill="#66bb1a"/>
<rect x="345.91" y="386.99" width="5.32" height="5.32" fill="#fff" stroke="#66bb1a" stroke-width="0.9"/><rect x="345.91" y="386.99" width="2.66" height="5.32" fill="#66bb1a"/>
<rect x="349.97" y="385.77" width="5.32" height="5.32" fill="#fff" stroke="#66bb1a" stroke-width="0.9"/><rect x="349.97" y="385.77" width="2.66" height="5.32" fill="#66bb1a"/>
<rect x="354.04" y="384.55" width="5.32" height="5.32" fill="#fff" stroke="#66bb1a" stroke-width="0.9"/><rect x="354.04" y="384.55" width="2.66" height="5.32" fill="#66bb1a"/>
<rect x="358.11" y="383.31" width="5.32" height="5.32" fill="#fff" stroke="#66bb1a" stroke-width="0.9"/><rect x="358.11" y="383.31" width="2.66" height="5.32" fill="#66bb1a"/>
<rect x="362.18" y="382.06" width="5.32" height="5.32" fill="#fff" stroke="#66bb1a" stroke-width="0.9"/><rect x="362.18" y="382.06" width="2.66" height="5.32" fill="#66bb1a"/>
<rect x="366.24" y="380.79" width="5.32" height="5.32" fill="#fff" stroke="#66bb1a" stroke-width="0.9"/><rect x="366.24" y="380.79" width="2.66" height="5.32" fill="#66bb1a"/>
<rect x="370.31" y="379.49" width="5.32" height="5.32" fill="#fff" stroke="#66bb1a" stroke-width="0.9"/><rect x="370.31" y="379.49" width="2.66" height="5.32" fill="#66bb1a"/>
<rect x="374.38" y="378.19" width="5.32" height="5.32" fill="#fff" stroke="#66bb1a" stroke-width="0.9"/><rect x="374.38" y="378.19" width="2.66" height="5.32" fill="#66bb1a"/>
<rect x="378.44" y="376.97" width="5.32" height="5.32" fill="#fff" stroke="#66bb1a" stroke-width="0.9"/><rect x="378.44" y="376.97" width="2.66" height="5.32" fill="#66bb1a"/>
<rect x="383.04" y="375.31" width="5.32" height="5.32" fill="#fff" stroke="#66bb1a" stroke-width="0.9"/><rect x="383.04" y="375.31" width="2.66" height="5.32" fill="#66bb1a"/>
<rect x="387.64" y="372.66" width="5.32" height="5.32" fill="#fff" stroke="#66bb1a" stroke-width="0.9"/><rect x="387.64" y="372.66" width="2.66" height="5.32" fill="#66bb1a"/>
<rect x="392.84" y="368.24" width="5.32" height="5.32" fill="#fff" stroke="#66bb1a" stroke-width="0.9"/><rect x="392.84" y="368.24" width="2.66" height="5.32" fill="#66bb1a"/>
<rect x="398.34" y="363.9" width="5.32" height="5.32" fill="#fff" stroke="#66bb1a" stroke-width="0.9"/><rect x="398.34" y="363.9" width="2.66" height="5.32" fill="#66bb1a"/>
<rect x="404.74" y="359.57" width="5.32" height="5.32" fill="#fff" stroke="#66bb1a" stroke-width="0.9"/><rect x="404.74" y="359.57" width="2.66" height="5.32" fill="#66bb1a"/>
<rect x="412.04" y="352.54" width="5.32" height="5.32" fill="#fff" stroke="#66bb1a" stroke-width="0.9"/><rect x="412.04" y="352.54" width="2.66" height="5.32" fill="#66bb1a"/>
<rect x="420.04" y="343.16" width="5.32" height="5.32" fill="#fff" stroke="#66bb1a" stroke-width="0.9"/><rect x="420.04" y="343.16" width="2.66" height="5.32" fill="#66bb1a"/>
<rect x="432.34" y="338.82" width="5.32" height="5.32" fill="#fff" stroke="#66bb1a" stroke-width="0.9"/><rect x="432.34" y="338.82" width="2.66" height="5.32" fill="#66bb1a"/>
<rect x="447.34" y="341.23" width="5.32" height="5.32" fill="#fff" stroke="#66bb1a" stroke-width="0.9"/><rect x="447.34" y="341.23" width="2.66" height="5.32" fill="#66bb1a"/>
<rect x="468.44" y="319.54" width="5.32" height="5.32" fill="#fff" stroke="#66bb1a" stroke-width="0.9"/><rect x="468.44" y="319.54" width="2.66" height="5.32" fill="#66bb1a"/>
<rect x="523.34" y="325.57" width="5.32" height="5.32" fill="#fff" stroke="#66bb1a" stroke-width="0.9"/><rect x="523.34" y="325.57" width="2.66" height="5.32" fill="#66bb1a"/>
<path d="M332.3,373.53 L336.37,369.25 L340.43,363.34 L344.5,357.02 L348.57,353.19 L352.63,351.18 L356.7,352.07 L360.77,351.62 L364.84,350.36 L368.9,347.99 L372.97,344.94 L377.04,340.86 L381.1,335.76 L385.7,328.99 L390.3,322.41 L395.5,316.08 L401,305.86 L407.4,293.66 L414.7,276.75 L422.7,262.43 L433.4,269.66 L448.8,303.64 L469.9,296.41 L529.3,307.02" fill="none" stroke="#f22828" stroke-width="1.25"/>
<circle cx="332.3" cy="373.53" r="2.8" fill="#fff" stroke="#f22828" stroke-width="0.9"/><path d="M332.3,370.73 A2.8,2.8 0 0 0 332.3,376.33 Z" fill="#f22828"/>
<circle cx="336.37" cy="369.25" r="2.8" fill="#fff" stroke="#f22828" stroke-width="0.9"/><path d="M336.37,366.45 A2.8,2.8 0 0 0 336.37,372.05 Z" fill="#f22828"/>
<circle cx="340.43" cy="363.34" r="2.8" fill="#fff" stroke="#f22828" stroke-width="0.9"/><path d="M340.43,360.54 A2.8,2.8 0 0 0 340.43,366.14 Z" fill="#f22828"/>
<circle cx="344.5" cy="357.02" r="2.8" fill="#fff" stroke="#f22828" stroke-width="0.9"/><path d="M344.5,354.22 A2.8,2.8 0 0 0 344.5,359.82 Z" fill="#f22828"/>
<circle cx="348.57" cy="353.19" r="2.8" fill="#fff" stroke="#f22828" stroke-width="0.9"/><path d="M348.57,350.39 A2.8,2.8 0 0 0 348.57,355.99 Z" fill="#f22828"/>
<circle cx="352.63" cy="351.18" r="2.8" fill="#fff" stroke="#f22828" stroke-width="0.9"/><path d="M352.63,348.38 A2.8,2.8 0 0 0 352.63,353.98 Z" fill="#f22828"/>
<circle cx="356.7" cy="352.07" r="2.8" fill="#fff" stroke="#f22828" stroke-width="0.9"/><path d="M356.7,349.27 A2.8,2.8 0 0 0 356.7,354.87 Z" fill="#f22828"/>
<circle cx="360.77" cy="351.62" r="2.8" fill="#fff" stroke="#f22828" stroke-width="0.9"/><path d="M360.77,348.82 A2.8,2.8 0 0 0 360.77,354.42 Z" fill="#f22828"/>
<circle cx="364.84" cy="350.36" r="2.8" fill="#fff" stroke="#f22828" stroke-width="0.9"/><path d="M364.84,347.56 A2.8,2.8 0 0 0 364.84,353.16 Z" fill="#f22828"/>
<circle cx="368.9" cy="347.99" r="2.8" fill="#fff" stroke="#f22828" stroke-width="0.9"/><path d="M368.9,345.19 A2.8,2.8 0 0 0 368.9,350.79 Z" fill="#f22828"/>
<circle cx="372.97" cy="344.94" r="2.8" fill="#fff" stroke="#f22828" stroke-width="0.9"/><path d="M372.97,342.14 A2.8,2.8 0 0 0 372.97,347.74 Z" fill="#f22828"/>
<circle cx="377.04" cy="340.86" r="2.8" fill="#fff" stroke="#f22828" stroke-width="0.9"/><path d="M377.04,338.06 A2.8,2.8 0 0 0 377.04,343.66 Z" fill="#f22828"/>
<circle cx="381.1" cy="335.76" r="2.8" fill="#fff" stroke="#f22828" stroke-width="0.9"/><path d="M381.1,332.96 A2.8,2.8 0 0 0 381.1,338.56 Z" fill="#f22828"/>
<circle cx="385.7" cy="328.99" r="2.8" fill="#fff" stroke="#f22828" stroke-width="0.9"/><path d="M385.7,326.19 A2.8,2.8 0 0 0 385.7,331.79 Z" fill="#f22828"/>
<circle cx="390.3" cy="322.41" r="2.8" fill="#fff" stroke="#f22828" stroke-width="0.9"/><path d="M390.3,319.61 A2.8,2.8 0 0 0 390.3,325.21 Z" fill="#f22828"/>
<circle cx="395.5" cy="316.08" r="2.8" fill="#fff" stroke="#f22828" stroke-width="0.9"/><path d="M395.5,313.28 A2.8,2.8 0 0 0 395.5,318.88 Z" fill="#f22828"/>
<circle cx="401" cy="305.86" r="2.8" fill="#fff" stroke="#f22828" stroke-width="0.9"/><path d="M401,303.06 A2.8,2.8 0 0 0 401,308.66 Z" fill="#f22828"/>
<circle cx="407.4" cy="293.66" r="2.8" fill="#fff" stroke="#f22828" stroke-width="0.9"/><path d="M407.4,290.86 A2.8,2.8 0 0 0 407.4,296.46 Z" fill="#f22828"/>
<circle cx="414.7" cy="276.75" r="2.8" fill="#fff" stroke="#f22828" stroke-width="0.9"/><path d="M414.7,273.95 A2.8,2.8 0 0 0 414.7,279.55 Z" fill="#f22828"/>
<circle cx="422.7" cy="262.43" r="2.8" fill="#fff" stroke="#f22828" stroke-width="0.9"/><path d="M422.7,259.63 A2.8,2.8 0 0 0 422.7,265.23 Z" fill="#f22828"/>
<circle cx="433.4" cy="269.66" r="2.8" fill="#fff" stroke="#f22828" stroke-width="0.9"/><path d="M433.4,266.86 A2.8,2.8 0 0 0 433.4,272.46 Z" fill="#f22828"/>
<circle cx="448.8" cy="303.64" r="2.8" fill="#fff" stroke="#f22828" stroke-width="0.9"/><path d="M448.8,300.84 A2.8,2.8 0 0 0 448.8,306.44 Z" fill="#f22828"/>
<circle cx="469.9" cy="296.41" r="2.8" fill="#fff" stroke="#f22828" stroke-width="0.9"/><path d="M469.9,293.61 A2.8,2.8 0 0 0 469.9,299.21 Z" fill="#f22828"/>
<circle cx="529.3" cy="307.02" r="2.8" fill="#fff" stroke="#f22828" stroke-width="0.9"/><path d="M529.3,304.22 A2.8,2.8 0 0 0 529.3,309.82 Z" fill="#f22828"/>
<path d="M332.3,378.35 L336.37,372.35 L340.43,364.2 L344.5,355.87 L348.57,350.22 L352.63,346.42 L356.7,348.9 L360.77,348.95 L364.84,348.14 L368.9,345.24 L372.97,341.32 L377.04,336.24 L381.1,330.63 L385.7,323.89 L390.3,317.14 L395.5,307.98 L401,294.49 L407.4,279.54 L414.7,260.26 L422.7,243.39 L434.2,262.19 L449.9,290.15 L474,258.09 L529.3,259.54" fill="none" stroke="#aa6ee8" stroke-width="1.25"/>
<circle cx="332.3" cy="378.35" r="2.8" fill="#fff" stroke="#aa6ee8" stroke-width="0.9"/><path d="M332.3,375.55 A2.8,2.8 0 0 0 332.3,381.15 Z" fill="#aa6ee8"/>
<circle cx="336.37" cy="372.35" r="2.8" fill="#fff" stroke="#aa6ee8" stroke-width="0.9"/><path d="M336.37,369.55 A2.8,2.8 0 0 0 336.37,375.15 Z" fill="#aa6ee8"/>
<circle cx="340.43" cy="364.2" r="2.8" fill="#fff" stroke="#aa6ee8" stroke-width="0.9"/><path d="M340.43,361.4 A2.8,2.8 0 0 0 340.43,367 Z" fill="#aa6ee8"/>
<circle cx="344.5" cy="355.87" r="2.8" fill="#fff" stroke="#aa6ee8" stroke-width="0.9"/><path d="M344.5,353.07 A2.8,2.8 0 0 0 344.5,358.67 Z" fill="#aa6ee8"/>
<circle cx="348.57" cy="350.22" r="2.8" fill="#fff" stroke="#aa6ee8" stroke-width="0.9"/><path d="M348.57,347.42 A2.8,2.8 0 0 0 348.57,353.02 Z" fill="#aa6ee8"/>
<circle cx="352.63" cy="346.42" r="2.8" fill="#fff" stroke="#aa6ee8" stroke-width="0.9"/><path d="M352.63,343.62 A2.8,2.8 0 0 0 352.63,349.22 Z" fill="#aa6ee8"/>
<circle cx="356.7" cy="348.9" r="2.8" fill="#fff" stroke="#aa6ee8" stroke-width="0.9"/><path d="M356.7,346.1 A2.8,2.8 0 0 0 356.7,351.7 Z" fill="#aa6ee8"/>
<circle cx="360.77" cy="348.95" r="2.8" fill="#fff" stroke="#aa6ee8" stroke-width="0.9"/><path d="M360.77,346.15 A2.8,2.8 0 0 0 360.77,351.75 Z" fill="#aa6ee8"/>
<circle cx="364.84" cy="348.14" r="2.8" fill="#fff" stroke="#aa6ee8" stroke-width="0.9"/><path d="M364.84,345.34 A2.8,2.8 0 0 0 364.84,350.94 Z" fill="#aa6ee8"/>
<circle cx="368.9" cy="345.24" r="2.8" fill="#fff" stroke="#aa6ee8" stroke-width="0.9"/><path d="M368.9,342.44 A2.8,2.8 0 0 0 368.9,348.04 Z" fill="#aa6ee8"/>
<circle cx="372.97" cy="341.32" r="2.8" fill="#fff" stroke="#aa6ee8" stroke-width="0.9"/><path d="M372.97,338.52 A2.8,2.8 0 0 0 372.97,344.12 Z" fill="#aa6ee8"/>
<circle cx="377.04" cy="336.24" r="2.8" fill="#fff" stroke="#aa6ee8" stroke-width="0.9"/><path d="M377.04,333.44 A2.8,2.8 0 0 0 377.04,339.04 Z" fill="#aa6ee8"/>
<circle cx="381.1" cy="330.63" r="2.8" fill="#fff" stroke="#aa6ee8" stroke-width="0.9"/><path d="M381.1,327.83 A2.8,2.8 0 0 0 381.1,333.43 Z" fill="#aa6ee8"/>
<circle cx="385.7" cy="323.89" r="2.8" fill="#fff" stroke="#aa6ee8" stroke-width="0.9"/><path d="M385.7,321.09 A2.8,2.8 0 0 0 385.7,326.69 Z" fill="#aa6ee8"/>
<circle cx="390.3" cy="317.14" r="2.8" fill="#fff" stroke="#aa6ee8" stroke-width="0.9"/><path d="M390.3,314.34 A2.8,2.8 0 0 0 390.3,319.94 Z" fill="#aa6ee8"/>
<circle cx="395.5" cy="307.98" r="2.8" fill="#fff" stroke="#aa6ee8" stroke-width="0.9"/><path d="M395.5,305.18 A2.8,2.8 0 0 0 395.5,310.78 Z" fill="#aa6ee8"/>
<circle cx="401" cy="294.49" r="2.8" fill="#fff" stroke="#aa6ee8" stroke-width="0.9"/><path d="M401,291.69 A2.8,2.8 0 0 0 401,297.29 Z" fill="#aa6ee8"/>
<circle cx="407.4" cy="279.54" r="2.8" fill="#fff" stroke="#aa6ee8" stroke-width="0.9"/><path d="M407.4,276.74 A2.8,2.8 0 0 0 407.4,282.34 Z" fill="#aa6ee8"/>
<circle cx="414.7" cy="260.26" r="2.8" fill="#fff" stroke="#aa6ee8" stroke-width="0.9"/><path d="M414.7,257.46 A2.8,2.8 0 0 0 414.7,263.06 Z" fill="#aa6ee8"/>
<circle cx="422.7" cy="243.39" r="2.8" fill="#fff" stroke="#aa6ee8" stroke-width="0.9"/><path d="M422.7,240.59 A2.8,2.8 0 0 0 422.7,246.19 Z" fill="#aa6ee8"/>
<circle cx="434.2" cy="262.19" r="2.8" fill="#fff" stroke="#aa6ee8" stroke-width="0.9"/><path d="M434.2,259.39 A2.8,2.8 0 0 0 434.2,264.99 Z" fill="#aa6ee8"/>
<circle cx="449.9" cy="290.15" r="2.8" fill="#fff" stroke="#aa6ee8" stroke-width="0.9"/><path d="M449.9,287.35 A2.8,2.8 0 0 0 449.9,292.95 Z" fill="#aa6ee8"/>
<circle cx="474" cy="258.09" r="2.8" fill="#fff" stroke="#aa6ee8" stroke-width="0.9"/><path d="M474,255.29 A2.8,2.8 0 0 0 474,260.89 Z" fill="#aa6ee8"/>
<circle cx="529.3" cy="259.54" r="2.8" fill="#fff" stroke="#aa6ee8" stroke-width="0.9"/><path d="M529.3,256.74 A2.8,2.8 0 0 0 529.3,262.34 Z" fill="#aa6ee8"/>
<path d="M332.3,389.92 L336.37,382.97 L340.43,372.27 L344.5,363.07 L348.57,358.97 L352.63,356.97 L356.7,358.56 L360.77,358.29 L364.84,356.97 L368.9,354.06 L372.97,351.23 L377.04,348.08 L381.1,344.3 L385.7,339.4 L390.3,334.01 L395.5,326.91 L401,314.23 L407.4,300.03 L414.7,281.95 L422.7,263.64 L434.2,268.46 L449.9,286.53 L474,282.44 L517.8,294.73" fill="none" stroke="#1a66e6" stroke-width="1.25"/>
<path d="M329.08,387.51 L335.52,387.51 L332.3,392.98 Z" fill="#fff" stroke="#1a66e6" stroke-width="0.9"/><path d="M329.08,387.51 L332.3,387.51 L332.3,392.98 Z" fill="#1a66e6"/>
<path d="M333.15,380.56 L339.59,380.56 L336.37,386.03 Z" fill="#fff" stroke="#1a66e6" stroke-width="0.9"/><path d="M333.15,380.56 L336.37,380.56 L336.37,386.03 Z" fill="#1a66e6"/>
<path d="M337.21,369.86 L343.65,369.86 L340.43,375.33 Z" fill="#fff" stroke="#1a66e6" stroke-width="0.9"/><path d="M337.21,369.86 L340.43,369.86 L340.43,375.33 Z" fill="#1a66e6"/>
<path d="M341.28,360.66 L347.72,360.66 L344.5,366.13 Z" fill="#fff" stroke="#1a66e6" stroke-width="0.9"/><path d="M341.28,360.66 L344.5,360.66 L344.5,366.13 Z" fill="#1a66e6"/>
<path d="M345.35,356.55 L351.79,356.55 L348.57,362.03 Z" fill="#fff" stroke="#1a66e6" stroke-width="0.9"/><path d="M345.35,356.55 L348.57,356.55 L348.57,362.03 Z" fill="#1a66e6"/>
<path d="M349.41,354.55 L355.86,354.55 L352.63,360.02 Z" fill="#fff" stroke="#1a66e6" stroke-width="0.9"/><path d="M349.41,354.55 L352.63,354.55 L352.63,360.02 Z" fill="#1a66e6"/>
<path d="M353.48,356.15 L359.92,356.15 L356.7,361.62 Z" fill="#fff" stroke="#1a66e6" stroke-width="0.9"/><path d="M353.48,356.15 L356.7,356.15 L356.7,361.62 Z" fill="#1a66e6"/>
<path d="M357.55,355.88 L363.99,355.88 L360.77,361.35 Z" fill="#fff" stroke="#1a66e6" stroke-width="0.9"/><path d="M357.55,355.88 L360.77,355.88 L360.77,361.35 Z" fill="#1a66e6"/>
<path d="M361.62,354.56 L368.06,354.56 L364.84,360.03 Z" fill="#fff" stroke="#1a66e6" stroke-width="0.9"/><path d="M361.62,354.56 L364.84,354.56 L364.84,360.03 Z" fill="#1a66e6"/>
<path d="M365.68,351.65 L372.12,351.65 L368.9,357.12 Z" fill="#fff" stroke="#1a66e6" stroke-width="0.9"/><path d="M365.68,351.65 L368.9,351.65 L368.9,357.12 Z" fill="#1a66e6"/>
<path d="M369.75,348.82 L376.19,348.82 L372.97,354.29 Z" fill="#fff" stroke="#1a66e6" stroke-width="0.9"/><path d="M369.75,348.82 L372.97,348.82 L372.97,354.29 Z" fill="#1a66e6"/>
<path d="M373.82,345.67 L380.26,345.67 L377.04,351.14 Z" fill="#fff" stroke="#1a66e6" stroke-width="0.9"/><path d="M373.82,345.67 L377.04,345.67 L377.04,351.14 Z" fill="#1a66e6"/>
<path d="M377.88,341.88 L384.32,341.88 L381.1,347.36 Z" fill="#fff" stroke="#1a66e6" stroke-width="0.9"/><path d="M377.88,341.88 L381.1,341.88 L381.1,347.36 Z" fill="#1a66e6"/>
<path d="M382.48,336.98 L388.92,336.98 L385.7,342.46 Z" fill="#fff" stroke="#1a66e6" stroke-width="0.9"/><path d="M382.48,336.98 L385.7,336.98 L385.7,342.46 Z" fill="#1a66e6"/>
<path d="M387.08,331.59 L393.52,331.59 L390.3,337.07 Z" fill="#fff" stroke="#1a66e6" stroke-width="0.9"/><path d="M387.08,331.59 L390.3,331.59 L390.3,337.07 Z" fill="#1a66e6"/>
<path d="M392.28,324.5 L398.72,324.5 L395.5,329.97 Z" fill="#fff" stroke="#1a66e6" stroke-width="0.9"/><path d="M392.28,324.5 L395.5,324.5 L395.5,329.97 Z" fill="#1a66e6"/>
<path d="M397.78,311.81 L404.22,311.81 L401,317.29 Z" fill="#fff" stroke="#1a66e6" stroke-width="0.9"/><path d="M397.78,311.81 L401,311.81 L401,317.29 Z" fill="#1a66e6"/>
<path d="M404.18,297.61 L410.62,297.61 L407.4,303.09 Z" fill="#fff" stroke="#1a66e6" stroke-width="0.9"/><path d="M404.18,297.61 L407.4,297.61 L407.4,303.09 Z" fill="#1a66e6"/>
<path d="M411.48,279.54 L417.92,279.54 L414.7,285.01 Z" fill="#fff" stroke="#1a66e6" stroke-width="0.9"/><path d="M411.48,279.54 L414.7,279.54 L414.7,285.01 Z" fill="#1a66e6"/>
<path d="M419.48,261.22 L425.92,261.22 L422.7,266.7 Z" fill="#fff" stroke="#1a66e6" stroke-width="0.9"/><path d="M419.48,261.22 L422.7,261.22 L422.7,266.7 Z" fill="#1a66e6"/>
<path d="M430.98,266.04 L437.42,266.04 L434.2,271.52 Z" fill="#fff" stroke="#1a66e6" stroke-width="0.9"/><path d="M430.98,266.04 L434.2,266.04 L434.2,271.52 Z" fill="#1a66e6"/>
<path d="M446.68,284.12 L453.12,284.12 L449.9,289.59 Z" fill="#fff" stroke="#1a66e6" stroke-width="0.9"/><path d="M446.68,284.12 L449.9,284.12 L449.9,289.59 Z" fill="#1a66e6"/>
<path d="M470.78,280.02 L477.22,280.02 L474,285.5 Z" fill="#fff" stroke="#1a66e6" stroke-width="0.9"/><path d="M470.78,280.02 L474,280.02 L474,285.5 Z" fill="#1a66e6"/>
<path d="M514.58,292.31 L521.02,292.31 L517.8,297.79 Z" fill="#fff" stroke="#1a66e6" stroke-width="0.9"/><path d="M514.58,292.31 L517.8,292.31 L517.8,297.79 Z" fill="#1a66e6"/>
<line x1="315" y1="233.0" x2="339" y2="233.0" stroke="#66bb1a" stroke-width="1.3"/>
<rect x="324.54" y="230.34" width="5.32" height="5.32" fill="#fff" stroke="#66bb1a" stroke-width="0.9"/><rect x="324.54" y="230.34" width="2.66" height="5.32" fill="#66bb1a"/>
<text x="341.6" y="236.7" font-size="10.1" text-anchor="start" fill="#000" >Ni@N-C-700</text>
<line x1="315" y1="245.6" x2="339" y2="245.6" stroke="#f22828" stroke-width="1.3"/>
<circle cx="327.2" cy="245.6" r="2.8" fill="#fff" stroke="#f22828" stroke-width="0.9"/><path d="M327.2,242.8 A2.8,2.8 0 0 0 327.2,248.4 Z" fill="#f22828"/>
<text x="341.6" y="249.3" font-size="10.1" text-anchor="start" fill="#000" >Ni@N-C-800</text>
<line x1="315" y1="258.4" x2="339" y2="258.4" stroke="#aa6ee8" stroke-width="1.3"/>
<circle cx="327.2" cy="258.4" r="2.8" fill="#fff" stroke="#aa6ee8" stroke-width="0.9"/><path d="M327.2,255.6 A2.8,2.8 0 0 0 327.2,261.2 Z" fill="#aa6ee8"/>
<text x="341.6" y="262.1" font-size="10.1" text-anchor="start" fill="#000" >Ni@N-C-900</text>
<line x1="315" y1="271.0" x2="339" y2="271.0" stroke="#1a66e6" stroke-width="1.3"/>
<path d="M323.98,268.58 L330.42,268.58 L327.2,274.06 Z" fill="#fff" stroke="#1a66e6" stroke-width="0.9"/><path d="M323.98,268.58 L327.2,268.58 L327.2,274.06 Z" fill="#1a66e6"/>
<text x="341.6" y="274.7" font-size="10.1" text-anchor="start" fill="#000" >Ni@N-C-1000</text>
<text x="413.7" y="236" font-size="10" text-anchor="start" fill="#000" >15 nm</text>
<text x="464.4" y="236" font-size="10" text-anchor="start" fill="#000" >51 nm</text>
<text x="342" y="325.9" font-size="10" text-anchor="start" fill="#000" >2.8 nm</text>
<text x="423.5" y="430" font-size="12" text-anchor="middle" fill="#000" >Pore Diameter (nm)</text>
<text transform="translate(287.9,313.3) rotate(-90)" font-size="12" text-anchor="middle">dV/dlog(D) Pore Volume (cm<tspan font-size="8" dy="-4.5">3</tspan><tspan dy="4.5">/g)</tspan></text>
<text x="291.4" y="242.9" font-size="30" text-anchor="start" fill="#000" >d</text>
</svg>
</body></html>
